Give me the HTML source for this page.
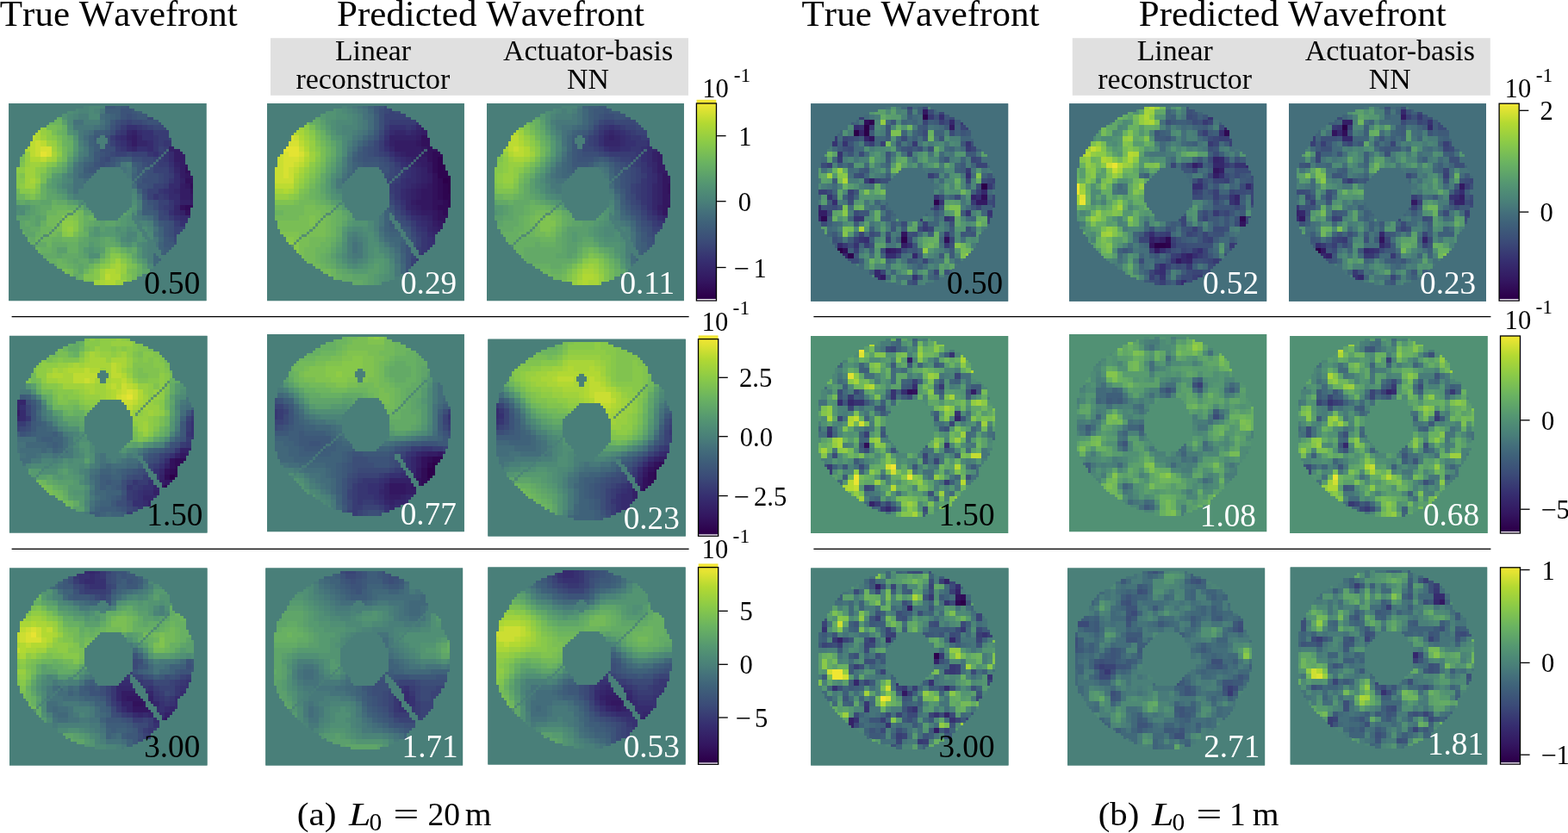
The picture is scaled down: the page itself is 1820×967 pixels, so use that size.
<!DOCTYPE html>
<html lang="en"><head><meta charset="utf-8"><title>Wavefront reconstruction</title>
<style>html,body{margin:0;padding:0;background:#fff;overflow:hidden}svg{display:block}text{font-family:"Liberation Serif",serif;fill:#000}.w{fill:#fff}.i{font-style:italic}</style></head><body>
<svg width="1820" height="967" viewBox="0 0 1820 967">
<rect width="1820" height="967" fill="#fff"/>
<defs><filter id="hb" x="-5%" y="-5%" width="110%" height="110%" color-interpolation-filters="sRGB"><feGaussianBlur stdDeviation="0.24"/></filter></defs>
<text x="-0.2" y="30.1" font-size="43.0" style="font-kerning:none">True Wavefront</text>
<text x="391.0" y="30.1" font-size="43.0" style="font-kerning:none">Predicted Wavefront</text>
<rect x="314" y="44.2" width="485" height="66.6" fill="#e0e0e0"/>
<text x="433.0" y="69.6" font-size="33.8" text-anchor="middle">Linear</text>
<text x="432.8" y="103.4" font-size="33.9" text-anchor="middle">reconstructor</text>
<text x="682.6" y="69.6" font-size="33.95" text-anchor="middle">Actuator-basis</text>
<text x="682.4" y="103.4" font-size="33.8" text-anchor="middle">NN</text>
<rect x="13.6" y="366.95" width="786" height="1.3" fill="#000"/>
<rect x="13.6" y="636.65" width="786" height="1.3" fill="#000"/>
<text x="930.5999999999999" y="30.1" font-size="43.0" style="font-kerning:none">True Wavefront</text>
<text x="1321.8" y="30.1" font-size="43.0" style="font-kerning:none">Predicted Wavefront</text>
<rect x="1244.8" y="44.2" width="485" height="66.6" fill="#e0e0e0"/>
<text x="1363.8" y="69.6" font-size="33.8" text-anchor="middle">Linear</text>
<text x="1363.6" y="103.4" font-size="33.9" text-anchor="middle">reconstructor</text>
<text x="1613.4" y="69.6" font-size="33.95" text-anchor="middle">Actuator-basis</text>
<text x="1613.1999999999998" y="103.4" font-size="33.8" text-anchor="middle">NN</text>
<rect x="944.4" y="366.95" width="786" height="1.3" fill="#000"/>
<rect x="944.4" y="636.65" width="786" height="1.3" fill="#000"/>
<svg x="10.2" y="120.0" width="229.3" height="229.3" viewBox="0 0 74 74" preserveAspectRatio="none" shape-rendering="crispEdges">
<rect width="74" height="74" fill="#497e79"/>
<g filter="url(#hb)"><rect x="-3" y="-3" width="80" height="80" fill="#497e79"/>
<g transform="scale(2) translate(0,.5)" fill="none" stroke-width="1">
<path stroke="#300b56" d="M34 15h1M33 19h2"/>
<path stroke="#32115b" d="M33 12h1M33 14h2M34 16h1M32 19h1M33 20h1"/>
<path stroke="#331760" d="M33 11h1M33 13h2M33 15h1M34 17h1"/>
<path stroke="#341c64" d="M23 6h1M23 7h1M31 8h1M31 9h2M31 10h2M32 11h1M32 12h1M32 13h1M32 15h1M32 16h2M32 17h2M34 18h1"/>
<path stroke="#342167" d="M23 5h1M22 6h1M30 8h1M31 11h1M32 14h1M32 18h2M32 20h1"/>
<path stroke="#35266a" d="M22 5h1M24 6h1M22 7h1M24 7h2M23 8h1M31 12h1M31 16h1M31 19h1M31 20h1"/>
<path stroke="#362b6e" d="M24 5h1M21 6h1M26 7h1M22 8h1M26 8h1M30 9h1M30 10h1M31 13h1M31 14h1M30 15h2M30 16h1M30 17h2M31 18h1M32 21h2"/>
<path stroke="#363071" d="M22 4h2M25 5h2M20 6h1M25 6h2M21 7h1M24 8h2M27 9h1M30 11h1M29 16h1M30 20h1M31 21h1M32 22h2"/>
<path stroke="#373672" d="M24 4h1M21 5h1M27 6h1M20 7h1M27 7h1M29 7h2M21 8h1M27 8h1M26 9h1M29 9h1M29 10h1M30 12h1M30 14h1M28 16h1M27 17h1M29 17h1M30 18h1M30 19h1"/>
<path stroke="#383c74" d="M21 4h1M25 4h1M20 5h1M27 5h3M19 6h1M28 6h2M28 7h1M20 8h1M29 8h1M28 9h1M28 10h1M28 11h2M30 13h1M29 15h1M28 17h1M29 19h1M30 21h1M31 22h1"/>
<path stroke="#394276" d="M22 3h1M26 4h1M30 6h1M19 7h1M28 8h1M20 9h2M23 9h3M27 10h1M27 11h1M27 12h3M29 13h1M29 14h1M27 15h2M26 16h2M26 17h1M28 18h2M28 19h1M29 20h1M31 23h2M31 24h1"/>
<path stroke="#3a4877" d="M26 2h1M21 3h1M23 3h2M20 4h1M27 4h3M19 9h1M22 9h1M18 10h1M25 10h2M26 11h1M28 13h1M28 14h1M28 20h1M28 21h2M31 25h1"/>
<path stroke="#3b4e78" d="M22 2h1M20 3h1M25 3h1M28 3h1M19 5h1M18 6h1M18 7h1M17 8h3M18 9h1M17 10h1M23 10h2M17 11h1M25 11h1M26 12h1M26 13h2M25 14h3M26 15h1M25 16h1M27 18h1M27 19h1M30 22h1M30 23h1M30 24h1M31 26h1"/>
<path stroke="#3c5379" d="M22 0h1M21 1h2M21 2h1M23 2h1M26 3h2M19 4h1M17 9h1M19 10h1M16 11h1M18 11h1M25 12h1M25 13h1M24 15h2M25 17h1M26 18h1M29 22h1M29 23h1M29 24h1M30 25h1"/>
<path stroke="#3d5879" d="M18 0h2M21 0h1M23 1h1M24 2h2M19 3h1M18 5h1M16 6h1M16 9h1M16 10h1M20 10h1M19 11h1M24 11h1M15 12h2M24 12h1M24 13h1M24 14h1M26 19h1M27 20h1M28 22h1M29 25h1M29 26h2M30 27h1"/>
<path stroke="#3e5d79" d="M20 0h1M18 1h3M24 1h1M20 2h1M16 5h2M16 7h1M16 8h1M21 10h2M15 11h1M23 11h1M14 12h1M25 18h1M25 19h1M25 20h2M27 21h1M29 27h1M28 28h2"/>
<path stroke="#3f627a" d="M19 2h1M18 4h1M15 6h1M15 7h1M14 11h1M20 11h1M14 13h2M23 13h1M23 14h1M24 16h1M28 23h1M28 24h1M28 26h1M28 27h1M28 29h1"/>
<path stroke="#40677a" d="M18 2h1M18 3h1M15 8h1M15 9h1M15 10h1M23 12h1M13 13h1M27 22h1M28 25h1M27 28h1M27 29h1M27 30h1"/>
<path stroke="#436c7b" d="M17 2h1M17 4h1M15 5h1M14 6h1M14 10h1M13 11h1M13 12h1M14 14h1M23 15h1M26 21h1M27 24h1"/>
<path stroke="#45727b" d="M12 3h2M17 3h1M16 4h1M14 5h1M14 7h1M12 12h1M21 12h1M12 13h1M12 14h2M12 15h2M12 16h1M24 17h1M24 20h1M25 21h1M27 23h1M27 26h1"/>
<path stroke="#47787a" d="M17 1h1M12 4h4M13 5h1M13 6h1M14 8h1M14 9h1M13 10h1M12 11h1M21 11h1M22 12h1M22 13h1M24 21h1M27 25h1"/>
<path stroke="#497e79" d="M13 2h2M14 3h3M13 7h1M13 9h1M22 11h1M11 13h1M22 14h1M11 15h1M11 16h1M13 16h1M12 17h2M24 18h1M24 19h1M26 22h1M26 26h1M26 27h1M26 28h1M26 29h1"/>
<path stroke="#4b8478" d="M14 0h1M17 0h1M13 1h2M16 1h1M12 2h1M13 8h1M11 14h1M10 15h1M23 16h1M24 22h2M26 23h1M22 24h2M22 25h1M25 26h1M25 27h1M25 28h1"/>
<path stroke="#4d8977" d="M15 0h2M12 1h1M15 1h1M11 2h1M15 2h2M11 3h1M12 5h1M12 10h1M11 12h1M10 13h1M10 14h1M11 17h1M23 17h1M1 19h1M2 20h1M22 23h1M26 24h1M21 25h1M23 25h1M26 25h1M24 26h1M26 30h1"/>
<path stroke="#4f8e75" d="M11 1h1M11 4h1M9 15h1M10 16h1M13 18h2M23 18h1M2 19h1M1 20h1M23 20h1M20 23h1M23 23h3M21 24h1M25 25h1M22 26h1M15 28h2"/>
<path stroke="#529373" d="M10 2h1M11 5h1M12 6h1M12 9h1M11 11h1M9 14h1M9 16h1M3 19h1M23 19h1M22 21h1M22 22h2M16 23h1M21 23h1M16 24h1M20 24h1M24 24h1M24 25h1M21 26h1M15 27h1M24 27h1M24 28h1M25 29h1"/>
<path stroke="#559971" d="M12 7h1M12 8h1M9 13h1M8 14h1M8 15h1M10 17h1M12 18h1M14 19h1M22 19h1M3 20h1M22 20h1M21 21h1M21 22h1M18 23h2M15 24h1M17 24h3M20 25h1M15 26h1M23 26h1M14 27h1M16 27h1"/>
<path stroke="#5a9e6d" d="M10 3h1M11 10h1M10 12h1M8 13h1M7 15h1M8 16h1M9 17h1M11 18h1M4 19h1M4 20h1M1 21h3M5 21h1M20 21h1M5 22h1M17 22h1M20 22h1M15 23h1M17 23h1M15 25h2M16 26h1M9 27h2M17 27h1M14 28h1M15 29h1M24 29h1M25 30h1"/>
<path stroke="#5ea46a" d="M7 14h1M7 16h1M7 17h2M1 18h1M3 18h1M6 18h2M5 19h1M5 20h1M14 20h2M21 20h1M4 21h1M6 21h1M2 22h1M4 22h1M16 22h1M18 22h2M2 23h2M3 24h2M14 25h1M17 25h1M19 25h1M13 26h2M17 26h1M20 26h1M13 27h1M22 27h1M9 28h1M13 28h1M23 28h1M12 29h1M13 30h1M13 31h1M25 31h2"/>
<path stroke="#63a967" d="M11 6h1M11 9h1M10 11h1M9 12h1M2 18h1M4 18h2M9 18h2M6 19h2M13 19h1M6 20h1M3 22h1M15 22h1M4 23h2M14 23h1M4 25h1M13 25h1M18 25h1M5 26h2M8 26h3M18 26h2M8 27h1M23 27h1M6 28h3M10 28h3M17 28h1M11 29h1M13 29h2M16 29h1M8 30h1M12 30h1M14 30h1M12 32h1M24 32h1"/>
<path stroke="#67af63" d="M9 2h1M10 4h1M10 5h1M11 7h1M11 8h1M8 12h1M6 15h1M6 16h1M6 17h1M8 18h1M11 19h2M14 21h1M16 21h1M6 22h1M14 22h1M2 24h1M5 24h1M14 24h1M3 25h1M8 25h2M4 26h1M11 26h2M6 27h2M11 27h2M21 27h1M7 29h2M10 29h1M23 29h1M11 30h1M24 30h1M12 31h1M24 31h1M13 32h1"/>
<path stroke="#6cb45f" d="M7 3h3M9 5h1M10 6h1M10 7h1M9 11h1M7 13h1M1 17h2M8 19h3M7 20h2M15 21h1M6 23h2M6 24h1M9 24h1M13 24h1M5 25h3M10 25h3M7 26h1M5 27h1M18 27h1M22 28h1M9 29h1M9 30h2M15 30h1M14 31h1"/>
<path stroke="#73b95a" d="M9 4h1M10 8h1M10 9h1M10 10h1M7 12h1M1 16h1M5 17h1M9 20h2M13 20h1M7 21h3M13 21h1M7 22h2M13 22h1M8 23h1M13 23h1M7 24h2M20 27h1M18 28h1M17 29h1M11 31h1M23 31h1M11 32h1M23 32h1"/>
<path stroke="#79be55" d="M7 4h2M8 5h1M9 6h1M2 9h1M2 10h1M6 13h1M6 14h1M3 17h1M11 20h2M9 22h1M9 23h1M12 24h1M19 27h1M21 28h1M22 29h1M16 30h1M23 30h1M10 31h1M15 31h1M22 31h1M14 33h2"/>
<path stroke="#80c350" d="M9 7h1M9 10h1M2 11h1M8 11h1M2 13h1M5 16h1M4 17h1M12 21h1M18 29h1M22 30h1M14 32h2M22 32h1M22 33h1"/>
<path stroke="#87c84b" d="M8 6h1M9 8h1M7 11h1M6 12h1M1 13h1M1 14h2M1 15h1M5 15h1M2 16h2M10 21h2M12 22h1M12 23h1M10 24h1M19 28h2M21 29h1M17 30h1M16 31h1M16 32h1"/>
<path stroke="#8ecc46" d="M7 5h1M7 6h1M9 9h1M1 12h2M5 12h1M5 13h1M2 15h1M4 16h1M10 22h2M10 23h1M11 24h1M19 29h1M18 30h1M21 32h1"/>
<path stroke="#97cf41" d="M6 4h1M6 5h1M8 7h1M3 9h1M3 10h1M3 11h1M6 11h1M5 14h1M11 23h1M21 30h1M21 31h1"/>
<path stroke="#9fd23d" d="M6 6h1M7 7h1M8 8h1M8 10h1M4 11h2M3 12h2M3 13h2M3 14h1M3 15h2M20 29h1M19 30h1M17 31h1M17 32h1M16 33h1M20 33h2"/>
<path stroke="#a8d538" d="M8 9h1M7 10h1M4 14h1M20 30h1M20 31h1M17 33h1"/>
<path stroke="#b0d833" d="M5 5h1M5 6h1M3 8h1M4 10h2M18 31h2M19 32h2M18 33h2"/>
<path stroke="#bcdb32" d="M4 6h1M4 7h1M6 7h1M4 8h1M4 9h1M6 10h1M18 32h1"/>
<path stroke="#cade32" d="M5 7h1M5 8h1M5 9h1"/>
<path stroke="#d7e132" d="M6 8h2M7 9h1"/>
<path stroke="#e4e432" d="M6 9h1"/>
</g>
<path transform="translate(0,.5)" fill="none" stroke-width="1.08" stroke="#497e79" d="M28 0h18M45 1h1M22 2h3M47 2h3M18 4h2M52 4h2M14 6h3M56 6h2M14 7h1M57 7h1M12 8h2M58 8h2M59 9h1M10 10h1M8 12h1M60 12h2M8 13h1M33 13h1M36 13h1M61 13h1M33 14h1M36 14h1M61 14h1M61 15h1M6 16h1M34 16h2M62 16h2M4 18h2M65 18h1M4 19h1M66 22h2M67 23h1M2 24h1M67 24h1M2 25h1M33 25h1M42 25h1M2 26h1M68 26h2M2 27h1M31 27h1M69 27h1M2 28h1M44 28h1M69 28h1M2 29h1M29 29h1M44 29h1M69 29h1M2 30h1M69 30h1M2 31h1M69 31h1M2 32h1M69 32h1M2 33h1M69 33h1M2 34h1M69 34h1M2 35h1M69 35h1M2 36h1M28 36h2M69 36h1M2 37h1M29 37h1M69 37h1M2 38h1M29 38h1M44 38h2M69 38h1M2 39h1M44 39h1M68 39h2M2 40h1M31 40h1M42 40h2M2 41h1M42 41h1M46 41h1M2 42h1M32 42h2M40 42h2M2 43h1M33 43h1M40 43h1M67 43h1M47 44h2M67 44h1M48 45h2M66 45h2M48 46h2M4 47h1M49 47h2M65 47h1M4 48h1M4 49h2M63 49h1M6 50h1M51 50h2M63 50h1M6 51h1M52 51h2M63 51h1M52 52h3M63 52h1M8 53h1M53 53h2M62 53h2M61 54h1M10 55h1M56 55h1M60 55h2M55 56h2M59 56h1M12 57h1M56 57h4M57 58h1M14 59h1M56 59h2M16 60h1M55 60h1M16 61h2M54 61h2M53 62h1M20 63h1M53 63h1M22 64h1M22 65h3M48 65h2M28 67h4M43 67h3"/>
<path transform="translate(0,.5)" fill="none" stroke-width="1" stroke="#497e79" stroke-opacity="0.75" d="M59 17h1M58 18h1M57 19h1M56 20h1M55 21h1M54 22h1M53 23h1M51 24h2M50 25h1M49 26h1M48 27h1M47 28h1M46 29h1M27 37h1M26 38h1M25 39h1M24 40h1M22 41h2M21 42h1M20 43h1M19 44h1M18 45h1M17 46h1M16 47h1M15 48h1M13 49h2M12 50h1M11 51h1M10 52h1M9 53h1"/>
</g></svg>
<text x="232.3" y="341.1" font-size="37.2" text-anchor="end">0.50</text>
<svg x="310.0" y="120.0" width="228.8" height="229.3" viewBox="0 0 74 74" preserveAspectRatio="none" shape-rendering="crispEdges">
<rect width="74" height="74" fill="#497e79"/>
<g filter="url(#hb)"><rect x="-3" y="-3" width="80" height="80" fill="#497e79"/>
<g transform="scale(2) translate(0,.5)" fill="none" stroke-width="1">
<path stroke="#2d004b" d="M33 11h1M34 13h1M33 14h2M34 15h1M34 16h1"/>
<path stroke="#2e0550" d="M32 10h1M32 11h1M32 12h2M32 13h2M33 15h1M33 16h1M33 17h2M34 18h1M34 19h1"/>
<path stroke="#300b56" d="M31 9h2M31 10h1M31 11h1M31 12h1M32 14h1M32 15h1M32 16h1M32 17h1M33 18h1M32 19h2M33 20h1"/>
<path stroke="#32115b" d="M29 6h2M29 7h2M30 8h2M30 9h1M30 10h1M31 13h1M31 14h1M31 15h1M31 16h1M31 17h1M31 18h2M31 19h1M32 20h1M32 21h2M33 22h1"/>
<path stroke="#331760" d="M28 7h1M29 8h1M29 9h1M30 11h1M30 12h1M30 15h1M29 16h2M29 17h2M28 18h3M29 19h2M31 20h1M31 21h1M32 22h1"/>
<path stroke="#341c64" d="M29 4h1M29 5h1M28 6h1M24 7h4M24 8h5M26 9h3M28 10h2M29 11h1M30 13h1M30 14h1M29 15h1M28 16h1M28 17h1M27 18h1M28 19h1M29 20h2M31 22h1M32 23h1"/>
<path stroke="#342167" d="M28 5h1M23 6h5M23 7h1M25 9h1M27 10h1M28 11h1M29 12h1M29 13h1M29 14h1M28 15h1M27 16h1M27 17h1M27 19h1M28 20h1M30 21h1M31 23h1"/>
<path stroke="#35266a" d="M28 4h1M24 5h2M27 5h1M23 8h1M24 9h1M26 10h1M27 11h1M28 12h1M28 13h1M28 14h1M27 15h1M26 16h1M26 17h1M26 18h1M26 19h1M27 20h1M29 21h1M30 22h1M30 23h1M31 24h1"/>
<path stroke="#362b6e" d="M23 5h1M26 5h1M22 7h1M25 10h1M26 11h1M27 12h1M27 13h1M26 14h2M26 15h1M25 16h1M25 17h1M28 21h1M29 22h1M30 24h1M31 25h1"/>
<path stroke="#363071" d="M28 3h1M23 4h3M27 4h1M22 6h1M22 8h1M23 9h1M24 10h1M25 11h1M26 12h1M26 13h1M25 14h1M25 15h1M25 18h1M26 20h1M27 21h1M28 22h1M29 23h1M30 25h1M30 26h2M30 27h1M29 28h1"/>
<path stroke="#373672" d="M26 4h1M22 5h1M25 12h1M25 13h1M24 15h1M24 16h1M24 17h1M25 19h1M28 23h1M29 24h1M29 25h1M29 26h1M29 27h1M28 28h1M28 29h1"/>
<path stroke="#383c74" d="M23 3h5M22 4h1M21 7h1M21 8h1M22 9h1M23 10h1M24 11h1M24 14h1M23 15h1M23 16h1M24 18h1M25 20h1M26 21h1M27 22h1M28 24h1M28 27h1M27 30h1"/>
<path stroke="#394276" d="M23 1h1M22 2h5M22 3h1M21 6h1M21 9h1M24 12h1M24 13h1M23 14h1M23 17h1M24 19h1M27 23h1M28 25h1M28 26h1M27 29h1"/>
<path stroke="#3a4877" d="M22 0h1M22 1h1M24 1h1M21 5h1M20 7h1M20 8h1M20 9h1M22 10h1M23 11h1M23 12h1M23 13h1M22 14h1M23 18h1M24 20h1M25 21h1M26 22h1M27 24h1M27 28h1"/>
<path stroke="#3b4e78" d="M21 1h1M21 2h1M21 3h1M21 4h1M19 8h1M19 9h1M21 10h1M22 11h1M22 13h1M24 21h1M25 22h1M27 25h1M27 26h1"/>
<path stroke="#3c5379" d="M21 0h1M20 6h1M19 7h1M18 8h1M18 9h1M18 10h3M21 11h1M21 12h2M23 19h1M24 22h1M26 23h1M26 26h1M26 27h1M26 28h1M26 29h1M26 30h1M26 31h1"/>
<path stroke="#3d5879" d="M20 0h1M20 1h1M20 5h1M17 9h1M17 10h1M18 11h3M23 20h1M23 22h1M25 23h1M26 24h1M26 25h1"/>
<path stroke="#3e5d79" d="M20 2h1M20 3h1M20 4h1M19 6h1M18 7h1M17 8h1M16 10h1M17 11h1M22 19h1M23 23h2M25 26h1M25 27h1"/>
<path stroke="#3f627a" d="M19 0h1M16 9h1M16 11h1M16 12h1M22 20h1M22 21h1M22 22h1M22 23h1M23 24h2M25 25h1M25 28h1M25 29h1"/>
<path stroke="#40677a" d="M19 1h1M19 5h1M18 6h1M17 7h1M15 13h1M22 24h1M23 25h2M24 26h1M25 30h1M25 31h1"/>
<path stroke="#436c7b" d="M18 0h1M19 2h1M19 3h1M19 4h1M16 8h1M15 10h1M15 11h1M15 12h1M14 14h1M21 23h1M22 25h1M23 26h1M24 27h1"/>
<path stroke="#45727b" d="M17 0h1M18 1h1M18 2h1M18 5h1M17 6h1M16 7h1M15 9h1M14 13h1M21 20h1M21 21h1M21 22h1M21 24h1M16 26h1M16 27h1M24 28h1M24 29h1"/>
<path stroke="#47787a" d="M16 0h1M17 1h1M18 3h1M18 4h1M17 5h1M16 6h1M15 8h1M14 12h1M13 14h1M13 15h1M16 25h1M21 25h1M17 26h1M22 26h1M17 27h1M23 27h1M16 28h2M24 30h1M24 31h1M24 32h1"/>
<path stroke="#497e79" d="M15 0h1M16 1h1M17 2h1M17 3h1M17 4h1M16 5h1M15 7h1M14 10h1M14 11h1M20 21h1M20 22h1M20 23h1M16 24h1M15 25h1M17 25h1M15 26h1M15 27h1M15 28h1M23 28h1M16 29h1"/>
<path stroke="#4b8478" d="M14 0h1M15 1h1M16 2h1M16 3h1M14 4h3M14 5h2M15 6h1M13 13h1M13 16h1M15 24h1M17 24h1M20 24h1M18 25h1M18 26h1M21 26h1M18 27h1M22 27h1M18 28h1M15 29h1M17 29h1M23 29h1"/>
<path stroke="#4d8977" d="M14 1h1M15 2h1M13 3h3M13 4h1M13 5h1M14 6h1M14 7h1M14 8h1M14 9h1M13 12h1M12 14h1M12 15h1M19 22h1M16 23h2M19 23h1M18 24h1M20 25h1M21 27h1M14 28h1M22 28h1M18 29h1M16 30h1M23 30h1M23 31h1M23 32h1"/>
<path stroke="#4f8e75" d="M13 1h1M13 2h2M12 3h1M12 4h1M13 11h1M12 13h1M12 16h1M13 17h1M14 18h1M15 23h1M18 23h1M19 24h1M19 25h1M14 26h1M19 26h2M14 27h1M19 27h1M19 28h1M14 29h1M15 30h1M17 30h1M22 32h1M22 33h1"/>
<path stroke="#529373" d="M11 1h2M11 2h2M11 3h1M12 5h1M13 6h1M13 10h1M12 17h1M16 22h3M14 24h1M14 25h1M20 27h1M13 28h1M20 28h2M19 29h1M22 29h1M18 30h1M22 30h1M22 31h1M21 32h1M21 33h1"/>
<path stroke="#559971" d="M10 2h1M11 4h1M12 6h1M13 7h1M13 8h1M13 9h1M12 12h1M11 14h1M11 15h1M11 16h1M13 18h1M14 19h1M16 21h1M15 22h1M14 23h1M13 27h1M13 29h1M20 29h2M14 30h1M19 30h1M21 30h1M16 31h3M21 31h1M20 32h1M20 33h1"/>
<path stroke="#5a9e6d" d="M10 3h1M11 5h1M12 11h1M11 13h1M11 17h1M12 18h1M15 20h1M15 21h1M13 26h1M12 28h1M13 30h1M20 30h1M15 31h1M19 31h2M19 32h1M19 33h1"/>
<path stroke="#5ea46a" d="M9 2h1M10 4h1M12 7h1M12 10h1M11 12h1M10 15h1M10 16h1M13 19h1M14 20h1M14 22h1M13 25h1M12 27h1M12 29h1M14 31h1M16 32h3M18 33h1"/>
<path stroke="#63a967" d="M9 3h1M11 6h1M12 8h1M12 9h1M11 11h1M10 13h1M10 14h1M10 17h1M11 18h1M14 21h1M13 23h1M13 24h1M12 26h1M11 28h1M11 29h1M12 30h1M13 31h1M14 32h2M14 33h4"/>
<path stroke="#67af63" d="M8 3h1M9 4h1M10 5h1M11 7h1M11 10h1M9 15h1M9 16h1M9 17h1M10 18h1M12 19h1M13 20h1M13 21h1M13 22h1M12 25h1M11 27h1M10 28h1M10 29h1M11 30h1M13 32h1"/>
<path stroke="#6cb45f" d="M10 6h1M11 8h1M11 9h1M10 12h1M9 14h1M8 16h1M8 17h1M9 18h1M11 19h1M1 20h2M12 20h1M12 21h1M12 22h1M12 23h1M12 24h1M11 25h1M10 26h2M9 27h2M9 28h1M9 29h1M10 30h1M12 31h1M12 32h1"/>
<path stroke="#73b95a" d="M9 5h1M10 7h1M10 11h1M9 13h1M8 15h1M7 17h1M6 18h3M1 19h6M9 19h2M3 20h4M10 20h2M1 21h5M11 21h1M11 22h1M11 23h1M11 24h1M8 25h3M8 26h2M7 27h2M7 28h2M7 29h2M8 30h2M10 31h2"/>
<path stroke="#79be55" d="M7 3h1M8 4h1M9 6h1M10 8h1M10 9h1M10 10h1M9 12h1M8 14h1M7 16h1M6 17h1M5 18h1M7 19h2M7 20h3M6 21h2M9 21h2M2 22h6M9 22h2M2 23h9M6 24h5M6 25h2M6 26h2M6 27h1M6 28h1M11 32h1"/>
<path stroke="#80c350" d="M9 7h1M9 11h1M8 13h1M7 15h1M6 16h1M1 18h4M8 21h1M8 22h1M2 24h4M5 25h1"/>
<path stroke="#87c84b" d="M8 5h1M9 8h1M9 10h1M8 12h1M7 14h1M5 17h1M3 25h2M5 26h1M5 27h1"/>
<path stroke="#8ecc46" d="M7 4h1M8 6h1M9 9h1M8 11h1M7 13h1M6 15h1M4 17h1M4 26h1"/>
<path stroke="#97cf41" d="M7 5h1M8 7h1M8 8h1M7 12h1M6 14h1M5 16h1M1 17h3"/>
<path stroke="#9fd23d" d="M6 4h1M7 6h1M8 9h1M8 10h1M6 13h1M5 15h1"/>
<path stroke="#a8d538" d="M6 5h1M7 7h1M7 11h1M6 12h1M5 14h1M1 16h2M4 16h1"/>
<path stroke="#b0d833" d="M5 5h1M6 6h1M7 8h1M7 10h1M5 13h1M3 16h1"/>
<path stroke="#bcdb32" d="M6 7h1M7 9h1M6 11h1M5 12h1M1 15h4"/>
<path stroke="#cade32" d="M5 6h1M6 8h1M2 9h1M2 10h1M6 10h1M2 11h1M5 11h1M1 12h2M4 12h1M1 13h2M4 13h1M1 14h4"/>
<path stroke="#d7e132" d="M4 6h1M4 7h2M3 9h1M6 9h1M3 10h3M3 11h2M3 12h1M3 13h1"/>
<path stroke="#e4e432" d="M3 8h3M4 9h2"/>
</g>
<path transform="translate(0,.5)" fill="none" stroke-width="1.08" stroke="#497e79" d="M28 0h18M45 1h1M22 2h3M47 2h3M18 4h2M52 4h2M14 6h3M56 6h2M14 7h1M57 7h1M12 8h2M58 8h2M59 9h1M10 10h1M8 12h1M60 12h2M8 13h1M61 13h1M61 14h1M61 15h1M6 16h1M62 16h2M4 18h2M65 18h1M4 19h1M66 22h2M67 23h1M2 24h1M67 24h1M2 25h1M33 25h1M42 25h1M2 26h1M68 26h2M2 27h1M31 27h1M69 27h1M2 28h1M44 28h1M69 28h1M2 29h1M29 29h1M44 29h1M69 29h1M2 30h1M69 30h1M2 31h1M69 31h1M2 32h1M69 32h1M2 33h1M69 33h1M2 34h1M69 34h1M2 35h1M69 35h1M2 36h1M28 36h2M69 36h1M2 37h1M29 37h1M69 37h1M2 38h1M29 38h1M44 38h2M69 38h1M2 39h1M44 39h1M68 39h2M2 40h1M31 40h1M42 40h2M2 41h1M42 41h1M46 41h1M2 42h1M32 42h2M40 42h2M2 43h1M33 43h1M40 43h1M67 43h1M47 44h2M67 44h1M48 45h2M66 45h2M48 46h2M4 47h1M49 47h2M65 47h1M4 48h1M4 49h2M63 49h1M6 50h1M51 50h2M63 50h1M6 51h1M52 51h2M63 51h1M52 52h3M63 52h1M8 53h1M53 53h2M62 53h2M61 54h1M10 55h1M56 55h1M60 55h2M55 56h2M59 56h1M12 57h1M56 57h4M57 58h1M14 59h1M56 59h2M16 60h1M55 60h1M16 61h2M54 61h2M53 62h1M20 63h1M53 63h1M22 64h1M22 65h3M48 65h2M28 67h4M43 67h3"/>
<path transform="translate(0,.5)" fill="none" stroke-width="1" stroke="#497e79" stroke-opacity="0.75" d="M59 17h1M58 18h1M57 19h1M56 20h1M55 21h1M54 22h1M53 23h1M51 24h2M50 25h1M49 26h1M48 27h1M47 28h1M46 29h1M27 37h1M26 38h1M25 39h1M24 40h1M22 41h2M21 42h1M20 43h1M19 44h1M18 45h1M17 46h1M16 47h1M15 48h1M13 49h2M12 50h1M11 51h1M10 52h1M9 53h1"/>
</g></svg>
<text x="530.1" y="341.2" font-size="37.2" class="w" text-anchor="end">0.29</text>
<svg x="565.1" y="120.0" width="228.7" height="229.3" viewBox="0 0 74 74" preserveAspectRatio="none" shape-rendering="crispEdges">
<rect width="74" height="74" fill="#497e79"/>
<g filter="url(#hb)"><rect x="-3" y="-3" width="80" height="80" fill="#497e79"/>
<g transform="scale(2) translate(0,.5)" fill="none" stroke-width="1">
<path stroke="#32115b" d="M34 15h1M34 16h1M34 19h1"/>
<path stroke="#331760" d="M33 13h2M33 14h2M33 15h1M33 16h1M33 17h2M33 18h2M33 19h1M33 20h1"/>
<path stroke="#341c64" d="M32 9h1M32 10h1M32 11h2M32 12h2M32 19h1"/>
<path stroke="#342167" d="M23 6h1M31 9h1M31 10h1M32 13h1M32 14h1M32 15h1M32 16h1M32 17h1M32 18h1M32 20h1"/>
<path stroke="#35266a" d="M23 5h1M22 6h1M24 6h1M22 7h3M31 8h1M31 11h1M31 12h1M31 15h1M31 16h1M31 17h1M31 18h1M31 19h1M33 21h1"/>
<path stroke="#362b6e" d="M22 5h1M24 5h1M25 6h1M25 7h1M23 8h2M30 8h1M30 9h1M30 10h1M30 11h1M31 13h1M31 14h1M31 20h1M32 21h1"/>
<path stroke="#363071" d="M23 4h1M25 5h1M21 6h1M26 6h1M21 7h1M26 7h2M30 7h1M22 8h1M25 8h2M29 8h1M29 9h1M29 10h1M30 12h1M30 13h1M30 14h1M30 15h1M30 16h1M30 17h1M30 18h1M30 19h1M33 22h1"/>
<path stroke="#373672" d="M22 4h1M24 4h1M21 5h1M26 5h1M27 6h2M28 7h2M27 8h2M28 9h1M29 11h1M29 12h1M29 14h1M29 15h1M29 16h1M29 17h1M29 18h1M30 20h1M31 21h1M32 22h1"/>
<path stroke="#383c74" d="M21 4h1M25 4h1M27 5h1M20 6h1M29 6h2M20 7h1M21 8h1M23 9h5M27 10h2M28 11h1M29 13h1M28 15h1M28 16h1M28 17h1M29 19h1M30 21h1M31 22h1"/>
<path stroke="#394276" d="M22 3h2M26 4h2M20 5h1M28 5h2M19 6h1M19 7h1M20 8h1M22 9h1M25 10h2M27 11h1M28 12h1M28 13h1M28 14h1M27 15h1M27 16h1M28 18h1M29 20h1M31 23h2"/>
<path stroke="#3a4877" d="M21 3h1M24 3h4M20 4h1M28 4h2M18 7h1M18 8h2M21 9h1M24 10h1M26 11h1M27 12h1M27 13h1M27 14h1M27 17h1M27 18h1M28 19h1M29 21h1M30 22h1M31 24h1"/>
<path stroke="#3b4e78" d="M22 2h2M26 2h1M28 3h1M19 5h1M18 6h1M18 9h3M23 10h1M25 11h1M25 12h2M26 13h1M26 14h1M26 15h1M26 16h1M26 17h1M27 19h1M28 20h1M29 22h1M30 23h1M30 24h1M31 25h1"/>
<path stroke="#3c5379" d="M22 1h1M21 2h1M24 2h2M20 3h1M17 8h1M17 9h1M17 10h3M24 11h1M25 13h1M25 14h1M25 15h1M26 18h1M27 20h1M28 21h1M29 23h1M30 25h1M30 26h2"/>
<path stroke="#3d5879" d="M21 0h2M20 1h2M23 1h2M20 2h1M19 4h1M18 5h1M16 7h1M16 8h1M16 9h1M16 10h1M20 10h1M22 10h1M16 11h3M24 12h1M24 13h1M25 16h1M26 19h1M28 22h1M29 24h1M29 25h1M30 27h1"/>
<path stroke="#3e5d79" d="M19 0h2M19 1h1M19 2h1M19 3h1M17 5h1M16 6h1M21 10h1M19 11h1M23 11h1M16 12h1M24 14h1M24 15h1M25 17h1M25 18h1M26 20h1M27 21h1M28 23h1M29 26h1M29 27h1M29 28h1"/>
<path stroke="#3f627a" d="M18 0h1M18 4h1M16 5h1M15 9h1M15 10h1M15 11h1M15 12h1M23 12h1M24 16h1M25 19h1M28 24h1M28 25h1M28 26h1M28 27h1M28 28h1M28 29h1"/>
<path stroke="#40677a" d="M18 1h1M18 2h1M18 3h1M17 4h1M15 6h1M15 7h1M15 8h1M14 11h1M20 11h1M22 11h1M14 12h1M14 13h2M23 13h1M23 14h1M25 20h1M26 21h1M27 22h1"/>
<path stroke="#436c7b" d="M16 4h1M15 5h1M14 10h1M21 11h1M13 12h1M13 13h1M23 15h1M24 17h1M25 21h1M27 23h1M27 28h1M27 29h1"/>
<path stroke="#45727b" d="M17 1h1M17 2h1M17 3h1M14 4h2M14 5h1M14 6h1M14 7h1M14 9h1M13 11h1M22 12h1M12 13h1M13 14h2M24 18h1M24 19h1M26 22h1M27 24h1M27 25h1M27 26h1M27 30h1"/>
<path stroke="#47787a" d="M17 0h1M16 2h1M13 3h4M13 4h1M14 8h1M12 12h1M21 12h1M22 13h1M12 14h1M12 15h2M13 16h1M23 16h1M24 20h1M24 21h1M25 22h1"/>
<path stroke="#497e79" d="M14 1h1M16 1h1M13 2h3M12 3h1M13 5h1M13 10h1M11 13h1M11 14h1M22 14h1M12 16h1M23 17h1M24 22h1M26 23h1M26 24h1M26 26h1M26 27h1M26 28h1"/>
<path stroke="#4b8478" d="M14 0h3M13 1h1M15 1h1M12 2h1M12 4h1M13 6h1M13 9h1M12 11h1M11 15h1M11 16h1M13 17h1M23 18h1M25 23h1M26 25h1M26 29h1"/>
<path stroke="#4d8977" d="M12 1h1M12 5h1M13 7h1M13 8h1M11 12h1M10 14h1M12 17h1M23 19h1M23 20h1M23 22h1M22 23h3M22 24h2M25 25h1M26 30h1"/>
<path stroke="#4f8e75" d="M11 1h1M11 2h1M11 3h1M12 10h1M10 13h1M10 15h1M10 16h1M11 17h1M14 18h1M22 22h1M21 23h1M21 24h1M24 24h1M22 25h3M25 26h1M25 27h1M25 28h1"/>
<path stroke="#529373" d="M11 4h1M12 6h1M11 11h1M9 14h1M9 15h1M13 18h1M22 19h1M1 20h1M22 20h1M22 21h1M21 22h1M20 23h1M20 24h1M21 25h1M22 26h3M24 27h1M25 29h1M26 31h1"/>
<path stroke="#559971" d="M10 2h1M11 5h1M12 7h1M12 8h1M12 9h1M10 12h1M9 13h1M9 16h1M10 17h1M12 18h1M1 19h2M14 19h1M2 20h1M21 20h1M21 21h1M20 22h1M19 23h1M16 24h1M19 24h1M16 25h1M20 25h1M21 26h1M24 28h1M25 30h1"/>
<path stroke="#5a9e6d" d="M10 3h1M11 10h1M8 14h1M8 15h1M8 16h1M9 17h1M11 18h1M3 19h1M3 20h1M1 21h2M20 21h1M18 22h2M15 23h4M15 24h1M17 24h2M15 25h1M17 25h1M15 26h2M15 27h2M23 27h1M15 28h1"/>
<path stroke="#5ea46a" d="M9 2h1M10 4h1M11 6h1M10 11h1M9 12h1M8 17h1M1 18h1M10 18h1M4 19h1M13 19h1M4 20h1M15 20h1M3 21h2M2 22h1M16 22h2M14 24h1M14 25h1M18 25h2M14 26h1M17 26h1M20 26h1M14 27h1M22 27h1M13 28h2M16 28h1M23 28h1M24 29h1M25 31h1"/>
<path stroke="#63a967" d="M10 5h1M11 7h1M11 9h1M8 13h1M7 15h1M7 16h1M7 17h1M2 18h2M5 18h3M9 18h1M5 19h2M12 19h1M5 20h2M14 20h1M5 21h1M15 21h2M3 22h3M15 22h1M2 23h3M14 23h1M2 24h1M13 25h1M9 26h1M13 26h1M18 26h2M7 27h7M17 27h1M21 27h1M7 28h6M7 29h9M12 30h2M24 30h1"/>
<path stroke="#67af63" d="M9 3h1M9 4h1M10 6h1M11 8h1M10 10h1M7 14h1M6 17h1M4 18h1M8 18h1M7 19h1M11 19h1M7 20h1M6 21h1M14 21h1M6 22h1M14 22h1M5 23h2M3 24h3M13 24h1M3 25h7M4 26h5M10 26h3M5 27h2M6 28h1M17 28h1M22 28h1M16 29h1M23 29h1M8 30h4M14 30h1M12 31h2M24 31h1M24 32h1"/>
<path stroke="#6cb45f" d="M8 3h1M9 5h1M10 7h1M9 11h1M8 12h1M7 13h1M6 15h1M6 16h1M1 17h2M5 17h1M8 19h3M8 20h1M13 20h1M7 21h1M7 22h1M7 23h2M13 23h1M6 24h3M10 25h3M18 27h1M20 27h1M15 30h1M23 30h1M10 31h2M14 31h1M12 32h2"/>
<path stroke="#73b95a" d="M7 3h1M8 4h1M9 6h1M10 8h1M10 9h1M6 14h1M3 17h2M9 20h4M8 21h1M13 21h1M8 22h1M13 22h1M9 23h1M9 24h2M12 24h1M19 27h1M18 28h1M21 28h1M17 29h1M22 29h1M23 31h1M11 32h1M14 32h1M23 32h1"/>
<path stroke="#79be55" d="M8 5h1M9 10h1M8 11h1M7 12h1M6 13h1M1 16h1M5 16h1M9 21h2M12 21h1M9 22h1M12 23h1M11 24h1M20 28h1M16 30h1M22 30h1M15 31h1M14 33h1"/>
<path stroke="#80c350" d="M7 4h1M9 7h1M2 10h1M1 15h1M5 15h1M2 16h3M11 21h1M10 22h3M10 23h2M19 28h1M21 29h1M22 31h1M15 32h1M22 32h1"/>
<path stroke="#87c84b" d="M7 5h1M8 6h1M9 8h1M2 9h1M9 9h1M2 11h1M7 11h1M1 12h2M6 12h1M1 13h1M1 14h1M5 14h1M2 15h1M18 29h1M17 30h1M21 30h1M16 31h1M15 33h1M22 33h1"/>
<path stroke="#8ecc46" d="M6 4h1M8 7h1M3 10h1M8 10h1M3 11h1M3 12h1M5 12h1M2 13h1M5 13h1M2 14h1M3 15h2M19 29h2M21 31h1M16 32h1"/>
<path stroke="#97cf41" d="M7 6h1M8 8h1M3 9h1M4 11h3M4 12h1M3 13h2M3 14h2M18 30h1M20 30h1M17 31h1M21 32h1M16 33h1M21 33h1"/>
<path stroke="#9fd23d" d="M6 5h1M7 7h1M8 9h1M4 10h1M7 10h1M19 30h1M20 31h1M17 32h1"/>
<path stroke="#a8d538" d="M6 6h1M3 8h1M5 10h2M18 31h2M20 32h1M17 33h1M19 33h2"/>
<path stroke="#b0d833" d="M5 5h1M6 7h1M7 8h1M4 9h1M7 9h1M18 32h2M18 33h1"/>
<path stroke="#bcdb32" d="M4 6h2M4 7h2M4 8h1M6 8h1M5 9h2"/>
<path stroke="#cade32" d="M5 8h1"/>
</g>
<path transform="translate(0,.5)" fill="none" stroke-width="1.08" stroke="#497e79" d="M28 0h18M45 1h1M22 2h3M47 2h3M18 4h2M52 4h2M14 6h3M56 6h2M14 7h1M57 7h1M12 8h2M58 8h2M59 9h1M10 10h1M8 12h1M60 12h2M8 13h1M33 13h1M36 13h1M61 13h1M33 14h1M36 14h1M61 14h1M61 15h1M6 16h1M34 16h2M62 16h2M4 18h2M65 18h1M4 19h1M66 22h2M67 23h1M2 24h1M67 24h1M2 25h1M33 25h1M42 25h1M2 26h1M68 26h2M2 27h1M31 27h1M69 27h1M2 28h1M44 28h1M69 28h1M2 29h1M29 29h1M44 29h1M69 29h1M2 30h1M69 30h1M2 31h1M69 31h1M2 32h1M69 32h1M2 33h1M69 33h1M2 34h1M69 34h1M2 35h1M69 35h1M2 36h1M28 36h2M69 36h1M2 37h1M29 37h1M69 37h1M2 38h1M29 38h1M44 38h2M69 38h1M2 39h1M44 39h1M68 39h2M2 40h1M31 40h1M42 40h2M2 41h1M42 41h1M46 41h1M2 42h1M32 42h2M40 42h2M2 43h1M33 43h1M40 43h1M67 43h1M47 44h2M67 44h1M48 45h2M66 45h2M48 46h2M4 47h1M49 47h2M65 47h1M4 48h1M4 49h2M63 49h1M6 50h1M51 50h2M63 50h1M6 51h1M52 51h2M63 51h1M52 52h3M63 52h1M8 53h1M53 53h2M62 53h2M61 54h1M10 55h1M56 55h1M60 55h2M55 56h2M59 56h1M12 57h1M56 57h4M57 58h1M14 59h1M56 59h2M16 60h1M55 60h1M16 61h2M54 61h2M53 62h1M20 63h1M53 63h1M22 64h1M22 65h3M48 65h2M28 67h4M43 67h3"/>
<path transform="translate(0,.5)" fill="none" stroke-width="1" stroke="#497e79" stroke-opacity="0.75" d="M59 17h1M58 18h1M57 19h1M56 20h1M55 21h1M54 22h1M53 23h1M51 24h2M50 25h1M49 26h1M48 27h1M47 28h1M46 29h1M27 37h1M26 38h1M25 39h1M24 40h1M22 41h2M21 42h1M20 43h1M19 44h1M18 45h1M17 46h1M16 47h1M15 48h1M13 49h2M12 50h1M11 51h1M10 52h1M9 53h1"/>
</g></svg>
<text x="783.1" y="341.2" font-size="37.2" class="w" text-anchor="end">0.11</text>
<svg x="10.9" y="389.8" width="229.6" height="228.8" viewBox="0 0 74 74" preserveAspectRatio="none" shape-rendering="crispEdges">
<rect width="74" height="74" fill="#497f79"/>
<g filter="url(#hb)"><rect x="-3" y="-3" width="80" height="80" fill="#497f79"/>
<g transform="scale(2) translate(0,.5)" fill="none" stroke-width="1">
<path stroke="#2d004b" d="M30 26h1"/>
<path stroke="#2f0651" d="M31 25h1M31 26h1M29 28h1"/>
<path stroke="#300c56" d="M31 23h2M31 24h1M30 25h1M29 26h1"/>
<path stroke="#32115c" d="M30 23h1M30 24h1M29 25h1M28 28h1"/>
<path stroke="#331761" d="M32 22h1M29 27h2"/>
<path stroke="#341c64" d="M1 14h1M33 22h1M28 27h1"/>
<path stroke="#342167" d="M32 21h2M31 22h1M29 24h1M28 26h1M27 29h1M26 31h1"/>
<path stroke="#35266b" d="M1 12h2M1 13h1M1 15h1M28 25h1M27 28h1M25 30h2"/>
<path stroke="#362b6e" d="M2 14h1M2 15h1M29 23h1M25 29h2M27 30h1M25 31h1"/>
<path stroke="#363071" d="M2 13h1M34 16h1M34 17h1M34 18h1M30 22h1M28 24h1M27 25h1M27 26h1M26 27h1M25 28h2M24 29h1M24 30h1M23 31h2"/>
<path stroke="#373672" d="M3 15h1M34 15h1M33 18h1M34 19h1M33 20h1M31 21h1M23 27h1M22 28h1M24 28h1M23 29h1M23 30h1M24 32h1"/>
<path stroke="#383c74" d="M1 16h2M33 16h1M33 17h1M33 19h1M32 20h1M29 22h1M28 23h1M27 24h1M25 26h2M24 27h2M23 28h1M22 29h1M22 30h1M22 33h1"/>
<path stroke="#3a4376" d="M3 13h1M3 14h1M34 14h1M33 15h1M1 17h1M28 22h1M26 24h1M26 25h1M22 27h1M22 31h1M23 32h1"/>
<path stroke="#3b4977" d="M3 16h1M2 17h1M30 21h1M27 23h1M25 25h1M23 26h2M22 32h1"/>
<path stroke="#3c4e78" d="M3 12h1M3 17h1M31 20h1M29 21h1M27 22h1M26 23h1M24 25h1M22 26h1M21 27h1M21 28h1M21 30h1M20 31h2"/>
<path stroke="#3c5379" d="M4 13h1M4 14h1M4 15h1M2 18h1M32 19h1M30 20h1M26 22h1M23 25h1M21 29h1M21 32h1"/>
<path stroke="#3d5879" d="M2 11h1M4 12h1M33 14h1M4 16h1M32 16h1M4 17h1M32 17h1M3 18h1M32 18h1M28 21h1M25 23h1M22 25h1M21 26h1M18 27h1M20 28h1M20 30h1M19 31h1M20 32h1"/>
<path stroke="#3e5d7a" d="M3 11h1M5 16h1M1 18h1M4 18h1M8 18h1M6 19h2M31 19h1M8 20h1M27 21h1M25 22h1M24 24h1M21 25h1M17 26h2M17 27h1M19 27h2M17 28h1M19 28h1M19 30h1M17 32h3M15 33h2M21 33h1"/>
<path stroke="#3f627a" d="M5 13h1M34 13h1M5 15h1M32 15h1M6 16h1M5 17h2M5 18h3M5 19h1M8 19h2M7 20h1M9 20h1M8 21h1M26 21h1M17 25h2M20 25h1M19 26h2M18 28h1M18 29h3M18 30h1M17 31h2M16 32h1M17 33h1M19 33h2"/>
<path stroke="#41677a" d="M5 12h1M5 14h1M7 17h1M9 18h1M3 20h4M29 20h1M6 21h1M9 21h1M24 23h1M18 24h1M22 24h2M19 25h1M16 26h1M16 27h1M16 28h1M16 29h2M17 30h1M16 31h1M18 33h1"/>
<path stroke="#436d7b" d="M4 11h1M33 13h1M32 14h1M7 16h1M8 17h1M31 18h1M1 19h4M10 19h1M30 19h1M10 20h1M2 21h4M7 21h1M10 21h1M25 21h1M3 22h2M24 22h1M2 23h2M22 23h2M17 24h1M19 24h3M16 25h1M15 26h1M16 30h1M15 32h1"/>
<path stroke="#45727b" d="M33 11h1M33 12h1M32 13h1M6 15h1M1 20h2M1 21h1M2 22h1M5 22h1M8 22h2M17 22h1M17 23h1M21 23h1M2 24h1M15 25h1M15 27h1M15 29h1M15 31h1"/>
<path stroke="#47797a" d="M2 10h2M32 12h1M6 13h1M6 14h1M31 17h1M10 18h1M11 19h1M11 20h1M11 21h1M24 21h1M6 22h2M10 22h2M16 22h1M22 22h1M4 23h2M16 23h1M18 23h1M20 23h1M16 24h1M15 28h1M15 30h1M14 33h1"/>
<path stroke="#497f79" d="M2 9h1M7 15h1M8 16h1M31 16h1M9 17h1M11 18h1M28 20h1M16 21h1M18 22h3M23 22h1M8 23h1M19 23h1M15 24h1M14 25h1M14 26h1M14 27h1"/>
<path stroke="#4b8478" d="M5 11h1M31 13h1M7 14h1M31 15h1M12 18h1M30 18h1M27 20h1M12 21h1M23 21h1M12 22h1M21 22h1M6 23h2M9 23h1M3 24h1M13 25h1M14 31h1"/>
<path stroke="#4d8976" d="M32 11h1M6 12h1M31 12h1M31 14h1M8 15h1M10 17h1M12 19h1M29 19h1M12 20h1M15 20h1M15 21h1M22 21h1M13 22h1M11 23h1M4 24h5M13 24h1M13 27h1M14 29h1M14 30h1M14 32h1"/>
<path stroke="#508e75" d="M4 10h1M32 10h1M31 11h1M9 16h1M11 17h2M13 18h1M13 19h2M26 20h1M13 21h1M20 21h1M15 22h1M10 23h1M12 23h2M15 23h1M9 24h1M11 24h2M14 24h1M6 25h3M12 25h1M13 26h1M14 28h1"/>
<path stroke="#539473" d="M3 9h1M32 9h1M9 15h1M10 16h1M30 16h1M30 17h1M14 18h1M13 20h2M25 20h1M14 21h1M21 21h1M14 22h1M10 24h1M11 25h1M9 26h1M12 26h1M12 29h2"/>
<path stroke="#569970" d="M31 9h1M31 10h1M7 13h1M8 14h1M30 15h1M28 19h1M4 25h2M9 25h1M4 26h1M8 26h1M10 26h2M12 27h1M11 28h3M11 29h1M12 30h2M13 31h1"/>
<path stroke="#5a9f6d" d="M4 9h1M30 11h1M30 13h1M9 14h1M30 14h1M11 16h2M13 17h1M21 20h1M23 20h1M14 23h1M3 25h1M10 25h1M5 26h2M9 27h3M11 30h1M12 32h2"/>
<path stroke="#5fa46a" d="M6 11h1M30 12h1M10 15h3M13 16h1M29 18h1M27 19h1M22 20h1M24 20h1M7 26h1M8 27h1M10 28h1"/>
<path stroke="#63aa66" d="M12 1h1M11 2h2M31 8h1M30 9h1M5 10h1M30 10h1M7 12h1M13 15h1M29 17h1M7 27h1M9 28h1M10 29h1M12 31h1"/>
<path stroke="#67b063" d="M11 1h1M13 1h1M12 3h1M30 8h1M7 11h1M10 14h1M12 14h2M28 18h1M8 28h1M10 30h1M11 32h1"/>
<path stroke="#6db55f" d="M10 2h1M13 2h1M11 3h1M30 6h1M5 9h1M29 12h1M8 13h2M12 13h1M29 13h1M11 14h1M29 15h1M29 16h1M28 17h1M22 19h1M26 19h1M6 27h1M9 29h1M11 31h1"/>
<path stroke="#73ba5a" d="M8 3h1M29 4h1M4 7h1M4 8h1M6 10h2M29 11h1M8 12h1M10 13h2M14 14h1M27 18h1M23 19h1M5 27h1M7 28h1M8 29h1M8 30h2M10 31h1"/>
<path stroke="#7abe54" d="M9 2h1M26 2h1M7 3h1M9 3h2M24 3h1M7 4h1M29 5h1M24 6h1M24 7h2M30 7h1M5 8h1M29 10h1M8 11h1M11 12h2M13 13h1M29 14h1M28 15h1M28 16h1M23 18h1M25 19h1M6 28h1M7 29h1"/>
<path stroke="#81c34f" d="M14 0h1M24 1h1M14 2h1M24 2h2M13 3h1M23 3h1M27 3h2M8 4h1M10 4h3M24 4h1M26 4h1M28 4h1M23 5h4M4 6h1M23 6h1M25 6h3M29 6h1M23 7h1M26 7h2M3 8h1M24 8h2M6 9h1M27 9h1M29 9h1M8 10h1M10 11h1M9 12h2M14 13h1M23 17h1M27 17h1M24 19h1"/>
<path stroke="#87c84a" d="M16 0h1M22 0h1M14 1h3M23 1h1M15 2h1M19 2h1M21 2h1M23 2h1M25 3h2M6 4h1M9 4h1M23 4h1M25 4h1M27 4h1M5 5h1M27 5h2M28 6h1M29 7h1M26 8h2M29 8h1M7 9h2M9 10h3M9 11h1M11 11h2M13 12h1M28 12h1M15 13h1M28 13h1M27 15h1M27 16h1M24 18h1M26 18h1"/>
<path stroke="#8fcc45" d="M15 0h1M17 0h3M21 0h1M17 1h2M17 2h2M20 2h1M22 2h1M19 3h1M22 3h1M13 4h1M6 5h3M5 6h2M22 6h1M5 7h2M28 7h1M6 8h1M23 8h1M28 8h1M9 9h1M26 9h1M28 9h1M12 10h1M26 10h1M28 10h1M13 11h1M26 11h1M28 11h1M14 12h3M27 12h1M24 14h1M28 14h1M26 15h1M23 16h1M26 16h1M26 17h1"/>
<path stroke="#98cf41" d="M20 0h1M19 1h4M16 2h1M14 3h1M17 3h2M20 3h1M18 4h1M22 4h1M9 5h2M22 5h1M7 6h1M22 7h1M24 9h2M13 10h1M25 10h1M27 10h1M14 11h3M27 11h1M26 12h1M26 13h2M23 14h1M25 14h1M27 14h1M23 15h3M24 16h1M24 17h1M25 18h1"/>
<path stroke="#a0d23c" d="M16 3h1M21 3h1M14 4h1M11 5h1M13 5h1M9 6h1M17 6h1M21 6h1M7 8h2M10 9h4M16 9h2M14 10h1M16 10h2M17 11h1M25 11h1M25 12h1M24 13h2M26 14h1M25 16h1M25 17h1"/>
<path stroke="#a9d538" d="M15 3h1M15 4h3M19 4h3M12 5h1M14 5h5M21 5h1M8 6h1M10 6h1M18 6h1M7 7h1M10 7h2M18 7h1M9 8h3M16 8h1M18 8h1M22 8h1M14 9h2M15 10h1M18 10h1M18 11h1M24 12h1M23 13h1M22 14h1"/>
<path stroke="#b1d833" d="M20 5h1M11 6h3M15 6h2M20 6h1M8 7h2M21 7h1M19 8h2M18 9h1M20 9h1M23 9h1M19 10h1M24 10h1M19 11h1M24 11h1"/>
<path stroke="#bedb32" d="M19 5h1M14 6h1M19 6h1M12 7h5M19 7h2M12 8h2M15 8h1M21 8h1M19 9h1M22 9h1M20 10h1M23 12h1M22 13h1"/>
<path stroke="#cbde32" d="M14 8h1M21 9h1M21 10h1M23 10h1M20 11h1M23 11h1M21 12h2"/>
<path stroke="#d8e132" d="M22 10h1M21 11h1"/>
<path stroke="#e5e432" d="M22 11h1"/>
</g>
<path transform="translate(0,.5)" fill="none" stroke-width="1.08" stroke="#497f79" d="M28 0h18M45 1h1M22 2h3M47 2h3M18 4h2M52 4h2M14 6h3M56 6h2M14 7h1M57 7h1M12 8h2M58 8h2M59 9h1M10 10h1M8 12h1M60 12h2M8 13h1M34 13h2M61 13h1M33 14h1M36 14h1M61 14h1M33 15h1M36 15h1M61 15h1M6 16h1M62 16h2M4 18h2M65 18h1M4 19h1M66 22h2M67 23h1M2 24h1M67 24h1M2 25h1M33 25h1M42 25h1M2 26h1M68 26h2M2 27h1M31 27h1M69 27h1M2 28h1M44 28h1M69 28h1M2 29h1M29 29h1M44 29h1M69 29h1M2 30h1M69 30h1M2 31h1M69 31h1M2 32h1M69 32h1M2 33h1M69 33h1M2 34h1M69 34h1M2 35h1M69 35h1M2 36h1M28 36h2M69 36h1M2 37h1M29 37h1M69 37h1M2 38h1M29 38h1M44 38h2M69 38h1M2 39h1M44 39h1M68 39h2M2 40h1M31 40h1M42 40h2M2 41h1M42 41h1M2 42h1M32 42h2M40 42h2M2 43h1M33 43h1M40 43h1M67 43h1M67 44h1M48 45h2M66 45h2M48 46h2M4 47h1M49 47h2M65 47h1M4 48h1M4 49h2M63 49h1M6 50h1M51 50h2M63 50h1M6 51h1M52 51h2M63 51h1M52 52h3M63 52h1M8 53h1M53 53h2M62 53h2M61 54h1M10 55h1M56 55h1M60 55h2M55 56h2M59 56h1M12 57h1M56 57h4M14 59h1M16 60h1M55 60h1M16 61h2M54 61h2M53 62h1M20 63h1M53 63h1M22 64h1M22 65h3M48 65h2M28 67h4M43 67h3"/>
<path transform="translate(0,.5)" fill="none" stroke-width="1" stroke="#497f79" stroke-opacity="0.75" d="M59 17h1M58 18h1M57 19h1M56 20h1M55 21h1M54 22h1M53 23h1M52 24h1M51 25h1M50 26h1M49 27h1M48 28h1M47 29h1M27 37h1M26 38h1M25 39h1M24 40h1M22 41h2M21 42h1M20 43h1M19 44h1M18 45h1M17 46h1M16 47h1M15 48h1M13 49h2M12 50h1M11 51h1M10 52h1M9 53h1"/>
</g></svg>
<text x="235.4" y="610.1" font-size="37.2" text-anchor="end">1.50</text>
<svg x="310.0" y="388.0" width="228.8" height="229.2" viewBox="0 0 74 74" preserveAspectRatio="none" shape-rendering="crispEdges">
<rect width="74" height="74" fill="#497f79"/>
<g filter="url(#hb)"><rect x="-3" y="-3" width="80" height="80" fill="#497f79"/>
<g transform="scale(2) translate(0,.5)" fill="none" stroke-width="1">
<path stroke="#2d004b" d="M31 24h1M30 25h2M30 26h2"/>
<path stroke="#2f0651" d="M31 23h2M30 24h1M30 27h1"/>
<path stroke="#300c56" d="M30 23h1M29 25h1M29 26h1M29 27h1M29 28h1"/>
<path stroke="#32115c" d="M29 23h1M29 24h1M28 27h1M28 28h1"/>
<path stroke="#331761" d="M32 22h1M28 25h1M28 26h1M23 28h3M27 28h1M23 29h3"/>
<path stroke="#341c64" d="M30 22h2M28 23h1M28 24h1M26 28h1M26 29h2M23 30h2"/>
<path stroke="#342167" d="M29 22h1M33 22h1M27 26h1M23 27h4M22 28h1M22 29h1M22 30h1M25 30h1M23 31h1"/>
<path stroke="#35266b" d="M28 22h1M27 23h1M27 24h1M27 25h1M26 26h1M21 29h1M26 30h2M22 31h1M24 31h2M23 32h1"/>
<path stroke="#362b6e" d="M25 26h1M22 27h1M21 28h1M21 30h1M26 31h1M24 32h1"/>
<path stroke="#363071" d="M34 15h1M27 22h1M26 23h1M26 24h1M26 25h1M23 26h2M21 27h1M19 28h2M19 29h2M20 30h1M21 31h1M22 32h1"/>
<path stroke="#373672" d="M1 14h1M1 15h1M34 16h1M29 21h2M26 22h1M25 25h1M22 26h1M18 27h3M17 28h2M17 29h2M17 30h3M17 31h1M20 31h1M22 33h1"/>
<path stroke="#383c74" d="M2 14h1M34 14h1M2 15h1M34 17h1M27 21h2M31 21h2M25 23h1M24 25h1M21 26h1M17 27h1M16 28h1M16 29h1M16 30h1M16 31h1M18 31h2M16 32h2M21 32h1M16 33h1"/>
<path stroke="#3a4376" d="M1 13h2M3 14h1M33 15h1M1 16h2M33 16h1M33 21h1M25 22h1M23 25h1M17 26h4M16 27h1M15 29h1M15 30h1M18 32h3M15 33h1M17 33h1"/>
<path stroke="#3b4977" d="M3 15h1M3 16h1M1 17h1M33 17h1M34 18h1M26 21h1M24 22h1M24 23h1M24 24h1M17 25h6M16 26h1M15 27h1M15 28h1M15 31h1M15 32h1M18 33h1M21 33h1"/>
<path stroke="#3c4e78" d="M1 12h1M3 13h1M33 14h1M2 17h1M25 21h1M16 23h3M23 23h1M16 24h4M23 24h1M16 25h1M15 26h1M19 33h2"/>
<path stroke="#3c5379" d="M2 12h1M4 14h1M4 15h1M4 16h1M3 17h1M33 18h1M34 19h1M8 20h2M29 20h3M24 21h1M16 22h2M23 22h1M19 23h4M15 24h1M20 24h3M15 25h1M14 27h1M14 28h1M14 29h1M14 30h1M14 31h1M14 33h1"/>
<path stroke="#3d5879" d="M4 13h1M32 15h1M32 16h1M4 17h1M32 17h1M1 18h3M6 18h1M6 19h6M33 19h1M6 20h2M10 20h2M27 20h2M32 20h2M7 21h4M15 22h1M18 22h5M15 23h1M14 24h1M14 25h1M14 26h1M14 32h1"/>
<path stroke="#3e5d7a" d="M3 12h1M33 13h2M32 14h1M5 15h1M5 16h1M5 17h2M4 18h2M7 18h4M32 18h1M4 19h2M5 20h1M12 20h1M26 20h1M6 21h1M11 21h2M16 21h1M23 21h1M6 22h6M14 22h1M14 23h1M13 24h1M13 25h1M13 26h1M13 27h1M13 28h1M13 29h1"/>
<path stroke="#3f627a" d="M4 12h1M5 14h1M6 16h1M7 17h2M11 18h1M1 19h3M12 19h1M32 19h1M3 20h2M13 20h1M25 20h1M4 21h2M13 21h3M20 21h3M4 22h2M12 22h2M5 23h9M11 24h2M12 25h1M12 26h1M13 30h1M13 31h1"/>
<path stroke="#41677a" d="M2 11h1M33 12h1M5 13h1M32 13h1M6 15h1M7 16h1M9 17h3M12 18h1M13 19h1M30 19h2M1 20h2M14 20h2M24 20h1M1 21h3M2 22h2M2 23h3M6 24h5M11 25h1M11 26h1M12 27h1M12 28h1M12 29h1M13 32h1"/>
<path stroke="#436d7b" d="M32 9h1M32 10h1M3 11h1M32 11h2M32 12h1M6 14h1M8 16h1M12 17h1M13 18h1M31 18h1M14 19h1M29 19h1M23 20h1M4 24h2M7 25h4M10 26h1M10 27h2M11 28h1"/>
<path stroke="#45727b" d="M31 13h1M31 14h1M7 15h1M31 15h1M9 16h2M31 16h1M13 17h1M31 17h1M14 18h1M28 19h1M21 20h2M2 24h2M6 25h1M8 26h2M9 27h1M10 28h1M11 29h1M12 30h1"/>
<path stroke="#47797a" d="M31 9h1M2 10h1M31 10h1M4 11h1M31 11h1M5 12h1M31 12h1M6 13h1M8 15h1M11 16h2M27 19h1M5 25h1M7 26h1M8 27h1M9 28h1M10 29h1M12 31h1M12 32h1"/>
<path stroke="#497f79" d="M31 8h1M3 10h1M7 14h1M9 15h1M13 16h1M30 18h1M26 19h1M3 25h2M8 28h1M11 30h1"/>
<path stroke="#4b8478" d="M2 9h1M10 15h4M30 17h1M22 19h1M24 19h2M6 26h1M7 27h1M9 29h1M10 30h1M11 31h1"/>
<path stroke="#4d8976" d="M30 10h1M5 11h1M30 11h1M6 12h1M30 12h1M7 13h1M30 13h1M8 14h1M30 14h1M30 15h1M30 16h1M29 18h1M23 19h1M5 26h1M7 28h1M8 29h1M9 30h1M10 31h1M11 32h1"/>
<path stroke="#508e75" d="M30 9h1M4 10h1M9 14h6M28 18h1M4 26h1M6 27h1"/>
<path stroke="#539473" d="M30 8h1M3 9h1M29 12h1M14 13h1M29 17h1M27 18h1M5 27h1M6 28h1M7 29h1M8 30h1"/>
<path stroke="#569970" d="M30 7h1M5 10h1M29 10h1M6 11h1M29 11h1M7 12h1M8 13h1M12 13h2M15 13h1M29 13h1M29 14h1M29 15h1M29 16h1M23 18h1M26 18h1"/>
<path stroke="#5a9f6d" d="M3 8h1M29 8h1M4 9h1M29 9h1M14 12h2M28 12h1M9 13h3M28 13h1M28 17h1M24 18h2"/>
<path stroke="#5fa46a" d="M29 6h2M29 7h1M6 10h1M28 10h1M7 11h1M27 11h2M8 12h6M16 12h1M27 12h1M27 13h1M27 14h2M28 15h1M28 16h1M23 17h1M27 17h1"/>
<path stroke="#63aa66" d="M28 3h1M28 4h2M24 5h2M28 5h2M23 6h4M28 6h1M23 7h4M28 7h1M4 8h1M24 8h2M28 8h1M5 9h1M27 9h2M26 10h2M8 11h2M14 11h4M26 11h1M26 12h1M26 13h1M25 14h2M25 15h3M23 16h5M24 17h3"/>
<path stroke="#67b063" d="M11 1h2M9 2h4M7 3h3M26 3h2M24 4h4M23 5h1M26 5h2M22 6h1M27 6h1M4 7h1M22 7h1M27 7h1M23 8h1M26 8h2M24 9h3M7 10h2M25 10h1M10 11h4M18 11h1M25 11h1M25 12h1M25 13h1M24 14h1M23 15h2"/>
<path stroke="#6db55f" d="M14 0h1M13 1h2M24 1h1M13 2h1M24 2h3M10 3h3M24 3h2M6 4h3M23 4h1M5 5h1M22 5h1M4 6h1M5 7h1M5 8h1M22 8h1M6 9h2M23 9h1M9 10h3M15 10h4M24 10h1M19 11h1M24 11h1M24 12h1M24 13h1M22 14h2"/>
<path stroke="#73ba5a" d="M15 0h2M15 1h1M22 1h2M14 2h1M22 2h2M13 3h1M21 3h3M9 4h3M22 4h1M6 5h3M21 5h1M5 6h2M21 6h1M21 7h1M6 8h1M21 8h1M8 9h3M17 9h3M21 9h2M12 10h3M19 10h2M22 10h2M20 11h1M23 11h1M23 12h1M22 13h2"/>
<path stroke="#7abe54" d="M17 0h2M22 0h1M16 1h3M15 2h7M14 3h1M19 3h2M12 4h2M20 4h2M9 5h2M20 5h1M7 6h1M20 6h1M6 7h1M20 7h1M7 8h2M19 8h2M11 9h2M15 9h2M20 9h1M21 10h1M21 11h2M21 12h2"/>
<path stroke="#81c34f" d="M19 1h3M15 3h4M14 4h2M18 4h2M11 5h3M18 5h2M8 6h3M18 6h2M7 7h4M18 7h2M9 8h3M15 8h2M18 8h1M13 9h2"/>
<path stroke="#87c84a" d="M19 0h1M21 0h1M16 4h2M14 5h4M11 6h7M11 7h2M14 7h3M12 8h3"/>
<path stroke="#8fcc45" d="M20 0h1M13 7h1"/>
</g>
<path transform="translate(0,.5)" fill="none" stroke-width="1.08" stroke="#497f79" d="M28 0h18M45 1h1M22 2h3M47 2h3M18 4h2M52 4h2M14 6h3M56 6h2M14 7h1M57 7h1M12 8h2M58 8h2M59 9h1M10 10h1M8 12h1M60 12h2M8 13h1M34 13h2M61 13h1M33 14h1M36 14h1M61 14h1M33 15h1M36 15h1M61 15h1M6 16h1M62 16h2M4 18h2M65 18h1M4 19h1M66 22h2M67 23h1M2 24h1M67 24h1M2 25h1M33 25h1M42 25h1M2 26h1M68 26h2M2 27h1M31 27h1M69 27h1M2 28h1M44 28h1M69 28h1M2 29h1M29 29h1M44 29h1M69 29h1M2 30h1M69 30h1M2 31h1M69 31h1M2 32h1M69 32h1M2 33h1M69 33h1M2 34h1M69 34h1M2 35h1M69 35h1M2 36h1M28 36h2M69 36h1M2 37h1M29 37h1M69 37h1M2 38h1M29 38h1M44 38h2M69 38h1M2 39h1M44 39h1M68 39h2M2 40h1M31 40h1M42 40h2M2 41h1M42 41h1M2 42h1M32 42h2M40 42h2M2 43h1M33 43h1M40 43h1M67 43h1M67 44h1M48 45h2M66 45h2M48 46h2M4 47h1M49 47h2M65 47h1M4 48h1M4 49h2M63 49h1M6 50h1M51 50h2M63 50h1M6 51h1M52 51h2M63 51h1M52 52h3M63 52h1M8 53h1M53 53h2M62 53h2M61 54h1M10 55h1M56 55h1M60 55h2M55 56h2M59 56h1M12 57h1M56 57h4M14 59h1M16 60h1M55 60h1M16 61h2M54 61h2M53 62h1M20 63h1M53 63h1M22 64h1M22 65h3M48 65h2M28 67h4M43 67h3"/>
<path transform="translate(0,.5)" fill="none" stroke-width="1" stroke="#497f79" stroke-opacity="0.75" d="M59 17h1M58 18h1M57 19h1M56 20h1M55 21h1M54 22h1M53 23h1M52 24h1M51 25h1M50 26h1M49 27h1M48 28h1M47 29h1M27 37h1M26 38h1M25 39h1M24 40h1M22 41h2M21 42h1M20 43h1M19 44h1M18 45h1M17 46h1M16 47h1M15 48h1M13 49h2M12 50h1M11 51h1M10 52h1M9 53h1"/>
</g></svg>
<text x="529.8" y="609.0" font-size="37.2" class="w" text-anchor="end">0.77</text>
<svg x="566.4" y="393.6" width="229.4" height="228.9" viewBox="0 0 74 74" preserveAspectRatio="none" shape-rendering="crispEdges">
<rect width="74" height="74" fill="#497f79"/>
<g filter="url(#hb)"><rect x="-3" y="-3" width="80" height="80" fill="#497f79"/>
<g transform="scale(2) translate(0,.5)" fill="none" stroke-width="1">
<path stroke="#2f0651" d="M31 25h1M31 26h1"/>
<path stroke="#300c56" d="M32 23h1M31 24h1M30 25h1M30 26h1M30 27h1M29 28h1"/>
<path stroke="#32115c" d="M31 23h1M30 24h1M29 26h1M29 27h1"/>
<path stroke="#331761" d="M29 25h1M28 28h1"/>
<path stroke="#341c64" d="M32 22h2M30 23h1M29 24h1M28 27h1"/>
<path stroke="#342167" d="M31 22h1M28 26h1M27 28h1M27 29h1"/>
<path stroke="#35266b" d="M33 21h1M28 25h1M27 30h1"/>
<path stroke="#362b6e" d="M1 13h1M1 14h1M32 21h1M30 22h1M29 23h1M28 24h1M26 28h1M25 29h2M25 30h2M25 31h2"/>
<path stroke="#363071" d="M2 14h1M1 15h1M27 26h1M26 27h1M25 28h1M24 29h1M24 30h1M24 31h1M24 32h1"/>
<path stroke="#373672" d="M2 13h1M2 15h1M34 17h1M33 20h1M31 21h1M27 25h1M26 26h1M25 27h1M24 28h1M23 30h1"/>
<path stroke="#383c74" d="M1 12h1M1 16h1M34 16h1M34 18h1M34 19h1M32 20h1M29 22h1M28 23h1M27 24h1M24 27h1M23 28h1M23 29h1M23 31h1M23 32h1"/>
<path stroke="#3a4376" d="M2 12h1M3 13h1M3 14h1M3 15h1M34 15h1M2 16h1M33 17h1M33 18h1M33 19h1M30 21h1M26 25h1M25 26h1M23 27h1M22 28h1M22 29h1M22 30h1M22 31h1"/>
<path stroke="#3b4977" d="M3 16h1M33 16h1M31 20h1M28 22h1M27 23h1M26 24h1M25 25h1M23 26h2M22 27h1M22 32h1"/>
<path stroke="#3c4e78" d="M34 14h1M33 15h1M1 17h2M32 19h1M24 25h1M22 26h1M21 27h1M21 28h1M21 29h1M21 30h1M21 31h1M22 33h1"/>
<path stroke="#3c5379" d="M3 12h1M4 14h1M4 15h1M4 16h1M3 17h1M32 18h1M29 21h1M27 22h1M26 23h1M23 25h1M21 26h1M20 27h1M20 28h1M20 29h1M21 32h1"/>
<path stroke="#3d5879" d="M2 11h1M4 13h1M33 14h1M4 17h1M32 17h1M31 19h1M30 20h1M25 23h1M24 24h1M22 25h1M20 26h1M19 27h1M19 28h1M19 29h1M20 30h1M20 31h1M21 33h1"/>
<path stroke="#3e5d7a" d="M34 13h1M5 15h1M5 16h1M32 16h1M5 17h1M1 18h5M28 21h1M26 22h1M21 25h1M18 26h2M18 27h1M18 28h1M18 29h1M19 30h1M19 31h1M20 32h1M20 33h1"/>
<path stroke="#3f627a" d="M3 11h1M4 12h1M33 13h1M5 14h1M6 17h1M6 18h2M4 19h4M25 22h1M24 23h1M23 24h1M19 25h2M17 26h1M17 27h1M17 28h1M17 29h1M17 30h2M17 31h2M17 32h3M16 33h4"/>
<path stroke="#41677a" d="M5 13h1M32 15h1M6 16h1M7 17h1M8 18h1M31 18h1M1 19h3M8 19h1M5 20h4M27 21h1M23 23h1M21 24h2M17 25h2M16 27h1M16 31h1M16 32h1M15 33h1"/>
<path stroke="#436d7b" d="M2 10h1M33 12h1M32 14h1M6 15h1M9 19h1M30 19h1M1 20h4M9 20h1M29 20h1M1 21h3M6 21h4M26 21h1M24 22h1M18 24h3M16 26h1M16 28h1M16 29h1M16 30h1"/>
<path stroke="#45727b" d="M4 11h1M33 11h1M32 13h1M6 14h1M7 16h1M8 17h1M31 17h1M9 18h1M10 19h1M10 20h1M4 21h2M10 21h1M2 22h3M2 23h1M18 23h1M21 23h2M17 24h1M16 25h1M15 26h1M15 27h1M15 32h1"/>
<path stroke="#47797a" d="M5 12h1M32 12h1M10 18h1M11 20h1M28 20h1M11 21h1M25 21h1M5 22h5M23 22h1M3 23h1M17 23h1M19 23h2M2 24h1M16 24h1M15 25h1M15 28h1M15 29h1M15 30h1M15 31h1"/>
<path stroke="#497f79" d="M3 10h1M6 13h1M7 15h1M8 16h1M31 16h1M9 17h1M11 19h1M10 22h2M16 22h4M22 22h1M4 23h2M16 23h1M14 26h1M14 27h1M14 33h1"/>
<path stroke="#4b8478" d="M2 9h1M32 11h1M31 14h1M31 15h1M10 17h1M11 18h1M30 18h1M12 19h1M29 19h1M12 20h1M27 20h1M12 21h1M16 21h1M24 21h1M12 22h1M20 22h2M6 23h3M3 24h1M15 24h1M14 25h1M14 28h1M14 32h1"/>
<path stroke="#4d8976" d="M32 10h1M5 11h1M31 13h1M7 14h1M8 15h1M9 16h1M12 18h1M13 19h1M13 20h1M13 21h1M15 21h1M23 21h1M15 22h1M9 23h4M15 23h1M4 24h2M13 24h2M13 25h1M13 26h1M13 27h1M14 29h1M14 30h1M14 31h1"/>
<path stroke="#508e75" d="M32 9h1M4 10h1M6 12h1M31 12h1M11 17h1M30 17h1M13 18h1M14 20h2M26 20h1M14 21h1M20 21h3M13 22h2M13 23h2M6 24h3M11 24h2M12 25h1M12 26h1M13 28h1"/>
<path stroke="#539473" d="M3 9h1M31 11h1M7 13h1M9 15h1M10 16h1M30 16h1M12 17h2M14 18h1M14 19h1M28 19h1M9 24h2M3 25h2M11 25h1M11 26h1M12 27h1M13 29h1M13 30h1M13 31h1M13 32h1"/>
<path stroke="#569970" d="M31 10h1M8 14h1M30 15h1M11 16h1M29 18h1M25 20h1M5 25h6M10 26h1M11 27h1M12 28h1"/>
<path stroke="#5a9f6d" d="M31 9h1M5 10h1M6 11h1M30 13h1M30 14h1M10 15h1M12 16h2M27 19h1M21 20h4M8 26h2M10 27h1M11 28h1M12 29h1M12 30h1"/>
<path stroke="#5fa46a" d="M4 9h1M30 11h1M7 12h1M30 12h1M8 13h1M9 14h1M11 15h1M29 17h1M4 26h4M9 27h1M10 28h1M11 29h1M12 31h1M12 32h1"/>
<path stroke="#63aa66" d="M3 8h1M31 8h1M30 10h1M10 14h1M12 15h2M29 16h1M28 18h1M26 19h1M8 27h1M9 28h1M10 29h1M11 30h1"/>
<path stroke="#67b063" d="M11 1h2M9 13h1M11 14h1M29 14h1M29 15h1M22 19h1M6 27h2M8 28h1M9 29h1M10 30h1M11 31h1M11 32h1"/>
<path stroke="#6db55f" d="M13 1h1M10 2h3M4 8h1M5 9h1M30 9h1M6 10h1M7 11h1M8 12h1M29 12h1M10 13h1M29 13h1M12 14h3M28 17h1M27 18h1M23 19h1M25 19h1M5 27h1M7 28h1M8 29h1M9 30h1M10 31h1"/>
<path stroke="#73ba5a" d="M9 2h1M13 2h1M11 3h1M30 7h1M30 8h1M29 11h1M9 12h1M11 13h2M28 16h1M24 19h1M6 28h1M7 29h1M8 30h1"/>
<path stroke="#7abe54" d="M14 0h1M14 1h1M7 3h4M12 3h1M30 6h1M4 7h1M5 8h1M6 9h1M29 9h1M7 10h1M29 10h1M8 11h1M10 12h1M13 13h2M28 14h1M28 15h1M27 17h1M26 18h1"/>
<path stroke="#81c34f" d="M15 0h1M24 1h1M14 2h1M24 2h3M13 3h1M24 3h5M6 4h4M24 4h3M28 4h2M24 5h3M29 5h1M4 6h1M24 6h3M29 6h1M24 7h3M29 7h1M29 8h1M8 10h1M9 11h2M28 11h1M11 12h3M28 12h1M15 13h1M28 13h1M27 16h1M23 18h3"/>
<path stroke="#87c84a" d="M16 0h4M21 0h2M15 1h5M21 1h3M22 2h2M23 3h1M10 4h3M23 4h1M27 4h1M5 5h3M23 5h1M27 5h2M5 6h1M23 6h1M27 6h2M5 7h1M23 7h1M27 7h2M6 8h1M24 8h5M7 9h1M27 9h2M9 10h1M28 10h1M11 11h2M14 12h1M27 14h1M27 15h1M23 17h1M26 17h1"/>
<path stroke="#8fcc45" d="M20 0h1M20 1h1M15 2h7M14 3h1M21 3h2M13 4h1M22 4h1M8 5h2M22 5h1M6 6h1M22 6h1M6 7h1M7 8h1M23 8h1M8 9h2M25 9h2M10 10h2M26 10h2M13 11h2M27 11h1M15 12h2M27 12h1M27 13h1M26 14h1M26 15h1M25 16h2M24 17h2"/>
<path stroke="#98cf41" d="M15 3h6M21 4h1M10 5h2M7 6h2M7 7h1M22 7h1M8 8h1M10 9h2M24 9h1M12 10h2M25 10h1M15 11h2M26 11h1M26 12h1M25 13h2M25 14h1M24 15h2M23 16h2"/>
<path stroke="#a0d23c" d="M14 4h1M20 4h1M12 5h2M21 5h1M9 6h2M21 6h1M8 7h2M9 8h2M22 8h1M12 9h2M14 10h3M17 11h1M25 11h1M25 12h1M24 13h1M23 14h2M23 15h1"/>
<path stroke="#a9d538" d="M15 4h5M14 5h1M16 5h3M20 5h1M11 6h2M17 6h1M10 7h2M21 7h1M11 8h2M16 8h1M14 9h4M23 9h1M17 10h1M24 10h1M18 11h1M24 11h1M24 12h1M23 13h1M22 14h1"/>
<path stroke="#b1d833" d="M15 5h1M19 5h1M13 6h4M18 6h3M12 7h1M16 7h1M18 7h1M20 7h1M13 8h3M18 8h1M21 8h1M18 9h1M22 9h1M18 10h1M23 10h1M19 11h1M23 12h1M22 13h1"/>
<path stroke="#bedb32" d="M13 7h3M19 7h1M19 8h2M19 9h3M19 10h1M23 11h1M21 12h2"/>
<path stroke="#cbde32" d="M20 10h3M20 11h3"/>
</g>
<path transform="translate(0,.5)" fill="none" stroke-width="1.08" stroke="#497f79" d="M28 0h18M45 1h1M22 2h3M47 2h3M18 4h2M52 4h2M14 6h3M56 6h2M14 7h1M57 7h1M12 8h2M58 8h2M59 9h1M10 10h1M8 12h1M60 12h2M8 13h1M34 13h2M61 13h1M33 14h1M36 14h1M61 14h1M33 15h1M36 15h1M61 15h1M6 16h1M62 16h2M4 18h2M65 18h1M4 19h1M66 22h2M67 23h1M2 24h1M67 24h1M2 25h1M33 25h1M42 25h1M2 26h1M68 26h2M2 27h1M31 27h1M69 27h1M2 28h1M44 28h1M69 28h1M2 29h1M29 29h1M44 29h1M69 29h1M2 30h1M69 30h1M2 31h1M69 31h1M2 32h1M69 32h1M2 33h1M69 33h1M2 34h1M69 34h1M2 35h1M69 35h1M2 36h1M28 36h2M69 36h1M2 37h1M29 37h1M69 37h1M2 38h1M29 38h1M44 38h2M69 38h1M2 39h1M44 39h1M68 39h2M2 40h1M31 40h1M42 40h2M2 41h1M42 41h1M2 42h1M32 42h2M40 42h2M2 43h1M33 43h1M40 43h1M67 43h1M67 44h1M48 45h2M66 45h2M48 46h2M4 47h1M49 47h2M65 47h1M4 48h1M4 49h2M63 49h1M6 50h1M51 50h2M63 50h1M6 51h1M52 51h2M63 51h1M52 52h3M63 52h1M8 53h1M53 53h2M62 53h2M61 54h1M10 55h1M56 55h1M60 55h2M55 56h2M59 56h1M12 57h1M56 57h4M14 59h1M16 60h1M55 60h1M16 61h2M54 61h2M53 62h1M20 63h1M53 63h1M22 64h1M22 65h3M48 65h2M28 67h4M43 67h3"/>
<path transform="translate(0,.5)" fill="none" stroke-width="1" stroke="#497f79" stroke-opacity="0.75" d="M59 17h1M58 18h1M57 19h1M56 20h1M55 21h1M54 22h1M53 23h1M52 24h1M51 25h1M50 26h1M49 27h1M48 28h1M47 29h1M27 37h1M26 38h1M25 39h1M24 40h1M22 41h2M21 42h1M20 43h1M19 44h1M18 45h1M17 46h1M16 47h1M15 48h1M13 49h2M12 50h1M11 51h1M10 52h1M9 53h1"/>
</g></svg>
<text x="788.8" y="614.0" font-size="37.2" class="w" text-anchor="end">0.23</text>
<svg x="11.0" y="659.4" width="229.5" height="229.1" viewBox="0 0 74 74" preserveAspectRatio="none" shape-rendering="crispEdges">
<rect width="74" height="74" fill="#497f79"/>
<g filter="url(#hb)"><rect x="-3" y="-3" width="80" height="80" fill="#497f79"/>
<g transform="scale(2) translate(0,.5)" fill="none" stroke-width="1">
<path stroke="#32125c" d="M23 25h2"/>
<path stroke="#331761" d="M22 24h3M25 25h1M23 26h3M29 28h1"/>
<path stroke="#341c64" d="M21 23h3M21 24h1M26 26h1"/>
<path stroke="#342168" d="M26 24h1M21 25h2M26 25h1M22 26h1M29 27h2M28 28h1"/>
<path stroke="#35266b" d="M15 0h1M20 22h3M20 23h1M25 23h2M20 24h1M27 25h1M30 26h1M24 27h1M26 27h1"/>
<path stroke="#362b6e" d="M14 0h1M16 0h1M15 1h1M14 2h2M20 21h3M23 22h1M32 23h1M31 24h1M31 25h1M21 26h1M27 26h1M29 26h1M31 26h1M23 27h1M25 27h1M28 27h1M27 28h1"/>
<path stroke="#373171" d="M13 1h2M16 1h1M13 2h1M16 2h2M15 3h3M33 21h1M26 22h1M32 22h2M27 24h1M20 25h1M28 25h1M30 25h1M28 26h1M27 29h1"/>
<path stroke="#383772" d="M17 0h1M12 1h1M17 1h1M14 3h1M21 20h2M24 21h1M32 21h1M19 22h1M25 22h1M31 22h1M19 23h1M27 23h1M31 23h1M19 24h1M28 24h1M30 24h1M29 25h1M20 26h1M22 27h1M26 30h1"/>
<path stroke="#393d74" d="M12 2h1M14 4h4M22 19h1M33 20h1M25 21h2M31 21h1M27 22h1M28 23h1M29 24h1M19 25h1M21 27h1M23 28h2M26 28h1M26 29h1M25 30h1M27 30h1M26 31h1"/>
<path stroke="#3a4376" d="M18 0h1M13 3h1M18 3h1M13 4h1M18 4h1M17 5h1M23 20h2M32 20h1M30 21h1M18 22h1M28 22h3M18 23h1M30 23h1M25 28h1M25 31h1"/>
<path stroke="#3b4977" d="M18 1h1M18 2h1M12 3h1M19 3h1M16 5h1M23 17h1M23 18h1M27 21h3M29 23h1M18 24h1M19 26h1M20 27h1M24 29h2M24 30h1M24 32h1"/>
<path stroke="#3c4e78" d="M19 0h1M19 1h1M11 2h1M19 2h1M18 5h1M24 17h1M33 18h1M25 20h1M29 20h1M31 20h1M17 22h1M17 23h1M18 25h1M19 27h1M22 28h1M23 29h1M24 31h1"/>
<path stroke="#3c5379" d="M20 0h2M11 1h1M21 1h1M22 2h1M12 4h1M15 5h1M18 6h1M23 16h1M33 17h1M24 18h1M34 18h1M23 19h1M32 19h2M26 20h1M30 20h1M15 22h1M15 23h2M21 28h1"/>
<path stroke="#3d5879" d="M20 1h1M22 1h2M10 2h1M20 2h1M23 2h1M10 3h2M22 3h2M19 4h1M12 5h3M34 17h1M25 18h1M31 19h1M34 19h1M28 20h1M14 22h1M16 22h1M17 24h1M18 28h3M22 29h1M23 30h1M22 31h2M23 32h1"/>
<path stroke="#3e5d7a" d="M21 2h1M24 2h1M9 3h1M20 3h2M11 5h1M32 18h1M24 19h1M27 20h1M15 21h1M13 22h1M13 23h2M16 24h1M18 26h1M18 29h4M19 30h1M22 30h1M21 31h1"/>
<path stroke="#3f627a" d="M22 0h1M24 1h1M9 2h1M24 3h1M10 4h2M20 4h1M19 5h1M15 6h2M24 16h1M25 17h1M30 18h2M25 19h1M30 19h1M14 21h1M16 21h1M11 23h1M14 24h2M16 25h2M17 26h1M18 27h1M17 28h1M18 30h1M20 30h2M18 31h1M22 32h1M22 33h1"/>
<path stroke="#41687a" d="M8 3h1M21 4h1M10 5h1M14 6h1M23 15h1M32 17h1M26 18h1M26 19h1M28 19h2M9 22h1M11 22h1M12 23h1M13 24h1M8 26h1M9 27h2M17 27h1M19 31h1"/>
<path stroke="#436d7b" d="M25 2h1M7 3h1M9 4h1M22 4h1M20 5h1M13 6h1M19 6h1M29 18h1M8 22h1M12 22h1M9 23h2M10 24h3M7 25h2M15 25h1M7 26h1M9 26h2M16 26h1M8 27h1M16 27h1M9 28h2M17 29h1M20 31h1M21 32h1"/>
<path stroke="#45737b" d="M25 3h1M23 4h1M12 6h1M26 17h1M31 17h1M27 18h2M27 19h1M15 20h1M13 21h1M10 22h1M8 23h1M7 24h3M9 25h1M13 25h2M11 26h1M11 27h1M8 28h1M11 28h2M15 28h2M17 30h1M18 32h3"/>
<path stroke="#47797a" d="M24 4h1M21 5h1M13 7h2M18 7h1M22 14h1M24 15h1M25 16h1M28 17h3M14 20h1M8 21h1M7 22h1M7 23h1M10 25h3M15 26h1M12 27h1M15 27h1M13 28h2M8 29h1M15 29h2M16 30h1M17 31h1M21 33h1"/>
<path stroke="#497f79" d="M26 3h1M25 4h1M9 5h1M11 6h1M15 7h2M28 7h1M28 8h1M27 17h1M9 21h1M11 21h2M12 26h3M7 27h1M14 27h1M7 29h1M9 29h6M8 30h1M15 30h1M17 32h1M20 33h1"/>
<path stroke="#4b8478" d="M8 4h1M8 5h1M22 5h1M24 5h1M10 6h1M19 7h1M27 8h1M23 14h1M7 20h1M13 20h1M7 21h1M10 21h1M6 22h1M13 27h1M14 30h1M16 31h1M16 32h1M18 33h2"/>
<path stroke="#4d8976" d="M26 2h1M26 4h1M23 5h1M25 5h1M9 6h1M12 7h1M27 7h1M14 8h1M29 8h1M33 16h1M14 19h1M8 20h1M6 21h1M6 23h1M6 24h1M6 25h1M6 26h1M7 28h1M9 30h2M13 30h1M15 31h1M16 33h2"/>
<path stroke="#508f75" d="M27 3h2M7 5h1M20 6h1M28 6h1M11 7h1M29 7h1M13 8h1M15 8h1M22 13h1M25 15h1M32 16h1M34 16h1M6 20h1M5 22h1M6 27h1M11 30h2"/>
<path stroke="#539472" d="M6 4h2M26 5h1M28 5h2M21 6h1M24 6h1M26 6h2M29 6h2M9 7h2M26 7h1M12 8h1M26 8h1M14 9h1M16 9h1M24 14h1M26 16h1M31 16h1M13 19h1M5 21h1M5 23h1M14 31h1M15 32h1M14 33h2"/>
<path stroke="#569a70" d="M27 4h3M6 5h1M8 6h1M22 6h2M25 6h1M24 7h2M11 8h1M16 8h1M15 9h1M27 9h1M22 12h1M23 13h1M32 15h1M30 16h1M5 20h1M9 20h4M5 25h1M6 28h1M13 31h1M14 32h1"/>
<path stroke="#5b9f6d" d="M27 5h1M7 6h1M20 7h1M23 7h1M10 8h1M17 8h1M24 8h2M12 9h2M17 9h1M25 9h2M28 9h1M14 10h3M23 12h1M34 13h1M25 14h1M33 14h2M33 15h2M27 16h3M6 18h1M14 18h1M6 19h3M4 22h1M5 24h1M12 31h1"/>
<path stroke="#5fa569" d="M6 6h1M21 7h1M9 8h1M29 9h1M25 10h1M21 12h1M24 12h1M33 13h1M32 14h1M26 15h1M31 15h1M7 18h1M13 18h1M12 19h1M4 21h1M4 23h1M10 31h2M12 32h2"/>
<path stroke="#63ab66" d="M7 7h2M22 7h1M18 8h2M23 8h1M30 8h1M10 9h2M24 9h1M13 10h1M17 10h1M24 10h1M26 10h3M13 11h1M15 11h1M27 11h1M24 13h2M5 18h1M8 18h2M5 19h1M9 19h3M5 26h1M5 27h1M11 32h1"/>
<path stroke="#68b063" d="M4 6h2M30 7h1M20 8h1M22 8h1M18 9h1M30 9h2M11 10h2M23 10h1M29 10h1M31 10h2M14 11h1M16 11h1M23 11h4M28 11h1M32 11h2M13 12h1M15 12h1M32 12h2M26 13h1M32 13h1M26 14h1M30 14h2M30 15h1M8 17h1M10 18h1M4 20h1M3 22h1M4 24h1M4 25h1"/>
<path stroke="#6db55e" d="M5 5h1M8 8h1M21 8h1M31 8h1M23 9h1M32 9h1M10 10h1M18 10h1M30 10h1M17 11h1M29 11h1M31 11h1M14 12h1M16 12h1M26 12h1M31 12h1M13 13h1M27 13h1M31 13h1M13 14h1M29 15h1M6 17h2M9 17h1M11 18h2M3 23h1M3 24h1"/>
<path stroke="#74ba59" d="M6 7h1M9 9h1M19 9h1M22 9h1M22 10h1M11 11h2M18 11h3M22 11h1M30 11h1M12 12h1M25 12h1M27 12h1M29 12h2M12 13h1M14 13h2M29 13h2M29 14h1M27 15h2M5 17h1M10 17h2M13 17h1M4 18h1M4 19h1M3 21h1M2 24h1M3 25h1M4 26h1"/>
<path stroke="#7bbf54" d="M4 7h1M7 8h1M20 9h2M19 10h3M10 11h1M21 11h1M11 12h1M28 12h1M14 14h1M27 14h1M13 15h1M7 16h1M13 16h1M4 17h1M3 18h1M2 23h1"/>
<path stroke="#81c44f" d="M5 7h1M3 8h1M8 9h1M9 10h1M10 12h1M10 13h2M28 13h1M12 14h1M28 14h1M11 15h2M6 16h1M8 16h2M3 17h1M12 17h1M1 18h1M3 19h1M3 20h1M1 21h1M2 22h1"/>
<path stroke="#88c94a" d="M6 8h1M7 9h1M9 11h1M9 13h1M11 14h1M7 15h2M5 16h1M10 16h3M1 17h1M2 18h1M1 20h1M2 21h1"/>
<path stroke="#90cc45" d="M4 8h2M8 14h3M9 15h2M3 16h1M2 17h1M2 20h1"/>
<path stroke="#98cf40" d="M3 9h1M6 9h1M8 10h1M9 12h1M8 13h1M4 16h1M1 19h2"/>
<path stroke="#a1d23c" d="M2 9h1M4 9h2M7 10h1M8 11h1M7 14h1M5 15h2M1 16h1"/>
<path stroke="#aad637" d="M2 10h2M5 10h2M8 12h1M1 14h1M3 15h2M2 16h1"/>
<path stroke="#b2d932" d="M4 10h1M6 11h1M6 12h2M7 13h1M2 14h1M4 14h3M2 15h1"/>
<path stroke="#bfdc32" d="M2 11h1M7 11h1M1 12h1M1 13h1M6 13h1M3 14h1M1 15h1"/>
<path stroke="#ccde32" d="M3 11h1M5 11h1M2 12h1M5 12h1M2 13h1"/>
<path stroke="#d9e132" d="M4 11h1M3 12h1M3 13h3"/>
<path stroke="#e7e432" d="M4 12h1"/>
</g>
<path transform="translate(0,.5)" fill="none" stroke-width="1.08" stroke="#497f79" d="M28 0h18M45 1h1M22 2h3M47 2h3M18 4h2M52 4h2M14 6h3M56 6h2M14 7h1M57 7h1M12 8h2M58 8h2M59 9h1M10 10h1M8 12h1M60 12h2M8 13h1M33 13h1M36 13h1M61 13h1M33 14h1M36 14h1M61 14h1M61 15h1M6 16h1M34 16h2M62 16h2M4 18h2M65 18h1M4 19h1M66 22h2M67 23h1M2 24h1M67 24h1M2 25h1M33 25h1M42 25h1M2 26h1M68 26h2M2 27h1M31 27h1M69 27h1M2 28h1M44 28h1M69 28h1M2 29h1M29 29h1M44 29h1M69 29h1M2 30h1M69 30h1M2 31h1M69 31h1M2 32h1M69 32h1M2 33h1M69 33h1M2 34h1M69 34h1M2 35h1M69 35h1M2 36h1M28 36h2M69 36h1M2 37h1M29 37h1M69 37h1M2 38h1M29 38h1M44 38h2M69 38h1M2 39h1M44 39h1M68 39h2M2 40h1M31 40h1M42 40h2M45 40h1M2 41h1M42 41h1M45 41h2M2 42h1M32 42h2M40 42h2M45 42h1M2 43h1M33 43h1M40 43h1M48 43h1M67 43h1M46 44h2M67 44h1M47 45h1M50 45h1M66 45h2M47 46h1M50 46h1M4 47h1M50 47h2M65 47h1M4 48h1M49 48h1M4 49h2M63 49h1M6 50h1M51 50h2M63 50h1M6 51h1M51 51h3M63 51h1M52 52h3M63 52h1M8 53h1M53 53h2M62 53h2M61 54h1M10 55h1M56 55h1M60 55h2M55 56h2M59 56h1M12 57h1M56 57h4M14 59h1M16 60h1M55 60h1M16 61h2M54 61h2M53 62h1M20 63h1M53 63h1M22 64h1M22 65h3M48 65h2M28 67h4M43 67h3"/>
<path transform="translate(0,.5)" fill="none" stroke-width="1" stroke="#497f79" stroke-opacity="0.75" d="M59 17h1M58 18h1M57 19h1M56 20h1M55 21h1M54 22h1M53 23h1M52 24h1M51 25h1M50 26h1M49 27h1M48 28h1M47 29h1M27 37h1M26 38h1M25 39h1M24 40h1M22 41h2M21 42h1M20 43h1M19 44h1M18 45h1M17 46h1M16 47h1M15 48h1M13 49h2M12 50h1M11 51h1M10 52h1M9 53h1"/>
</g></svg>
<text x="232.3" y="879.0" font-size="37.2" text-anchor="end">3.00</text>
<svg x="308.3" y="659.4" width="228.9" height="229.1" viewBox="0 0 74 74" preserveAspectRatio="none" shape-rendering="crispEdges">
<rect width="74" height="74" fill="#497f79"/>
<g filter="url(#hb)"><rect x="-3" y="-3" width="80" height="80" fill="#497f79"/>
<g transform="scale(2) translate(0,.5)" fill="none" stroke-width="1">
<path stroke="#362b6e" d="M26 23h1M26 24h1M25 25h2"/>
<path stroke="#373171" d="M26 22h1M25 23h1M27 24h1M27 25h1M25 26h2"/>
<path stroke="#383772" d="M25 22h1M27 23h1M24 24h1M24 25h1M24 26h1M27 26h1"/>
<path stroke="#393d74" d="M27 22h1M28 25h1M28 26h1M24 27h3M28 27h1"/>
<path stroke="#3a4376" d="M15 0h2M25 21h3M28 22h1M32 22h2M23 23h1M28 23h1M31 23h2M23 24h1M28 24h1M31 24h1M23 25h1M29 25h3M23 26h1M29 26h3M29 27h2M25 28h5"/>
<path stroke="#3b4977" d="M14 0h1M15 1h2M24 21h1M28 21h1M23 22h1M29 22h3M22 23h1M29 23h2M22 24h1M29 24h2M22 25h1M23 27h1M24 28h1"/>
<path stroke="#3c4e78" d="M17 0h1M22 0h1M17 1h1M23 1h2M16 2h1M23 2h1M20 21h3M29 21h5M20 22h3M20 23h2M21 24h1M21 25h1M22 26h1M26 29h2"/>
<path stroke="#3c5379" d="M18 0h1M14 1h1M18 1h1M22 1h1M15 2h1M17 2h1M22 2h1M24 2h1M16 3h2M17 4h1M21 20h2M24 20h3M32 20h2M19 22h1M19 23h1M20 24h1M20 25h1M21 26h1M22 27h1M23 28h1M24 29h2M27 30h1"/>
<path stroke="#3d5879" d="M21 0h1M21 1h1M14 2h1M18 2h1M25 2h1M15 3h1M18 3h1M23 3h2M16 4h1M22 19h1M23 20h1M27 20h5M18 22h1M19 24h1M19 25h1M20 26h1M21 27h1M22 28h1M23 29h1M26 30h1"/>
<path stroke="#3e5d7a" d="M19 0h2M13 1h1M19 1h2M19 2h3M14 3h1M22 3h1M25 3h1M15 4h1M18 4h1M16 5h3M23 19h1M18 23h1M18 24h1M19 26h1M20 27h1M21 28h1M25 30h1"/>
<path stroke="#3f627a" d="M11 1h2M12 2h2M13 3h1M19 3h3M14 4h1M19 4h1M23 4h2M15 5h1M19 5h1M23 17h1M23 18h2M24 19h2M31 19h4M17 22h1M17 23h1M18 25h1M19 27h1M20 28h1M22 29h1M24 30h1M26 31h1"/>
<path stroke="#41687a" d="M11 2h1M26 2h1M12 3h1M13 4h1M20 4h3M25 4h1M14 5h1M20 5h1M29 5h1M18 6h1M27 6h4M27 7h2M27 8h2M24 17h1M25 18h1M26 19h5M16 21h1M15 22h2M16 23h1M17 24h1M18 26h1M21 29h1M23 30h1"/>
<path stroke="#436d7b" d="M10 2h1M11 3h1M26 3h1M12 4h1M26 4h1M13 5h1M21 5h8M14 6h3M19 6h1M26 6h1M26 7h1M29 7h1M26 8h1M29 8h1M27 9h2M22 13h1M22 14h1M23 16h1M25 17h1M26 18h1M7 19h2M7 20h2M15 21h1M13 22h2M15 23h1M8 26h1M8 27h1M18 27h1M19 28h1M20 29h1M22 30h1M25 31h1"/>
<path stroke="#45737b" d="M10 3h1M11 4h1M28 4h2M12 5h1M13 6h1M20 6h1M23 6h3M25 7h1M30 7h1M25 8h1M25 9h2M29 9h1M21 12h2M23 15h1M24 16h1M26 17h1M7 18h2M27 18h2M30 18h3M34 18h1M6 19h1M9 19h1M6 20h1M9 20h1M15 20h1M7 21h3M14 21h1M9 22h4M12 23h3M16 24h1M8 25h1M17 25h1M9 26h1M9 27h1M8 28h2M18 28h1M19 29h1M20 30h2M24 31h1"/>
<path stroke="#47797a" d="M9 2h1M10 4h1M27 4h1M11 5h1M12 6h1M21 6h2M13 7h3M24 7h1M24 8h1M24 9h1M26 10h3M23 13h1M23 14h1M24 15h1M25 16h1M27 17h1M6 18h1M9 18h1M29 18h1M33 18h1M10 20h1M6 21h1M10 21h4M7 22h2M8 23h4M8 24h3M14 24h2M7 25h1M9 25h1M7 26h1M10 26h1M17 26h1M7 27h1M10 27h1M17 27h1M8 29h2M18 29h1M8 30h1M18 30h2M23 31h1M24 32h1"/>
<path stroke="#497f79" d="M9 3h1M27 3h2M9 4h1M10 5h1M11 6h1M12 7h1M16 7h1M18 7h2M23 7h1M13 8h3M23 8h1M30 8h1M30 9h1M23 10h3M29 10h1M20 11h4M23 12h1M24 14h1M25 15h1M26 16h1M6 17h3M28 17h1M5 19h1M10 19h1M5 20h1M14 20h1M6 22h1M7 23h1M7 24h1M11 24h3M10 25h2M16 25h1M7 28h1M10 28h1M17 28h1M17 29h1M22 31h1"/>
<path stroke="#4b8478" d="M9 5h1M10 6h1M11 7h1M20 7h3M12 8h1M16 8h1M14 9h2M23 9h1M22 10h1M30 10h1M18 11h2M24 11h5M16 12h1M24 12h1M15 13h1M24 13h1M25 14h1M26 15h1M27 16h1M9 17h1M29 17h3M5 18h1M10 18h1M11 20h1M5 21h1M6 23h1M6 24h1M6 25h1M12 25h4M11 26h1M16 26h1M11 27h1M16 27h1M11 28h1M16 28h1M7 29h1M10 29h1M16 29h1M9 30h1M17 30h1M18 31h4M23 32h1"/>
<path stroke="#4d8976" d="M7 3h2M8 4h1M8 5h1M9 6h1M10 7h1M11 8h1M17 8h1M22 8h1M12 9h2M16 9h1M22 9h1M15 10h3M20 10h2M17 11h1M29 11h2M15 12h1M25 12h1M14 13h1M25 13h1M14 14h1M26 14h1M27 15h1M28 16h1M5 17h1M10 17h1M32 17h1M34 17h1M14 18h1M11 19h1M14 19h1M12 20h2M5 22h1M6 26h1M12 26h2M15 26h1M6 27h1M12 27h1M6 28h1M12 28h1M15 28h1M11 29h1M10 30h1M16 30h1M17 31h1"/>
<path stroke="#508f75" d="M6 4h2M7 5h1M8 6h1M9 7h1M10 8h1M18 8h2M21 8h1M31 8h1M10 9h2M17 9h1M21 9h1M31 9h1M12 10h3M18 10h2M31 10h1M15 11h2M31 11h3M14 12h1M26 12h8M26 13h6M13 14h1M27 14h2M28 15h1M6 16h4M11 17h1M33 17h1M4 18h1M11 18h1M4 20h1M4 21h1M4 22h1M5 23h1M5 24h1M14 26h1M13 27h3M13 28h2M12 29h4M11 30h1M15 30h1M16 31h1M22 32h1"/>
<path stroke="#539472" d="M5 5h2M7 6h1M8 7h1M9 8h1M20 8h1M9 9h1M18 9h3M10 10h2M32 10h1M11 11h4M13 12h1M12 13h2M32 13h1M12 14h1M29 14h3M12 15h2M29 15h1M5 16h1M10 16h4M29 16h3M4 17h1M13 17h1M4 19h1M12 19h2M4 23h1M5 25h1M5 26h1M12 30h3M10 31h1M15 31h1M17 32h5M22 33h1"/>
<path stroke="#569a70" d="M4 6h3M7 7h1M8 8h1M8 9h1M32 9h1M8 10h2M9 11h2M10 12h3M10 13h2M33 13h1M10 14h2M6 15h6M30 15h2M4 16h1M32 16h1M3 17h1M12 17h1M12 18h2M3 21h1M3 22h1M4 24h1M5 27h1M11 31h2M14 31h1M11 32h1M16 32h1"/>
<path stroke="#5b9f6d" d="M4 7h3M7 8h1M2 9h1M7 9h1M7 10h1M8 11h1M9 12h1M9 13h1M8 14h2M32 14h1M5 15h1M32 15h1M3 16h1M3 18h1M3 19h1M3 20h1M2 21h1M2 22h1M2 23h2M3 24h1M4 25h1M13 31h1M12 32h4M14 33h1M21 33h1"/>
<path stroke="#5fa569" d="M3 8h4M3 9h4M2 10h2M6 10h1M7 11h1M8 12h1M8 13h1M34 13h1M6 14h2M33 14h1M1 15h4M1 16h2M33 16h2M1 17h2M1 18h2M2 19h1M1 20h2M1 21h1M2 24h1M3 25h1M4 26h1M15 33h6"/>
<path stroke="#63ab66" d="M4 10h2M2 11h1M6 11h1M7 12h1M6 13h2M1 14h5M33 15h1M1 19h1"/>
<path stroke="#68b063" d="M3 11h3M1 12h3M5 12h2M1 13h5M34 14h1M34 15h1"/>
<path stroke="#6db55e" d="M4 12h1"/>
</g>
<path transform="translate(0,.5)" fill="none" stroke-width="1.08" stroke="#497f79" d="M28 0h18M45 1h1M22 2h3M47 2h3M18 4h2M52 4h2M14 6h3M56 6h2M14 7h1M57 7h1M12 8h2M58 8h2M59 9h1M10 10h1M8 12h1M60 12h2M8 13h1M33 13h1M36 13h1M61 13h1M33 14h1M36 14h1M61 14h1M61 15h1M6 16h1M34 16h2M62 16h2M4 18h2M65 18h1M4 19h1M66 22h2M67 23h1M2 24h1M67 24h1M2 25h1M33 25h1M42 25h1M2 26h1M68 26h2M2 27h1M31 27h1M69 27h1M2 28h1M44 28h1M69 28h1M2 29h1M29 29h1M44 29h1M69 29h1M2 30h1M69 30h1M2 31h1M69 31h1M2 32h1M69 32h1M2 33h1M69 33h1M2 34h1M69 34h1M2 35h1M69 35h1M2 36h1M28 36h2M69 36h1M2 37h1M29 37h1M69 37h1M2 38h1M29 38h1M44 38h2M69 38h1M2 39h1M44 39h1M68 39h2M2 40h1M31 40h1M42 40h2M45 40h1M2 41h1M42 41h1M45 41h2M2 42h1M32 42h2M40 42h2M45 42h1M2 43h1M33 43h1M40 43h1M48 43h1M67 43h1M46 44h2M67 44h1M47 45h1M50 45h1M66 45h2M47 46h1M50 46h1M4 47h1M50 47h2M65 47h1M4 48h1M49 48h1M4 49h2M63 49h1M6 50h1M51 50h2M63 50h1M6 51h1M51 51h3M63 51h1M52 52h3M63 52h1M8 53h1M53 53h2M62 53h2M61 54h1M10 55h1M56 55h1M60 55h2M55 56h2M59 56h1M12 57h1M56 57h4M14 59h1M16 60h1M55 60h1M16 61h2M54 61h2M53 62h1M20 63h1M53 63h1M22 64h1M22 65h3M48 65h2M28 67h4M43 67h3"/>
<path transform="translate(0,.5)" fill="none" stroke-width="1" stroke="#497f79" stroke-opacity="0.75" d="M59 17h1M58 18h1M57 19h1M56 20h1M55 21h1M54 22h1M53 23h1M52 24h1M51 25h1M50 26h1M49 27h1M48 28h1M47 29h1M27 37h1M26 38h1M25 39h1M24 40h1M22 41h2M21 42h1M20 43h1M19 44h1M18 45h1M17 46h1M16 47h1M15 48h1M13 49h2M12 50h1M11 51h1M10 52h1M9 53h1"/>
</g></svg>
<text x="531.7" y="879.2" font-size="37.2" class="w" text-anchor="end">1.71</text>
<svg x="566.4" y="658.4" width="229.2" height="229.1" viewBox="0 0 74 74" preserveAspectRatio="none" shape-rendering="crispEdges">
<rect width="74" height="74" fill="#497f79"/>
<g filter="url(#hb)"><rect x="-3" y="-3" width="80" height="80" fill="#497f79"/>
<g transform="scale(2) translate(0,.5)" fill="none" stroke-width="1">
<path stroke="#331761" d="M23 25h2"/>
<path stroke="#341c64" d="M22 24h3M22 25h1M25 25h1M24 26h1"/>
<path stroke="#342168" d="M22 23h2M21 24h1M23 26h1M25 26h1M29 28h1"/>
<path stroke="#35266b" d="M22 22h1M21 23h1M25 23h1M26 24h1M21 25h1M26 25h1M22 26h1M26 26h1M29 27h2M28 28h1"/>
<path stroke="#362b6e" d="M14 0h2M14 1h2M21 22h1M23 22h1M20 23h1M26 23h1M20 24h1M27 25h1M27 26h4M24 27h3M28 27h1"/>
<path stroke="#373171" d="M16 0h1M13 1h1M16 1h1M14 2h3M21 21h2M20 22h1M25 22h1M33 22h1M32 23h1M27 24h1M31 24h1M20 25h1M28 25h4M21 26h1M31 26h1M23 27h1M26 28h2M27 29h1"/>
<path stroke="#383772" d="M17 0h1M17 1h1M13 2h1M17 2h1M15 3h2M20 21h1M32 21h2M26 22h1M31 22h2M27 23h1M31 23h1M28 24h3M22 27h1M25 28h1M26 29h1M27 30h1"/>
<path stroke="#393d74" d="M12 1h1M14 3h1M17 3h1M21 20h2M24 21h2M31 21h1M19 22h1M27 22h1M30 22h1M19 23h1M28 23h3M19 24h1M20 26h1M21 27h1M24 28h1M26 30h1M26 31h1"/>
<path stroke="#3a4376" d="M18 0h1M18 1h1M12 2h1M18 2h1M13 3h1M18 3h1M15 4h3M23 20h1M32 20h2M26 21h1M28 22h2M19 25h1M23 28h1M25 29h1M25 30h1M25 31h1"/>
<path stroke="#3b4977" d="M19 0h1M11 1h1M19 1h1M12 3h1M14 4h1M22 19h1M24 20h1M31 20h1M27 21h4M18 22h1M18 23h1M18 24h1M19 26h1M20 27h1M22 28h1M24 29h1M24 30h1M24 31h1M24 32h1"/>
<path stroke="#3c4e78" d="M20 0h1M20 1h1M11 2h1M19 2h1M19 3h1M13 4h1M18 4h1M23 18h1M23 19h1M33 19h1M25 20h1M17 22h1M17 23h1M21 28h1M23 29h1"/>
<path stroke="#3c5379" d="M21 0h1M21 1h1M20 2h1M11 3h1M15 5h3M23 17h1M24 18h1M34 18h1M24 19h1M32 19h1M34 19h1M26 20h2M29 20h2M17 24h1M18 25h1M19 27h1M20 28h1M22 29h1M23 30h1M23 31h1M23 32h1"/>
<path stroke="#3d5879" d="M22 0h1M22 1h1M10 2h1M21 2h2M20 3h1M12 4h1M19 4h1M14 5h1M18 5h1M24 17h1M33 18h1M25 19h1M31 19h1M28 20h1M15 22h2M15 23h2M18 26h1M19 28h1M21 29h1M22 30h1"/>
<path stroke="#3e5d7a" d="M23 1h1M9 2h1M23 2h1M10 3h1M21 3h2M11 4h1M13 5h1M23 16h1M25 18h1M32 18h1M26 19h1M30 19h1M16 21h1M14 22h1M14 23h1M16 24h1M17 25h1M18 27h1M19 29h2M20 30h2M22 31h1"/>
<path stroke="#3f627a" d="M24 1h1M24 2h1M9 3h1M23 3h1M10 4h1M20 4h1M12 5h1M19 5h1M34 17h1M31 18h1M27 19h3M15 21h1M13 23h1M14 24h2M16 25h1M17 26h1M18 28h1M18 29h1M19 30h1M20 31h2M22 32h1"/>
<path stroke="#41687a" d="M24 3h1M21 4h1M14 6h3M18 6h1M24 16h1M25 17h1M33 17h1M26 18h1M14 21h1M13 22h1M12 23h1M13 24h1M9 26h1M17 27h1M17 28h1M18 30h1M19 31h1M21 32h1M22 33h1"/>
<path stroke="#436d7b" d="M25 2h1M8 3h1M9 4h1M22 4h1M11 5h1M13 6h1M23 15h1M27 18h1M29 18h2M12 22h1M9 23h3M9 24h4M8 25h4M15 25h1M8 26h1M10 26h1M16 26h1M8 27h3M16 27h1M17 29h1M17 30h1M18 31h1M20 32h1"/>
<path stroke="#45737b" d="M25 3h1M23 4h1M10 5h1M20 5h1M12 6h1M19 6h1M26 17h1M32 17h1M28 18h1M15 20h1M13 21h1M8 22h4M8 23h1M8 24h1M12 25h3M11 26h1M15 26h1M11 27h1M8 28h3M16 28h1M16 29h1M17 31h1M19 32h1M21 33h1"/>
<path stroke="#47797a" d="M26 2h1M7 3h1M8 4h1M24 4h1M9 5h1M14 7h2M25 16h1M31 17h1M14 20h1M7 23h1M7 24h1M7 25h1M7 26h1M12 26h3M12 27h4M11 28h2M14 28h2M8 29h1M15 29h1M16 30h1M18 32h1M20 33h1"/>
<path stroke="#497f79" d="M25 4h1M21 5h1M11 6h1M13 7h1M16 7h1M22 14h1M24 15h1M27 17h1M30 17h1M7 21h4M12 21h1M7 22h1M7 27h1M7 28h1M13 28h1M9 29h2M14 29h1M16 31h1M17 32h1M18 33h2"/>
<path stroke="#4b8478" d="M26 3h1M7 4h1M8 5h1M22 5h2M10 6h1M20 6h1M12 7h1M18 7h1M23 14h1M33 16h2M28 17h2M13 20h1M11 21h1M6 22h1M6 23h1M7 29h1M11 29h3M8 30h1M15 30h1M16 32h1M17 33h1"/>
<path stroke="#4d8976" d="M26 4h1M24 5h1M9 6h1M14 8h2M26 16h1M32 16h1M14 19h1M6 21h1M6 24h1M6 25h1M9 30h1M14 30h1M15 31h1M16 33h1"/>
<path stroke="#508f75" d="M27 3h1M25 5h1M21 6h1M11 7h1M19 7h1M27 7h2M13 8h1M16 8h1M27 8h1M22 13h1M24 14h1M25 15h1M31 16h1M7 20h3M12 20h1M6 26h1M6 27h1M6 28h1M10 30h4M14 31h1M15 32h1M15 33h1"/>
<path stroke="#539472" d="M28 3h1M6 4h1M27 4h3M7 5h1M26 5h4M8 6h1M22 6h8M10 7h1M26 7h1M12 8h1M26 8h1M28 8h1M14 9h1M23 13h1M27 16h1M30 16h1M6 20h1M10 20h2M5 21h1M5 22h1M5 23h1M14 32h1M14 33h1"/>
<path stroke="#569a70" d="M30 6h1M9 7h1M20 7h1M25 7h1M29 7h1M11 8h1M17 8h1M25 8h1M29 8h1M13 9h1M15 9h2M26 9h3M26 15h1M33 15h2M28 16h2M14 18h1M7 19h2M13 19h1M5 24h1M12 31h2"/>
<path stroke="#5b9f6d" d="M6 5h1M7 6h1M24 7h1M18 8h1M12 9h1M25 9h1M22 12h1M24 13h1M25 14h1M32 15h1M6 19h1M9 19h1M12 19h1M5 20h1M4 22h1M5 25h1M10 31h2M13 32h1"/>
<path stroke="#5fa569" d="M5 5h1M8 7h1M21 7h3M30 7h1M10 8h1M19 8h1M24 8h1M30 8h1M11 9h1M17 9h1M29 9h1M13 10h4M25 10h3M21 12h1M23 12h2M25 13h1M33 14h2M27 15h1M31 15h1M6 18h2M13 18h1M10 19h2M4 21h1M4 23h1M5 26h1M5 27h1M11 32h2"/>
<path stroke="#63ab66" d="M6 6h1M9 8h1M20 8h1M23 8h1M18 9h1M24 9h1M30 9h1M12 10h1M17 10h1M24 10h1M28 10h2M23 11h4M33 11h1M25 12h1M33 12h1M32 13h3M26 14h1M32 14h1M28 15h3M8 18h2M5 19h1M4 24h1"/>
<path stroke="#68b063" d="M5 6h1M7 7h1M21 8h2M31 8h1M10 9h1M23 9h1M31 9h2M11 10h1M18 10h1M23 10h1M30 10h3M13 11h5M21 11h2M27 11h2M31 11h2M26 12h1M31 12h2M26 13h1M31 13h1M27 14h1M30 14h2M7 17h1M5 18h1M10 18h1M12 18h1M4 20h1M3 22h1"/>
<path stroke="#6db55e" d="M4 6h1M8 8h1M19 9h1M22 9h1M22 10h1M12 11h1M18 11h3M29 11h2M13 12h4M27 12h4M27 13h1M30 13h1M28 14h2M6 17h1M8 17h2M13 17h1M11 18h1M3 21h1M3 23h1M4 25h1"/>
<path stroke="#74ba59" d="M6 7h1M9 9h1M20 9h2M10 10h1M19 10h3M11 11h1M12 12h1M13 13h3M28 13h2M14 14h1M13 16h1M5 17h1M10 17h3M4 18h1M4 19h1M2 23h1M3 24h1M4 26h1"/>
<path stroke="#7bbf54" d="M4 7h2M7 8h1M10 11h1M11 12h1M12 13h1M12 14h2M13 15h1M7 16h3M12 16h1M3 20h1M2 22h1M2 24h1M3 25h1"/>
<path stroke="#81c44f" d="M8 9h1M9 10h1M10 12h1M11 13h1M11 14h1M11 15h2M6 16h1M10 16h2M4 17h1M3 18h1M3 19h1M2 21h1"/>
<path stroke="#88c94a" d="M5 8h2M9 11h1M10 13h1M10 14h1M8 15h3M5 16h1M3 17h1M2 18h1M2 20h1M1 21h1"/>
<path stroke="#90cc45" d="M3 8h2M7 9h1M8 10h1M9 12h1M9 13h1M9 14h1M7 15h1M4 16h1M1 17h2M1 18h1M1 19h2M1 20h1"/>
<path stroke="#98cf40" d="M2 9h1M6 9h1M8 11h1M8 14h1M6 15h1M1 16h3"/>
<path stroke="#a1d23c" d="M3 9h3M7 10h1M8 12h1M8 13h1M7 14h1M4 15h2"/>
<path stroke="#aad637" d="M2 10h1M6 10h1M7 11h1M7 13h1M6 14h1M1 15h3"/>
<path stroke="#b2d932" d="M3 10h3M7 12h1M6 13h1M1 14h2M4 14h2"/>
<path stroke="#bfdc32" d="M2 11h1M6 11h1M6 12h1M1 13h1M5 13h1M3 14h1"/>
<path stroke="#ccde32" d="M3 11h3M1 12h5M2 13h3"/>
</g>
<path transform="translate(0,.5)" fill="none" stroke-width="1.08" stroke="#497f79" d="M28 0h18M45 1h1M22 2h3M47 2h3M18 4h2M52 4h2M14 6h3M56 6h2M14 7h1M57 7h1M12 8h2M58 8h2M59 9h1M10 10h1M8 12h1M60 12h2M8 13h1M33 13h1M36 13h1M61 13h1M33 14h1M36 14h1M61 14h1M61 15h1M6 16h1M34 16h2M62 16h2M4 18h2M65 18h1M4 19h1M66 22h2M67 23h1M2 24h1M67 24h1M2 25h1M33 25h1M42 25h1M2 26h1M68 26h2M2 27h1M31 27h1M69 27h1M2 28h1M44 28h1M69 28h1M2 29h1M29 29h1M44 29h1M69 29h1M2 30h1M69 30h1M2 31h1M69 31h1M2 32h1M69 32h1M2 33h1M69 33h1M2 34h1M69 34h1M2 35h1M69 35h1M2 36h1M28 36h2M69 36h1M2 37h1M29 37h1M69 37h1M2 38h1M29 38h1M44 38h2M69 38h1M2 39h1M44 39h1M68 39h2M2 40h1M31 40h1M42 40h2M45 40h1M2 41h1M42 41h1M45 41h2M2 42h1M32 42h2M40 42h2M45 42h1M2 43h1M33 43h1M40 43h1M48 43h1M67 43h1M46 44h2M67 44h1M47 45h1M50 45h1M66 45h2M47 46h1M50 46h1M4 47h1M50 47h2M65 47h1M4 48h1M49 48h1M4 49h2M63 49h1M6 50h1M51 50h2M63 50h1M6 51h1M51 51h3M63 51h1M52 52h3M63 52h1M8 53h1M53 53h2M62 53h2M61 54h1M10 55h1M56 55h1M60 55h2M55 56h2M59 56h1M12 57h1M56 57h4M14 59h1M16 60h1M55 60h1M16 61h2M54 61h2M53 62h1M20 63h1M53 63h1M22 64h1M22 65h3M48 65h2M28 67h4M43 67h3"/>
<path transform="translate(0,.5)" fill="none" stroke-width="1" stroke="#497f79" stroke-opacity="0.75" d="M59 17h1M58 18h1M57 19h1M56 20h1M55 21h1M54 22h1M53 23h1M52 24h1M51 25h1M50 26h1M49 27h1M48 28h1M47 29h1M27 37h1M26 38h1M25 39h1M24 40h1M22 41h2M21 42h1M20 43h1M19 44h1M18 45h1M17 46h1M16 47h1M15 48h1M13 49h2M12 50h1M11 51h1M10 52h1M9 53h1"/>
</g></svg>
<text x="788.8" y="878.6" font-size="37.2" class="w" text-anchor="end">0.53</text>
<svg x="941.1" y="120.3" width="229.2" height="229.4" viewBox="0 0 74 74" preserveAspectRatio="none" shape-rendering="crispEdges">
<rect width="74" height="74" fill="#446f7b"/>
<g filter="url(#hb)"><rect x="-3" y="-3" width="80" height="80" fill="#446f7b"/>
<g transform="scale(2) translate(0,.5)" fill="none" stroke-width="1">
<path stroke="#2c0049" d="M10 4h1M8 5h1M10 5h1M32 15h1M5 27h1"/>
<path stroke="#2e034e" d="M21 2h1M11 3h1M23 18h1M17 25h1M7 28h1"/>
<path stroke="#2f0953" d="M2 21h1"/>
<path stroke="#310e59" d="M10 3h1M32 17h1M25 25h1M6 27h1"/>
<path stroke="#32145e" d="M11 6h1M17 24h1"/>
<path stroke="#331962" d="M21 1h1M26 4h1M31 18h2M14 27h1M13 32h1"/>
<path stroke="#341e66" d="M1 20h2M17 26h1M15 27h1"/>
<path stroke="#352369" d="M9 5h1M10 6h1M11 14h1M30 17h1M6 28h1"/>
<path stroke="#35286c" d="M26 3h1M32 16h1M1 19h1M1 21h1M5 26h1M16 27h1M19 28h1M12 31h1M12 32h1"/>
<path stroke="#362d70" d="M24 2h1M8 4h1M29 13h1M31 17h1M4 18h1M10 25h1M18 26h1M14 28h2"/>
<path stroke="#373371" d="M9 4h1M4 7h1M6 7h1M29 7h1M5 9h1M3 17h1M23 17h1M24 18h1M29 20h1M33 20h1M8 21h2M20 21h1M25 21h1M9 25h1M8 26h1M19 32h1"/>
<path stroke="#383973" d="M22 2h1M28 3h1M11 4h1M4 6h1M19 7h1M29 8h1M5 10h1M29 12h1M33 15h1M30 18h1M23 19h1M21 23h1M25 24h1M6 26h1M25 26h1"/>
<path stroke="#393f75" d="M9 2h1M24 3h1M29 4h1M11 7h1M13 7h1M3 11h1M22 13h1M10 14h1M34 14h1M1 16h2M7 16h1M31 16h1M26 21h1M33 21h1M21 22h1M8 25h1M14 25h1M10 26h1M8 27h1"/>
<path stroke="#3a4576" d="M18 0h1M24 1h1M21 3h1M28 4h1M6 6h1M30 8h1M18 9h1M30 10h1M31 11h2M12 14h1M29 14h1M33 14h1M7 17h1M34 17h1M34 18h1M31 19h1M34 19h1M3 20h1M33 22h1M22 23h1M9 24h1M18 25h1M26 25h1M16 28h1M21 29h1M13 31h1M23 31h1"/>
<path stroke="#3b4b78" d="M21 0h1M22 1h1M26 2h1M25 3h1M21 5h1M26 5h1M7 6h1M17 6h1M10 7h1M7 8h1M9 9h1M31 10h1M2 11h1M9 13h1M32 14h1M3 16h1M24 17h1M27 17h1M7 18h1M33 18h1M4 19h1M8 20h1M2 22h1M17 22h1M20 23h1M11 24h1M19 24h1M7 26h1M13 27h1M17 27h1M7 29h2M19 33h1"/>
<path stroke="#3c5078" d="M23 2h1M8 6h1M30 7h1M6 8h1M18 8h1M20 8h1M22 8h1M8 13h1M23 13h1M13 14h2M31 15h1M34 15h1M4 17h1M3 19h1M22 19h1M26 22h1M29 23h1M14 24h1M18 24h1M4 25h1M11 26h1M26 26h1M25 31h1"/>
<path stroke="#3d5579" d="M18 1h1M25 2h1M15 3h1M14 4h1M21 4h1M14 5h1M28 5h1M21 6h1M24 6h1M7 7h1M16 7h1M28 7h1M17 8h1M7 9h1M14 9h1M25 10h1M10 12h1M33 13h1M8 16h1M2 19h1M13 19h1M24 19h1M30 19h1M9 20h2M15 23h1M12 24h1M28 24h1M30 24h1M19 26h1M19 27h1M8 28h1M20 28h1M18 29h1M20 32h1M18 33h1"/>
<path stroke="#3e5a79" d="M7 3h1M23 3h1M27 3h1M20 4h1M25 4h1M11 5h1M20 5h1M29 5h1M9 6h1M14 6h1M5 8h1M19 8h1M29 9h2M14 10h1M7 11h1M28 11h1M9 12h1M28 12h1M4 14h1M33 17h1M3 18h1M5 19h1M14 20h1M23 20h1M28 20h1M3 21h1M14 21h1M8 22h1M15 22h1M17 23h1M26 23h1M4 24h1M29 24h1M5 25h1M7 25h1M16 25h1M4 26h1M18 27h1M26 27h1M24 28h1M26 28h1M19 29h1M11 31h1M23 32h1"/>
<path stroke="#3e5f7a" d="M20 0h1M20 1h1M18 2h1M22 3h1M27 4h1M27 5h1M19 6h1M5 7h1M31 8h1M5 11h1M27 12h1M14 13h1M30 16h1M6 17h1M32 19h2M13 21h1M3 22h1M11 23h1M22 24h1M26 24h1M11 25h1M7 27h1M11 27h1M9 29h1M14 29h1M20 30h1"/>
<path stroke="#40647a" d="M23 1h1M8 3h1M17 3h1M19 3h1M5 5h1M17 5h1M19 5h1M23 5h2M12 6h2M16 6h1M28 6h3M12 7h1M18 7h1M16 8h1M26 8h1M6 9h1M4 10h1M24 10h1M28 10h1M14 11h1M27 11h1M30 11h1M33 11h1M10 13h1M32 13h1M29 15h1M4 16h1M8 17h1M26 17h1M12 18h1M14 18h1M15 20h1M21 20h1M32 20h1M7 21h1M23 21h1M30 21h1M16 22h1M22 22h2M30 23h1M3 24h1M8 24h1M24 25h1M9 26h1M20 27h1M13 28h1M20 29h1M15 31h1M26 31h1M14 32h1M22 32h1"/>
<path stroke="#426a7b" d="M17 0h1M19 0h1M10 2h1M19 2h1M14 3h1M18 3h1M24 4h1M5 6h1M18 6h1M8 7h1M4 8h1M8 8h2M25 8h1M28 8h1M10 9h1M24 9h1M2 10h1M6 11h1M10 11h1M7 12h1M25 13h1M30 13h1M34 13h1M22 14h1M24 14h1M4 15h1M33 16h1M1 17h1M14 19h1M29 19h1M24 20h1M15 21h1M29 21h1M4 22h1M20 22h1M3 23h1M10 24h1M20 24h1M31 26h1M15 29h1M22 29h1M27 29h1M9 30h1M19 30h1M22 31h1"/>
<path stroke="#446f7b" d="M20 2h1M20 3h1M6 4h1M23 4h1M20 6h1M23 6h1M21 8h1M8 9h1M15 9h1M17 9h1M19 10h1M32 10h1M13 11h1M20 11h1M2 12h1M8 12h1M14 12h1M22 12h2M7 13h1M11 15h1M25 17h1M7 19h1M11 19h1M22 20h1M5 22h1M25 22h1M4 23h1M5 24h1M24 24h1M28 25h1M24 26h1M9 27h1M25 27h1M11 28h1M17 28h1M14 30h1M21 30h1M10 31h1M19 31h1M16 32h3"/>
<path stroke="#46757a" d="M14 0h1M11 2h1M9 3h1M22 4h1M17 7h1M20 7h1M25 7h1M27 8h1M22 9h1M26 9h1M31 9h1M8 10h1M21 12h1M24 12h1M30 12h1M32 12h1M13 13h1M28 13h1M1 14h1M3 15h1M10 15h1M23 15h1M24 16h1M34 16h1M28 17h1M6 18h1M10 18h1M13 18h1M28 18h1M12 19h1M13 20h1M24 21h1M11 22h1M14 22h1M25 23h1M16 24h1M3 25h1M6 25h1M15 25h1M19 25h1M14 26h2M18 28h1M17 29h1M23 29h2M18 30h1M27 30h1M16 33h1"/>
<path stroke="#487c79" d="M16 0h1M12 2h1M19 4h1M7 5h1M13 5h1M9 7h1M22 7h1M3 8h1M11 8h1M25 9h1M6 10h1M26 10h1M29 10h1M24 11h1M29 11h1M11 12h1M33 12h1M12 13h1M7 14h2M2 15h1M9 15h1M1 18h1M5 18h1M10 19h1M28 19h1M7 20h1M22 21h1M14 23h1M32 23h1M15 24h1M30 26h1M24 27h1M23 28h1M26 29h1M23 30h1M14 31h1M22 33h1"/>
<path stroke="#4a8178" d="M16 1h1M19 1h1M17 2h1M13 4h1M12 5h1M25 5h1M26 6h2M15 7h1M19 9h1M9 10h2M15 10h1M18 10h1M27 10h1M4 11h1M12 11h1M23 14h1M5 15h1M13 15h1M24 15h1M30 20h1M9 22h1M12 22h1M24 22h1M5 23h1M12 23h1M16 23h1M10 27h1M27 28h1M28 29h1M8 30h1M24 32h1M14 33h1M20 33h1"/>
<path stroke="#4c8677" d="M17 1h1M12 3h1M15 4h1M18 5h1M23 7h1M27 7h1M12 8h2M13 9h1M7 10h1M22 10h2M3 12h1M12 12h1M11 13h1M15 13h1M24 13h1M28 14h1M30 14h1M26 15h1M28 15h1M30 15h1M6 16h1M23 16h1M29 18h1M11 20h1M10 21h1M21 21h1M28 21h1M18 22h1M23 23h2M13 24h1M21 24h1M16 26h1M23 27h1M9 28h1M22 28h1M10 29h1M10 30h1M12 30h2M22 30h1M16 31h1M21 32h1M21 33h1"/>
<path stroke="#4e8b76" d="M22 0h1M14 1h1M16 3h1M7 4h1M12 4h1M21 7h1M24 7h1M26 7h1M14 8h1M11 9h1M13 10h1M18 11h1M21 11h1M25 12h2M9 14h1M25 14h2M1 15h1M11 18h1M11 21h1M6 22h1M29 22h1M8 23h1M27 24h1M12 25h1M27 25h1M30 25h1M16 29h1M17 30h1M11 32h1"/>
<path stroke="#519174" d="M6 5h1M15 6h1M25 6h1M10 8h1M24 8h1M20 9h1M12 10h1M26 11h1M26 13h1M8 15h1M26 16h2M12 17h1M29 17h1M31 20h1M5 21h1M7 22h1M13 22h1M30 22h1M31 23h1M13 25h1M29 25h1M31 25h1M20 26h1M10 28h1M15 30h1M20 31h1M15 32h1M17 33h1"/>
<path stroke="#549672" d="M15 0h1M11 1h1M17 4h1M12 9h1M16 9h1M27 9h2M20 10h1M8 11h2M19 11h1M22 11h1M13 12h1M31 12h1M4 13h1M27 13h1M25 16h1M2 17h1M9 17h3M13 17h1M8 18h1M25 20h1M28 22h1M10 23h1M27 23h2M7 24h1M20 25h1M12 27h1M22 27h1M27 27h1M21 28h1M16 30h1M25 30h1M17 31h1M15 33h1"/>
<path stroke="#589c6f" d="M15 2h2M15 8h1M2 9h1M21 9h1M23 9h1M11 11h1M15 11h1M1 12h1M3 14h1M7 15h1M25 15h1M9 16h1M11 16h1M29 16h1M2 18h1M9 18h1M25 18h1M27 18h1M26 20h1M16 21h1M13 23h1M31 24h1M12 28h1M25 28h1M12 29h1M21 31h1M24 31h1"/>
<path stroke="#5ca16b" d="M12 1h2M15 1h1M14 2h1M4 9h1M32 9h1M3 10h1M21 10h1M17 11h1M1 13h1M2 14h1M5 17h1M26 18h1M4 20h1M6 21h1M10 22h1M2 23h1M19 23h1M12 26h2M29 26h1M30 27h1M11 30h1M24 30h1"/>
<path stroke="#61a768" d="M16 10h1M23 11h1M25 11h1M2 13h1M27 15h1M5 16h1M5 20h1M27 21h1M31 21h1M19 22h1M27 22h1M32 22h1M18 23h1M2 24h1M21 25h1M23 26h1M25 29h1M26 30h1"/>
<path stroke="#65ad65" d="M13 2h1M16 4h1M23 8h1M17 10h1M6 12h1M31 14h1M12 15h1M12 16h1M12 20h1M12 21h1M32 21h1M22 25h1M21 26h1"/>
<path stroke="#69b261" d="M22 5h1M11 10h1M4 12h1M27 14h1M6 15h1M8 19h1M4 21h1M23 24h1M23 25h1M11 29h1M13 29h1"/>
<path stroke="#70b75d" d="M18 4h1M22 6h1M3 9h1M15 12h1M28 16h1M9 19h1M25 19h1M22 26h1M28 26h1M29 27h1M18 31h1"/>
<path stroke="#76bc57" d="M14 7h1M5 14h1M13 16h1M31 22h1M7 23h1M28 27h1"/>
<path stroke="#7dc152" d="M15 5h2M16 11h1M16 12h1M10 16h1M6 19h1M26 19h2M27 20h1M6 23h1M28 28h1"/>
<path stroke="#84c54d" d="M5 13h1M31 13h1M6 24h1M27 26h1"/>
<path stroke="#8aca48" d="M6 13h1M6 20h1"/>
<path stroke="#93cd43" d="M13 3h1M21 27h1"/>
<path stroke="#9cd03f" d="M5 12h1M3 13h1M29 28h1"/>
<path stroke="#add735" d="M6 14h1M9 23h1"/>
</g>
<path transform="translate(0,.5)" fill="none" stroke-width="1.08" stroke="#446f7b" d="M28 0h18M45 1h1M22 2h3M47 2h3M18 4h2M52 4h2M14 6h3M56 6h2M14 7h1M57 7h1M12 8h2M58 8h2M59 9h1M10 10h1M8 12h1M60 12h2M8 13h1M61 13h1M61 14h1M61 15h1M6 16h1M62 16h2M4 18h2M65 18h1M4 19h1M66 22h2M67 23h1M2 24h1M67 24h1M2 25h1M33 25h1M42 25h1M2 26h1M68 26h2M2 27h1M31 27h1M69 27h1M2 28h1M44 28h1M69 28h1M2 29h1M29 29h1M44 29h1M69 29h1M2 30h1M69 30h1M2 31h1M69 31h1M2 32h1M69 32h1M2 33h1M69 33h1M2 34h1M69 34h1M2 35h1M69 35h1M2 36h1M28 36h2M69 36h1M2 37h1M29 37h1M69 37h1M2 38h1M29 38h1M44 38h2M69 38h1M2 39h1M44 39h1M68 39h2M2 40h1M31 40h1M42 40h2M2 41h1M42 41h1M2 42h1M32 42h2M40 42h2M2 43h1M33 43h1M40 43h1M67 43h1M67 44h1M66 45h2M4 47h1M65 47h1M4 48h1M4 49h2M63 49h1M6 50h1M63 50h1M6 51h1M63 51h1M63 52h1M8 53h1M62 53h2M61 54h1M10 55h1M60 55h2M59 56h1M12 57h1M58 57h2M57 58h1M14 59h1M56 59h2M16 60h1M55 60h1M16 61h2M54 61h2M53 62h1M20 63h1M53 63h1M22 64h1M22 65h3M48 65h2M28 67h4M43 67h3"/>
</g></svg>
<text x="1164.1" y="341.1" font-size="37.2" text-anchor="end">0.50</text>
<svg x="1241.1" y="120.3" width="229.2" height="229.4" viewBox="0 0 74 74" preserveAspectRatio="none" shape-rendering="crispEdges">
<rect width="74" height="74" fill="#446f7b"/>
<g filter="url(#hb)"><rect x="-3" y="-3" width="80" height="80" fill="#446f7b"/>
<g transform="scale(2) translate(0,.5)" fill="none" stroke-width="1">
<path stroke="#2c0049" d="M16 26h2"/>
<path stroke="#2e034e" d="M18 26h1"/>
<path stroke="#2f0953" d="M29 5h1M32 21h1M18 25h1"/>
<path stroke="#32145e" d="M27 12h1M32 22h1M15 26h1"/>
<path stroke="#331962" d="M16 27h1M20 29h1"/>
<path stroke="#341e66" d="M29 4h1M23 11h1M28 12h1M27 13h1M15 25h1M17 25h1M22 28h1"/>
<path stroke="#352369" d="M27 10h1M31 17h1M22 29h1"/>
<path stroke="#35286c" d="M28 10h1M27 11h2M33 11h1M33 15h1M31 18h1M16 25h1M21 28h1M21 29h1"/>
<path stroke="#362d70" d="M28 5h1M24 11h1M28 13h1M23 15h2M15 24h1M17 27h1M24 27h1M23 28h1M17 30h1M17 31h1M21 33h1"/>
<path stroke="#373371" d="M26 2h1M31 11h2M30 17h1M30 18h1M19 29h1M16 31h1M17 32h1"/>
<path stroke="#383973" d="M25 3h1M26 7h1M29 11h1M24 14h1M27 20h1M18 24h1M19 26h1M30 26h1M15 27h1M23 27h1M20 28h1M24 28h1M27 29h1M22 30h1M24 32h1"/>
<path stroke="#393f75" d="M25 5h1M28 6h2M30 7h1M22 11h1M29 14h1M34 15h1M23 16h1M27 16h1M27 17h1M34 18h1M33 22h1M23 23h1M14 24h1M17 24h1M19 25h1M26 25h1M31 26h1M18 27h1M19 28h1M16 30h1M15 32h1M23 32h1M17 33h1M20 33h1"/>
<path stroke="#3a4576" d="M26 3h1M27 6h1M30 6h1M27 7h1M19 11h1M30 11h1M23 12h1M26 13h1M27 14h2M24 16h1M30 16h1M34 16h1M34 17h1M29 20h1M21 21h1M25 21h1M33 21h1M21 22h1M16 24h1M22 24h1M25 24h1M13 25h2M25 25h1M21 27h1M25 27h1M25 28h1M26 29h1M28 29h1M18 30h1M27 30h1M15 31h1M23 31h2"/>
<path stroke="#3b4b78" d="M22 2h1M23 3h1M28 4h1M26 6h1M27 9h1M26 10h1M29 10h1M31 12h3M29 13h1M31 13h1M34 13h1M25 15h1M32 15h1M31 16h2M23 17h2M27 18h1M31 19h1M25 20h1M28 20h1M20 21h1M31 22h1M27 23h2M23 24h1M20 26h2M22 27h1M30 27h1M13 29h1M23 29h1M25 29h1M20 30h1M26 30h1M22 31h1M26 31h1M21 32h2M16 33h1M22 33h1"/>
<path stroke="#3c5078" d="M22 1h1M23 2h1M18 3h1M24 3h1M24 5h1M26 8h1M31 10h1M21 11h1M23 14h1M25 14h1M34 14h1M26 16h1M33 16h1M28 17h2M34 19h1M31 21h1M15 23h1M18 23h1M22 23h1M29 23h1M27 24h2M20 25h1M22 26h5M19 27h1M29 28h1M18 29h1M24 29h1M21 30h1M25 31h1M16 32h1M15 33h1"/>
<path stroke="#3d5579" d="M22 0h1M23 1h1M25 2h1M16 5h1M18 6h1M27 8h1M24 10h1M26 11h1M21 12h2M30 13h1M32 13h1M33 14h1M27 15h1M27 19h4M32 19h1M30 20h1M24 21h1M29 21h1M29 22h1M21 23h1M24 23h1M24 24h1M26 24h1M24 25h1M10 27h1M20 27h1M16 28h1M26 28h1M19 30h1M18 33h1"/>
<path stroke="#3e5a79" d="M19 3h1M22 3h1M25 4h1M26 5h1M16 6h2M29 7h1M32 10h1M29 12h2M33 13h1M26 14h1M30 14h1M32 14h1M25 16h1M25 17h2M32 17h1M28 18h1M21 20h1M24 20h1M26 20h1M32 20h1M26 21h2M19 22h1M27 22h1M19 23h1M13 24h1M21 24h1M21 25h1M27 25h1M30 25h1M18 28h1M18 31h1M21 31h1M20 32h1M14 33h1"/>
<path stroke="#3e5f7a" d="M19 2h1M24 2h1M20 3h2M28 3h1M24 4h1M17 5h1M27 5h1M25 6h1M23 7h1M26 9h1M28 9h1M25 11h1M26 12h1M14 13h1M32 18h1M20 22h1M22 25h1M9 27h1M11 27h1M26 27h1M15 28h1M16 29h2M23 30h1M14 31h1M19 33h1"/>
<path stroke="#40647a" d="M18 1h1M24 1h1M18 2h1M23 4h1M18 5h1M19 6h1M22 7h1M23 10h1M25 13h1M26 15h1M30 15h1M28 16h2M31 20h1M28 21h1M30 21h1M14 22h1M18 22h1M28 22h1M30 22h1M14 23h1M17 23h1M12 24h1M29 24h1M23 25h1M31 25h1M14 26h1M29 27h1M13 28h1M27 28h1M13 30h1M18 32h1"/>
<path stroke="#426a7b" d="M18 4h1M21 4h1M26 4h1M24 6h1M17 7h1M21 7h1M28 7h1M17 8h1M19 10h1M25 10h1M30 10h1M20 11h1M24 12h1M13 13h1M22 13h1M22 14h1M9 15h1M31 15h1M26 18h1M29 18h1M25 19h2M26 22h1M16 23h1M26 23h1M19 24h1M12 25h1M28 25h2M11 26h1M13 26h1M29 26h1M27 27h1M9 28h1M17 28h1M25 30h1M13 31h1M14 32h1"/>
<path stroke="#446f7b" d="M19 1h1M17 3h1M22 4h1M21 5h1M21 6h1M30 8h1M31 9h1M18 11h1M25 12h1M31 14h1M28 15h1M9 16h2M22 22h1M24 22h1M20 23h1M32 23h1M30 24h1M27 26h1M13 27h2M14 28h1M9 29h1M14 29h2M14 30h1"/>
<path stroke="#46757a" d="M18 0h1M21 2h1M27 3h1M20 4h1M18 7h1M24 7h1M25 8h1M31 8h1M15 9h3M29 9h1M18 10h1M10 15h1M8 16h1M33 17h1M25 18h1M16 21h1M20 24h1M31 24h1M12 27h1M12 29h1M15 30h1M24 30h1M20 31h1"/>
<path stroke="#487c79" d="M21 1h1M23 5h1M16 7h1M20 7h1M25 7h1M24 8h1M28 8h1M14 9h1M18 9h2M23 13h2M8 15h1M29 15h1M33 18h1M33 19h1M14 21h1M2 22h1M10 23h1M25 23h1M30 23h1M12 26h1M10 28h1M10 29h1M8 30h2"/>
<path stroke="#4a8178" d="M21 0h1M20 2h1M17 4h1M19 4h1M27 4h1M15 5h1M22 5h1M20 6h1M22 6h2M19 7h1M18 8h1M22 8h1M29 8h1M30 9h1M21 10h2M6 18h1M24 19h1M9 21h1M9 22h1M17 22h1M13 23h1M31 23h1M4 25h1M10 26h1M28 28h1M8 29h1M12 31h1M19 31h1M19 32h1"/>
<path stroke="#4c8677" d="M7 3h1M9 4h1M8 5h1M20 8h1M23 8h1M13 12h1M4 18h1M23 18h2M11 19h1M2 20h1M22 21h1M10 22h1M25 22h1M11 23h2M7 29h1M12 30h1M13 32h1"/>
<path stroke="#4e8b76" d="M20 1h1M10 3h1M10 4h1M9 5h1M19 5h1M4 6h1M6 6h2M8 7h1M16 8h1M15 10h1M15 13h1M5 14h1M4 16h2M4 17h1M6 17h1M22 19h1M13 21h1M15 21h1M13 22h1M15 22h1M23 22h1M2 23h1M4 24h1M11 24h1M11 25h1M8 27h1M12 28h1"/>
<path stroke="#519174" d="M19 0h1M12 1h1M17 2h1M11 3h1M20 5h1M8 6h1M15 6h1M7 7h1M21 8h1M20 9h1M16 10h2M20 10h1M14 12h1M9 14h2M4 15h1M5 18h1M3 20h1M22 20h1M33 20h1M1 21h1M8 21h1M3 24h1M3 25h1M9 26h1M10 31h1"/>
<path stroke="#549672" d="M16 2h1M5 5h1M13 5h1M5 6h1M9 6h1M9 7h1M8 8h1M14 8h1M19 8h1M9 9h1M32 9h1M13 10h2M13 11h1M11 18h1M12 19h1M1 20h1M10 20h2M14 20h1M23 20h1M2 21h1M23 21h1M16 22h1M3 23h1M28 26h1M5 27h1M11 28h1M10 30h1"/>
<path stroke="#589c6f" d="M20 0h1M9 3h1M13 4h1M12 7h2M9 8h1M15 8h1M24 9h2M17 11h1M2 12h1M6 12h1M2 13h1M5 13h1M11 14h1M8 17h1M10 17h1M4 19h1M23 19h1M13 20h1M15 20h1M10 21h1M7 22h1M9 25h1M4 26h1M28 27h1M8 28h1M11 29h1M12 32h1"/>
<path stroke="#5ca16b" d="M11 2h1M8 9h1M13 9h1M16 12h1M6 13h1M5 17h1M7 18h1M14 18h1M6 19h1M13 19h1M7 21h1M3 22h1M8 22h1M4 23h1M5 24h1M10 24h1M8 25h1M8 26h1M11 31h1M11 32h1"/>
<path stroke="#61a768" d="M11 1h1M13 1h1M16 1h2M8 3h1M7 4h2M16 4h1M14 5h1M12 6h1M15 7h1M7 8h1M21 9h1M12 12h1M15 12h1M10 13h1M14 14h1M5 15h1M11 15h1M11 16h1M11 17h1M13 17h1M3 19h1M10 19h1M5 23h1M9 23h1M10 25h1"/>
<path stroke="#65ad65" d="M10 2h1M14 4h2M7 5h1M12 5h1M13 6h1M13 8h1M1 12h1M5 12h1M11 13h2M2 14h1M8 14h1M3 15h1M6 16h2M7 17h1M9 17h1M10 18h1M12 18h2M5 19h1M7 19h1M14 19h1M12 20h1M12 21h1M5 22h2M12 22h1M2 24h1M6 28h2M11 30h1"/>
<path stroke="#69b261" d="M11 4h2M10 5h1M14 7h1M22 9h2M4 10h1M2 11h1M1 13h1M7 15h1M3 16h1M12 17h1M2 19h1M5 25h1M5 26h1"/>
<path stroke="#70b75d" d="M9 2h1M12 3h1M7 9h1M5 10h1M9 10h1M5 11h1M12 11h1M10 12h2M1 14h1M4 14h1M12 14h1M3 17h1M3 18h1M8 18h1M1 19h1M4 20h1M6 20h1M9 24h1M7 25h1M6 27h1"/>
<path stroke="#76bc57" d="M17 0h1M12 2h1M6 4h1M6 5h1M6 7h1M10 8h1M12 8h1M10 9h1M6 14h1M12 15h1M13 16h1M7 20h1M3 21h1M6 21h1M11 22h1M6 26h1"/>
<path stroke="#7dc152" d="M16 3h1M4 7h1M11 7h1M14 11h2M3 13h1M7 13h1M13 14h1M9 20h1M4 22h1M6 23h1M6 25h1M7 27h1"/>
<path stroke="#84c54d" d="M11 5h1M14 6h1M10 7h1M6 8h1M11 8h1M2 10h1M8 10h1M4 11h1M16 11h1M3 12h1M9 13h1M3 14h1M7 14h1M6 15h1M12 16h1M8 19h1M8 20h1M8 23h1M8 24h1M7 26h1"/>
<path stroke="#8aca48" d="M15 2h1M5 9h2M10 10h1M12 10h1M6 11h1M4 12h1M7 12h1M4 13h1M9 18h1M5 21h1M11 21h1"/>
<path stroke="#93cd43" d="M13 2h1M13 3h1M10 6h1M5 7h1M4 9h1M3 10h1M3 11h1M11 11h1M5 20h1M7 23h1"/>
<path stroke="#9cd03f" d="M14 0h1M16 0h1M15 1h1M11 6h1M3 8h1M10 11h1M8 13h1M2 15h1M13 15h1M4 21h1M6 24h1"/>
<path stroke="#a4d43a" d="M14 1h1M14 3h1M7 10h1M9 12h1M2 16h1M1 17h1M1 18h1M9 19h1M7 24h1"/>
<path stroke="#add735" d="M14 2h1M15 3h1M5 8h1M2 9h1M12 9h1M6 10h1M11 10h1"/>
<path stroke="#b6da32" d="M15 0h1M3 9h1M11 9h1M9 11h1"/>
<path stroke="#c4dd32" d="M4 8h1M8 12h1"/>
<path stroke="#d1df32" d="M7 11h1"/>
<path stroke="#dee232" d="M2 17h1"/>
<path stroke="#eae532" d="M8 11h1M1 16h1M2 18h1"/>
<path stroke="#f0e632" d="M1 15h1"/>
</g>
<path transform="translate(0,.5)" fill="none" stroke-width="1.08" stroke="#446f7b" d="M28 0h18M45 1h1M22 2h3M47 2h3M18 4h2M52 4h2M14 6h3M56 6h2M14 7h1M57 7h1M12 8h2M58 8h2M59 9h1M10 10h1M8 12h1M60 12h2M8 13h1M61 13h1M61 14h1M61 15h1M6 16h1M62 16h2M4 18h2M65 18h1M4 19h1M66 22h2M67 23h1M2 24h1M67 24h1M2 25h1M33 25h1M42 25h1M2 26h1M68 26h2M2 27h1M31 27h1M69 27h1M2 28h1M44 28h1M69 28h1M2 29h1M29 29h1M44 29h1M69 29h1M2 30h1M69 30h1M2 31h1M69 31h1M2 32h1M69 32h1M2 33h1M69 33h1M2 34h1M69 34h1M2 35h1M69 35h1M2 36h1M28 36h2M69 36h1M2 37h1M29 37h1M69 37h1M2 38h1M29 38h1M44 38h2M69 38h1M2 39h1M44 39h1M68 39h2M2 40h1M31 40h1M42 40h2M2 41h1M42 41h1M2 42h1M32 42h2M40 42h2M2 43h1M33 43h1M40 43h1M67 43h1M67 44h1M66 45h2M4 47h1M65 47h1M4 48h1M4 49h2M63 49h1M6 50h1M63 50h1M6 51h1M63 51h1M63 52h1M8 53h1M62 53h2M61 54h1M10 55h1M60 55h2M59 56h1M12 57h1M58 57h2M57 58h1M14 59h1M56 59h2M16 60h1M55 60h1M16 61h2M54 61h2M53 62h1M20 63h1M53 63h1M22 64h1M22 65h3M48 65h2M28 67h4M43 67h3"/>
</g></svg>
<text x="1461.0" y="341.2" font-size="37.2" class="w" text-anchor="end">0.52</text>
<svg x="1496.0" y="120.3" width="229.0" height="229.4" viewBox="0 0 74 74" preserveAspectRatio="none" shape-rendering="crispEdges">
<rect width="74" height="74" fill="#446f7b"/>
<g filter="url(#hb)"><rect x="-3" y="-3" width="80" height="80" fill="#446f7b"/>
<g transform="scale(2) translate(0,.5)" fill="none" stroke-width="1">
<path stroke="#2c0049" d="M10 4h1M5 27h1"/>
<path stroke="#310e59" d="M10 5h1"/>
<path stroke="#32145e" d="M8 5h1M17 25h1"/>
<path stroke="#331962" d="M21 2h1M32 15h1M23 18h1M2 21h1M6 27h1"/>
<path stroke="#341e66" d="M10 3h2M32 17h1M7 28h1"/>
<path stroke="#352369" d="M31 18h2M1 20h1M25 25h1"/>
<path stroke="#35286c" d="M21 1h1M26 4h1M9 5h1M10 6h2M2 20h1M17 24h1M17 26h1M14 27h1M6 28h1M13 32h1"/>
<path stroke="#362d70" d="M32 16h1M31 17h1M1 21h1M5 26h1M15 27h1"/>
<path stroke="#373371" d="M26 3h1M9 4h1M30 17h1M1 19h1M16 27h1M12 32h1"/>
<path stroke="#383973" d="M24 2h1M8 4h1M11 14h1M10 25h1M6 26h1M18 26h1M14 28h2M19 28h1M12 31h1"/>
<path stroke="#393f75" d="M22 2h1M11 4h1M4 6h1M4 7h1M6 7h1M29 7h1M29 13h1M33 15h1M31 16h1M23 17h1M4 18h1M24 18h1M23 19h1M33 20h1M8 21h1M9 25h1M8 26h1"/>
<path stroke="#3a4576" d="M24 1h1M24 3h1M11 7h1M19 7h1M29 8h1M5 9h1M5 10h1M29 12h1M34 14h1M3 17h1M30 18h1M34 18h1M9 21h1M20 21h1M21 23h1M25 24h1M8 25h1M18 25h1M25 26h1M19 32h1"/>
<path stroke="#3b4b78" d="M9 2h1M21 3h1M25 3h1M28 3h1M28 4h2M30 8h1M22 13h1M10 14h1M33 14h1M1 16h2M7 17h1M34 17h1M33 18h1M31 19h1M34 19h1M29 20h1M25 21h1M33 21h1M21 22h1M26 25h1M7 26h1M10 26h1M8 27h1M17 27h1M16 28h1"/>
<path stroke="#3c5078" d="M18 0h1M21 0h1M22 1h1M23 2h1M25 2h2M11 5h1M6 6h3M10 7h1M30 7h1M6 8h2M18 9h1M30 10h2M3 11h1M31 11h2M12 14h1M29 14h1M32 14h1M34 15h1M3 16h1M7 16h1M24 17h1M3 19h1M3 20h1M26 21h1M2 22h1M22 23h1M11 24h1M14 25h1M7 29h1M13 31h1"/>
<path stroke="#3d5579" d="M26 5h1M9 6h1M17 6h1M7 7h1M13 7h1M18 8h1M9 9h1M2 11h1M8 13h2M14 14h1M31 15h1M4 17h1M33 17h1M7 18h1M2 19h1M4 19h1M22 19h1M8 20h1M33 22h1M20 23h1M9 24h1M18 24h1M4 25h1M26 26h1M7 27h1M13 27h1M8 28h1M8 29h1M21 29h1M23 31h1M19 33h1"/>
<path stroke="#3e5a79" d="M18 1h1M22 3h2M27 3h1M21 4h1M25 4h1M27 4h1M21 5h1M28 5h2M5 7h1M16 7h1M28 7h1M5 8h1M17 8h1M19 8h2M30 9h1M10 12h1M23 13h1M33 13h1M13 14h1M27 17h1M3 18h1M24 19h1M30 19h1M32 19h2M9 20h1M23 20h1M3 21h1M17 22h1M26 22h1M14 24h1M19 24h1M5 25h1M16 25h1M4 26h1M11 26h1M19 26h1M18 27h2M20 28h1M19 29h1"/>
<path stroke="#3e5f7a" d="M20 1h1M23 1h1M7 3h2M14 4h1M20 4h1M14 5h1M20 5h1M27 5h1M19 6h1M21 6h1M29 6h1M12 7h1M22 8h1M31 8h1M6 9h2M14 9h1M29 9h1M14 10h1M25 10h1M28 11h1M9 12h1M28 12h1M10 13h1M8 16h1M30 16h1M33 16h1M13 19h1M10 20h1M14 20h1M14 21h1M3 22h1M15 22h1M15 23h1M17 23h1M26 23h1M29 23h1M4 24h1M12 24h1M26 24h1M28 24h3M7 25h1M11 25h1M9 26h1M26 27h1M18 29h1M20 29h1M25 31h1M20 32h1M23 32h1M18 33h1"/>
<path stroke="#40647a" d="M20 0h1M10 2h1M18 2h1M9 3h1M15 3h1M24 4h1M5 5h1M19 5h1M5 6h1M12 6h3M24 6h1M28 6h1M30 6h1M18 7h1M7 11h1M14 11h1M30 11h1M33 11h1M27 12h1M14 13h1M22 14h1M4 16h1M6 17h1M15 20h1M21 20h1M28 20h1M8 22h1M20 22h1M22 22h1M8 24h1M10 24h1M24 25h1M11 27h1M24 28h1M26 28h1M9 29h1M14 29h1M20 30h1M11 31h1M14 32h1"/>
<path stroke="#426a7b" d="M19 0h1M19 2h2M19 3h2M24 5h1M16 6h1M18 6h1M20 6h1M8 7h1M4 8h1M8 8h2M16 8h1M26 8h1M28 8h1M8 9h1M24 10h1M28 10h1M5 11h2M27 11h1M32 13h1M34 13h1M4 14h1M4 15h1M29 15h1M1 17h1M8 17h1M26 17h1M14 18h1M5 19h1M14 19h1M29 19h1M22 20h1M24 20h1M32 20h1M7 21h1M13 21h1M15 21h1M23 21h1M29 21h1M16 22h1M23 22h1M25 22h1M11 23h1M30 23h1M3 24h1M16 24h1M20 24h1M22 24h1M13 28h1M17 28h2M15 29h1M22 29h1M19 30h1M22 31h1M26 31h1M22 32h1"/>
<path stroke="#446f7b" d="M17 0h1M11 2h1M14 3h1M17 3h2M23 4h1M7 5h1M17 5h1M23 5h1M17 7h1M20 7h1M21 8h1M25 8h1M10 9h1M24 9h1M31 9h1M2 10h1M4 10h1M32 10h1M10 11h1M13 11h1M29 11h1M7 12h2M14 12h1M22 12h2M30 12h1M13 13h1M30 13h1M24 14h1M34 16h1M25 17h1M12 18h1M11 19h1M24 21h1M30 21h1M4 22h1M3 23h2M25 23h1M24 24h1M3 25h1M6 25h1M19 25h1M14 26h3M24 26h1M31 26h1M9 27h1M20 27h1M25 27h1M27 29h1M9 30h1M21 30h1M15 31h1M19 31h1M18 32h1"/>
<path stroke="#46757a" d="M14 0h1M19 1h1M6 4h1M22 4h1M13 5h1M23 6h1M9 7h1M27 8h1M15 9h1M17 9h1M25 9h2M6 10h1M8 10h1M19 10h1M29 10h1M20 11h1M2 12h1M21 12h1M32 12h2M7 13h1M12 13h1M25 13h1M28 13h1M3 15h1M10 15h2M23 15h1M24 16h1M28 17h1M1 18h1M5 18h2M13 18h1M12 19h1M13 20h1M30 20h1M21 21h1M5 22h1M14 22h1M14 23h1M16 23h1M5 24h1M15 24h1M15 25h1M28 25h1M11 28h1M17 29h1M23 29h1M14 30h1M27 30h1M10 31h1M14 31h1M16 32h2"/>
<path stroke="#487c79" d="M16 0h1M22 0h1M19 4h1M12 5h1M25 5h1M26 6h2M22 7h1M25 7h1M11 8h1M19 9h1M22 9h1M9 10h1M26 10h1M4 11h1M11 12h1M24 12h1M11 13h1M24 13h1M1 14h1M8 14h1M23 14h1M2 15h1M30 15h1M23 16h1M10 18h1M28 18h2M7 19h1M10 19h1M28 19h1M7 20h1M22 21h1M11 22h1M24 22h1M12 23h1M21 24h1M10 27h1M24 27h1M23 28h1M24 29h1M8 30h1M18 30h1M23 30h1M24 32h1M14 33h1M16 33h1M20 33h1M22 33h1"/>
<path stroke="#4a8178" d="M16 1h2M12 2h1M17 2h1M12 3h1M7 4h1M18 5h1M15 7h1M21 7h1M27 7h1M3 8h1M10 8h1M13 8h1M13 9h1M7 10h1M10 10h1M18 10h1M27 10h1M24 11h1M15 13h1M9 14h1M28 14h1M30 14h1M1 15h1M9 15h1M13 15h1M24 15h1M6 16h1M10 21h1M9 22h1M12 22h1M18 22h1M5 23h1M23 23h2M32 23h1M13 24h1M27 24h1M30 26h1M9 28h1M27 28h1M26 29h1M28 29h1M12 30h2M22 30h1M11 32h1M21 32h1"/>
<path stroke="#4c8677" d="M16 3h1M12 4h2M15 4h1M6 5h1M25 6h1M23 7h2M26 7h1M12 8h1M13 10h1M15 10h1M22 10h2M12 11h1M21 11h1M3 12h1M12 12h2M25 12h2M7 14h1M25 14h1M5 15h1M26 15h1M28 15h1M2 17h1M29 17h1M11 18h1M11 20h1M28 21h1M29 22h1M12 25h1M27 25h1M30 25h1M23 27h1M22 28h1M10 29h1M16 29h1M10 30h1M15 30h1M16 31h1M20 31h1M15 32h1M17 33h1M21 33h1"/>
<path stroke="#4e8b76" d="M15 6h1M14 8h1M24 8h1M11 9h1M16 9h1M20 9h1M28 9h1M20 10h1M8 11h2M18 11h1M26 11h1M31 12h1M26 13h1M26 14h1M8 15h1M25 16h2M2 18h1M31 20h1M11 21h1M6 22h2M13 22h1M30 22h1M8 23h1M28 23h1M13 25h1M29 25h1M20 26h1M12 27h1M10 28h1M21 28h1M17 30h1M24 31h1"/>
<path stroke="#519174" d="M15 0h1M11 1h1M14 1h1M17 4h1M15 8h1M4 9h1M12 9h1M21 9h1M23 9h1M27 9h1M3 10h1M12 10h1M11 11h1M19 11h1M22 11h1M27 13h1M7 15h1M25 15h1M27 16h1M29 16h1M5 17h1M9 17h1M12 17h1M8 18h1M25 18h1M27 18h1M25 20h1M5 21h1M16 21h1M28 22h1M27 23h1M31 23h1M31 24h1M20 25h1M31 25h1M13 26h1M27 27h1M12 28h1M25 28h1M16 30h1M25 30h1M17 31h1M21 31h1M15 33h1"/>
<path stroke="#549672" d="M15 2h2M32 9h1M1 12h1M3 14h1M5 16h1M9 16h1M10 17h2M13 17h1M9 18h1M4 20h1M26 20h1M10 22h1M19 22h1M2 23h1M10 23h1M13 23h1M18 23h2M7 24h1M12 26h1M12 29h1M11 30h1M24 30h1M26 30h1"/>
<path stroke="#589c6f" d="M12 1h1M15 1h1M14 2h1M2 9h1M21 10h1M15 11h1M17 11h1M23 11h1M25 11h1M1 13h1M4 13h1M2 14h1M31 14h1M12 15h1M27 15h1M11 16h1M26 18h1M6 21h1M27 21h1M32 21h1M27 22h1M32 22h1M29 26h1M22 27h1M30 27h1"/>
<path stroke="#5ca16b" d="M13 1h1M16 4h1M22 5h1M22 6h1M23 8h1M16 10h2M2 13h1M27 14h1M8 19h1M5 20h1M12 20h1M4 21h1M12 21h1M31 21h1M2 24h1M23 24h1M21 25h2M23 26h1M11 29h1M13 29h1M25 29h1M18 31h1"/>
<path stroke="#61a768" d="M13 2h1M18 4h1M14 7h1M11 10h1M4 12h1M6 12h1M15 12h1M6 15h1M12 16h1M28 16h1M9 19h1M25 19h1M23 25h1"/>
<path stroke="#65ad65" d="M15 5h1M3 9h1M13 16h1M6 19h1M31 22h1M21 26h2M28 26h1"/>
<path stroke="#69b261" d="M16 5h1M16 12h1M31 13h1M5 14h1M10 16h1M27 20h1M7 23h1M27 26h1M28 27h2"/>
<path stroke="#70b75d" d="M13 3h1M16 11h1M26 19h2M6 23h1M6 24h1M28 28h1"/>
<path stroke="#76bc57" d="M6 20h1M21 27h1"/>
<path stroke="#7dc152" d="M5 12h1M3 13h1M5 13h2M9 23h1"/>
<path stroke="#84c54d" d="M29 28h1"/>
<path stroke="#8aca48" d="M6 14h1"/>
</g>
<path transform="translate(0,.5)" fill="none" stroke-width="1.08" stroke="#446f7b" d="M28 0h18M45 1h1M22 2h3M47 2h3M18 4h2M52 4h2M14 6h3M56 6h2M14 7h1M57 7h1M12 8h2M58 8h2M59 9h1M10 10h1M8 12h1M60 12h2M8 13h1M61 13h1M61 14h1M61 15h1M6 16h1M62 16h2M4 18h2M65 18h1M4 19h1M66 22h2M67 23h1M2 24h1M67 24h1M2 25h1M33 25h1M42 25h1M2 26h1M68 26h2M2 27h1M31 27h1M69 27h1M2 28h1M44 28h1M69 28h1M2 29h1M29 29h1M44 29h1M69 29h1M2 30h1M69 30h1M2 31h1M69 31h1M2 32h1M69 32h1M2 33h1M69 33h1M2 34h1M69 34h1M2 35h1M69 35h1M2 36h1M28 36h2M69 36h1M2 37h1M29 37h1M69 37h1M2 38h1M29 38h1M44 38h2M69 38h1M2 39h1M44 39h1M68 39h2M2 40h1M31 40h1M42 40h2M2 41h1M42 41h1M2 42h1M32 42h2M40 42h2M2 43h1M33 43h1M40 43h1M67 43h1M67 44h1M66 45h2M4 47h1M65 47h1M4 48h1M4 49h2M63 49h1M6 50h1M63 50h1M6 51h1M63 51h1M63 52h1M8 53h1M62 53h2M61 54h1M10 55h1M60 55h2M59 56h1M12 57h1M58 57h2M57 58h1M14 59h1M56 59h2M16 60h1M55 60h1M16 61h2M54 61h2M53 62h1M20 63h1M53 63h1M22 64h1M22 65h3M48 65h2M28 67h4M43 67h3"/>
</g></svg>
<text x="1713.2" y="341.2" font-size="37.2" class="w" text-anchor="end">0.23</text>
<svg x="941.1" y="390.1" width="229.2" height="228.9" viewBox="0 0 74 74" preserveAspectRatio="none" shape-rendering="crispEdges">
<rect width="74" height="74" fill="#519174"/>
<g filter="url(#hb)"><rect x="-3" y="-3" width="80" height="80" fill="#519174"/>
<g transform="scale(2) translate(0,.5)" fill="none" stroke-width="1">
<path stroke="#310e59" d="M18 10h1M10 20h1"/>
<path stroke="#32145e" d="M19 10h1"/>
<path stroke="#341e66" d="M18 4h1M30 10h1"/>
<path stroke="#352369" d="M27 15h1M11 31h1"/>
<path stroke="#35286c" d="M7 12h1M14 32h1"/>
<path stroke="#362d70" d="M19 9h1M17 10h1M5 12h1"/>
<path stroke="#373371" d="M26 3h1M15 10h1M15 11h1M8 12h2M27 14h1M3 18h1M25 20h1"/>
<path stroke="#383973" d="M24 9h1M7 11h1M3 17h1M3 24h1M3 25h1M25 27h1M12 31h1M13 32h1"/>
<path stroke="#393f75" d="M19 8h1M10 18h1M15 32h1"/>
<path stroke="#3a4576" d="M15 2h1M27 7h1M8 10h1M7 13h1M5 15h1M26 16h1M21 22h1M23 23h1M10 28h1M14 31h1"/>
<path stroke="#3b4b78" d="M14 2h1M5 10h1M18 11h1M10 21h1M4 22h1M9 24h1M11 28h1M21 32h1"/>
<path stroke="#3c5078" d="M29 10h1M5 11h1M13 13h1M25 17h1M9 20h1M21 23h1M2 24h1M29 26h1M22 29h1"/>
<path stroke="#3d5579" d="M18 9h1M6 12h1M10 12h1M12 13h1M23 15h1M28 15h1M13 18h1M15 21h1M6 24h1M19 24h1"/>
<path stroke="#3e5a79" d="M15 5h1M18 5h1M23 5h1M24 8h1M17 9h1M30 9h2M9 10h1M16 10h1M24 10h1M31 10h1M9 11h1M17 11h1M29 11h1M13 14h1M24 17h1M21 20h1M9 21h1M25 21h1M27 22h1M8 23h1M30 24h1M6 26h1M13 31h1M21 33h1"/>
<path stroke="#3e5f7a" d="M16 0h1M19 0h1M25 3h1M9 6h2M18 8h1M20 8h1M27 8h1M6 9h1M23 9h1M8 11h1M14 11h1M13 12h1M23 14h1M1 17h1M13 17h1M9 18h1M4 24h1M26 27h1M23 30h1M11 32h1M16 32h1"/>
<path stroke="#40647a" d="M16 1h1M16 2h1M5 5h1M9 5h1M20 5h1M24 5h1M17 8h1M26 8h1M6 11h1M10 15h1M30 17h1M4 18h1M9 19h2M34 19h1M26 21h1M9 25h1M13 26h1M27 26h1M5 27h1M12 30h1M15 31h1M12 32h1"/>
<path stroke="#426a7b" d="M15 1h1M19 1h1M15 6h1M17 6h1M15 7h1M5 8h1M15 8h1M2 9h1M29 9h1M6 10h1M14 10h1M23 10h1M24 11h1M11 12h1M15 12h1M14 14h1M4 17h1M10 17h1M29 18h1M34 18h1M29 19h1M21 21h1M29 21h1M23 22h1M10 24h1M31 25h1M26 29h1M11 30h1M10 31h1"/>
<path stroke="#446f7b" d="M17 2h1M23 4h1M10 7h2M28 7h2M29 8h1M16 11h1M1 12h2M9 13h1M29 14h1M6 15h1M24 16h1M31 16h1M1 18h2M14 18h1M30 18h1M33 18h1M16 21h1M22 21h1M33 22h1M9 23h1M22 23h1M8 24h1M29 24h1M31 24h1M21 25h2M22 26h1M30 26h2M24 27h1M10 29h1M16 29h1M14 33h1"/>
<path stroke="#46757a" d="M13 2h1M16 6h1M5 7h1M24 7h1M6 8h1M23 8h1M10 14h1M12 14h1M22 14h1M23 16h1M11 17h1M31 17h1M33 17h1M30 20h1M4 21h1M20 21h1M32 21h1M22 22h1M24 22h1M32 22h1M24 23h1M5 24h1M23 24h1M19 25h1M26 26h1M29 27h1M27 28h1M11 29h1"/>
<path stroke="#487c79" d="M14 0h1M21 0h1M13 1h2M26 2h1M24 3h1M10 5h1M27 6h1M18 7h1M25 7h1M12 8h1M26 9h1M3 10h1M7 10h1M10 11h1M19 11h1M33 11h1M8 13h1M6 14h1M29 15h1M1 16h1M11 16h1M25 16h1M28 16h1M2 17h1M9 17h1M14 19h1M6 20h1M29 20h1M11 21h1M20 22h1M2 23h1M29 23h1M32 23h1M22 24h1M25 25h1M14 26h1M27 27h1M30 27h1M23 28h1M12 29h1M25 29h1M22 30h1"/>
<path stroke="#4a8178" d="M20 0h1M12 2h1M19 2h1M18 3h1M6 4h1M15 4h1M19 4h1M5 6h1M20 7h1M26 7h1M27 9h1M30 11h1M1 13h1M5 13h2M10 13h2M5 14h1M26 15h1M5 16h1M8 17h1M32 18h1M13 19h1M7 20h1M15 20h1M14 21h1M33 21h1M3 22h1M26 22h1M3 23h1M10 23h1M19 23h1M30 23h1M7 24h1M20 24h1M13 25h1M21 26h1M14 27h1M23 27h1M25 28h1M10 30h1M14 30h1M25 30h1"/>
<path stroke="#4c8677" d="M27 3h1M22 4h1M8 5h1M21 5h1M4 6h1M25 6h2M4 7h1M6 7h1M12 7h1M4 8h1M28 8h1M31 8h1M32 9h1M2 10h1M2 11h1M13 11h1M21 11h1M12 12h1M14 13h1M7 14h1M9 14h1M11 15h1M4 16h1M33 16h1M5 18h1M25 19h1M33 19h1M26 20h1M27 21h1M16 22h2M18 23h1M28 23h1M18 24h1M6 25h2M12 28h1M19 28h1M21 29h1M16 31h1"/>
<path stroke="#4e8b76" d="M12 1h1M18 2h1M8 3h1M11 4h2M6 5h1M14 5h1M19 7h1M14 8h1M30 8h1M7 9h1M14 9h1M21 12h1M29 13h1M28 14h1M2 15h1M29 16h1M5 17h1M23 17h1M25 18h1M1 19h1M11 20h1M28 20h1M33 20h1M24 21h1M5 22h1M12 22h1M5 23h1M7 23h1M11 23h1M16 23h1M4 25h1M10 25h1M20 25h1M30 25h1M13 29h1M20 31h1M23 32h1M15 33h1"/>
<path stroke="#519174" d="M18 0h1M17 1h1M21 1h1M25 2h1M14 3h2M7 5h1M22 5h1M6 6h1M18 6h1M30 7h1M25 8h1M3 9h1M5 9h1M25 9h1M28 10h1M31 11h1M4 12h1M14 12h1M15 13h1M22 13h1M2 16h1M6 16h1M27 16h1M30 16h1M7 18h1M24 18h1M8 21h1M25 22h1M17 23h1M16 24h1M29 25h1M12 26h1M16 27h1M24 28h1M15 29h1M17 29h1M15 30h1M23 31h1M20 32h1"/>
<path stroke="#549672" d="M7 3h1M19 3h1M8 4h1M13 4h1M19 5h1M13 7h1M13 8h1M4 10h1M12 10h2M27 10h1M11 11h1M28 11h1M3 12h1M24 12h1M29 12h1M33 12h1M4 13h1M27 13h1M4 14h1M1 15h1M26 17h1M6 18h1M8 18h1M11 18h1M14 20h1M10 22h1M15 22h1M4 23h1M6 23h1M12 23h1M26 23h1M31 23h1M21 24h1M23 25h1M26 25h1M5 26h1M6 27h1M9 28h1M26 28h1M29 28h1M23 29h1M28 29h1M25 31h1"/>
<path stroke="#589c6f" d="M18 1h1M14 4h1M17 4h1M16 5h1M25 5h1M27 5h1M13 6h1M21 8h1M4 9h1M20 9h1M28 9h1M20 10h1M25 10h2M27 11h1M16 12h1M11 14h1M24 14h1M32 14h1M29 17h1M34 17h1M31 18h1M7 19h1M30 19h1M13 22h1M19 22h1M25 26h1M22 27h1M13 28h1M19 29h2M13 30h1M21 31h1"/>
<path stroke="#5ca16b" d="M22 0h1M10 2h1M11 3h1M7 4h1M21 4h1M8 6h1M24 6h1M11 8h1M13 9h1M15 9h2M10 10h1M3 11h1M33 13h1M30 14h1M13 15h1M3 16h1M13 16h1M7 17h1M12 17h1M23 18h1M2 19h1M32 19h1M8 20h1M32 20h1M12 21h1M30 21h1M6 22h1M11 22h1M20 23h1M26 24h1M5 25h1M4 26h1M15 27h1M14 28h1M18 28h1M22 28h1M24 31h1"/>
<path stroke="#61a768" d="M17 0h1M22 1h1M10 4h1M24 4h1M26 4h1M13 5h1M17 5h1M29 5h1M19 6h1M23 6h1M9 7h1M16 7h2M16 8h1M21 10h1M22 12h2M26 12h1M30 13h2M1 14h1M33 14h1M4 15h1M12 18h1M24 20h1M11 24h1M17 24h1M25 24h1M28 24h1M10 27h2M17 27h1M16 28h1M18 29h1M27 29h1M20 30h1M22 33h1"/>
<path stroke="#65ad65" d="M21 2h1M23 3h1M29 4h1M7 6h1M20 6h1M28 6h1M14 7h1M12 9h1M22 9h1M11 10h1M32 11h1M25 12h1M24 15h1M34 16h1M28 17h1M27 18h1M3 19h1M22 19h1M2 20h1M22 20h1M27 20h1M23 21h1M28 21h1M31 21h1M8 22h1M18 22h1M13 23h1M25 23h1M12 24h2M17 25h1M24 25h1M28 25h1M11 26h1M15 26h2M13 27h1M21 27h1M17 28h1M21 30h1M22 32h1"/>
<path stroke="#69b261" d="M15 0h1M22 2h1M24 2h1M9 4h1M27 4h1M26 5h1M14 6h1M22 6h1M20 11h1M27 12h1M9 15h1M31 15h1M6 19h1M8 19h1M28 19h1M31 19h1M13 21h1M27 23h1M7 26h1M10 26h1M9 27h1M17 32h1M16 33h1M20 33h1"/>
<path stroke="#70b75d" d="M20 1h1M11 2h1M10 3h1M21 3h2M25 4h1M11 6h1M21 7h1M3 8h1M9 8h1M8 9h2M23 11h1M23 13h1M28 13h1M32 13h1M31 14h1M34 14h1M8 16h1M32 17h1M26 18h1M24 19h1M1 20h1M3 20h1M31 20h1M3 21h1M7 22h1M15 23h1M24 24h1M12 25h1M28 26h1M18 27h1M28 28h1M19 30h1M24 30h1"/>
<path stroke="#76bc57" d="M16 3h1M21 6h1M29 6h1M10 8h1M21 9h1M32 10h1M4 11h1M22 11h1M28 12h1M12 15h1M33 15h1M12 16h1M26 19h1M7 21h1M29 22h1M9 26h1M24 26h1M21 28h1M7 29h1M9 29h1M14 29h1M16 30h1M18 30h1M19 32h1"/>
<path stroke="#7dc152" d="M17 3h1M11 5h1M12 6h1M22 8h1M12 11h1M25 11h1M2 13h1M24 13h1M8 14h1M26 14h1M32 15h1M10 16h1M6 17h1M27 17h1M1 21h1M9 22h1M28 22h1M14 25h1M16 25h1M27 25h1M20 26h1M19 27h1M20 28h1M17 30h1M22 31h1M26 31h1"/>
<path stroke="#84c54d" d="M23 1h1M12 3h2M16 4h1M20 4h1M34 13h1M2 14h1M25 15h1M30 15h1M34 15h1M23 19h1M13 20h1M2 22h1M14 22h1M14 23h1M26 30h1M17 31h1M19 31h1M24 32h1M17 33h2"/>
<path stroke="#8aca48" d="M24 1h1M20 2h1M23 2h1M12 5h1M28 5h1M8 7h1M23 7h1M7 8h1M22 10h1M32 12h1M26 13h1M25 14h1M11 19h1M12 20h1M5 21h1M11 25h1M17 26h1M19 26h1M8 30h1M18 32h1"/>
<path stroke="#93cd43" d="M28 3h1M30 12h1M3 13h1M3 14h1M4 20h1M6 21h1M8 25h1M23 26h1M20 27h1M8 29h1"/>
<path stroke="#9cd03f" d="M20 3h1M22 7h1M32 16h1M28 18h1M4 19h1M12 19h1M27 19h1M23 20h1M18 25h1M12 27h1M24 29h1M27 30h1M18 31h1"/>
<path stroke="#a4d43a" d="M8 8h1M10 9h1M26 11h1M31 12h1M25 13h1M2 21h1M9 30h1M19 33h1"/>
<path stroke="#add735" d="M28 4h1M3 15h1M7 15h1M5 19h1M5 20h1M6 28h1"/>
<path stroke="#b6da32" d="M11 1h1M30 6h1M11 9h1M7 16h1M27 24h1M7 27h1M28 27h1M7 28h1M15 28h1"/>
<path stroke="#c4dd32" d="M8 15h1M30 22h2M8 28h1"/>
<path stroke="#d1df32" d="M9 16h1M14 24h1M15 25h1"/>
<path stroke="#dee232" d="M9 3h1M7 7h1"/>
<path stroke="#eae532" d="M18 26h1M8 27h1"/>
<path stroke="#f0e632" d="M9 2h1M15 24h1M8 26h1"/>
</g>
<path transform="translate(0,.5)" fill="none" stroke-width="1.08" stroke="#519174" d="M28 0h18M45 1h1M22 2h3M47 2h3M18 4h2M52 4h2M14 6h3M56 6h2M14 7h1M57 7h1M12 8h2M58 8h2M59 9h1M10 10h1M8 12h1M60 12h2M8 13h1M61 13h1M61 14h1M61 15h1M6 16h1M62 16h2M4 18h2M65 18h1M4 19h1M66 22h2M67 23h1M2 24h1M67 24h1M2 25h1M33 25h1M42 25h1M2 26h1M68 26h2M2 27h1M31 27h1M69 27h1M2 28h1M44 28h1M69 28h1M2 29h1M29 29h1M44 29h1M69 29h1M2 30h1M69 30h1M2 31h1M69 31h1M2 32h1M69 32h1M2 33h1M69 33h1M2 34h1M69 34h1M2 35h1M69 35h1M2 36h1M28 36h2M69 36h1M2 37h1M29 37h1M69 37h1M2 38h1M29 38h1M44 38h2M69 38h1M2 39h1M44 39h1M68 39h2M2 40h1M31 40h1M42 40h2M2 41h1M42 41h1M2 42h1M32 42h2M40 42h2M2 43h1M33 43h1M40 43h1M67 43h1M67 44h1M66 45h2M4 47h1M65 47h1M4 48h1M4 49h2M63 49h1M6 50h1M63 50h1M6 51h1M63 51h1M63 52h1M8 53h1M62 53h2M61 54h1M10 55h1M60 55h2M59 56h1M12 57h1M58 57h2M57 58h1M14 59h1M56 59h2M16 60h1M55 60h1M16 61h2M54 61h2M53 62h1M20 63h1M53 63h1M22 64h1M22 65h3M48 65h2M28 67h4M43 67h3"/>
</g></svg>
<text x="1154.5" y="610.1" font-size="37.2" text-anchor="end">1.50</text>
<svg x="1241.1" y="388.0" width="229.2" height="229.2" viewBox="0 0 74 74" preserveAspectRatio="none" shape-rendering="crispEdges">
<rect width="74" height="74" fill="#519174"/>
<g filter="url(#hb)"><rect x="-3" y="-3" width="80" height="80" fill="#519174"/>
<g transform="scale(2) translate(0,.5)" fill="none" stroke-width="1">
<path stroke="#393f75" d="M24 9h1"/>
<path stroke="#3b4b78" d="M27 15h1"/>
<path stroke="#3c5078" d="M23 9h1M18 10h1"/>
<path stroke="#3d5579" d="M10 20h1"/>
<path stroke="#3e5a79" d="M24 10h1M30 10h1M7 12h1M9 12h1M27 14h1M3 17h1M13 17h1M3 25h1M14 32h1"/>
<path stroke="#3e5f7a" d="M24 8h1M17 10h1M19 10h1M7 11h3M8 12h1M3 24h1"/>
<path stroke="#40647a" d="M8 10h1M18 11h1M5 12h1M5 15h1M28 15h1M11 17h2M3 18h1M10 18h1M13 18h1M9 20h1M10 21h1M21 22h1M10 28h1M15 32h1"/>
<path stroke="#426a7b" d="M18 4h1M23 8h1M30 9h1M5 10h2M9 10h1M29 10h1M5 11h2M6 12h1M10 12h1M13 13h1M4 17h1M25 20h1M20 21h2M23 23h1M2 24h1M9 24h1M19 24h1M25 27h1M11 31h1M14 31h1"/>
<path stroke="#446f7b" d="M15 2h1M26 3h1M15 5h1M15 6h1M6 9h1M18 9h2M7 10h1M23 10h1M31 10h1M15 11h1M17 11h1M7 13h1M12 13h1M13 14h1M11 16h1M13 16h1M26 16h1M2 17h1M9 18h1M10 19h1M21 20h1M25 21h1M21 23h1M11 28h1M15 31h1M13 32h1"/>
<path stroke="#46757a" d="M31 9h1M10 11h1M28 14h1M26 15h1M4 16h1M12 16h1M1 17h1M10 17h1M24 17h2M2 18h1M9 19h1M9 21h1M15 21h1M26 21h1M20 22h1M22 23h1M4 24h1M30 24h1M26 27h1M10 29h1M12 31h1"/>
<path stroke="#487c79" d="M19 0h1M15 1h2M14 2h1M18 5h1M5 8h1M19 8h1M2 9h1M5 9h1M17 9h1M25 9h1M29 9h1M29 11h1M1 12h1M11 12h1M13 12h1M9 13h1M5 14h1M12 14h1M14 14h1M23 15h1M1 16h2M5 16h1M24 16h2M4 18h1M14 18h1M13 19h1M16 21h1M4 22h1M22 22h2M8 23h1M19 23h1M6 24h1M8 24h1M20 24h1M22 24h1M21 25h2M31 25h1M6 26h1M29 26h3M30 27h1M11 29h1M22 29h1M11 30h1M13 31h1M21 32h1M21 33h1"/>
<path stroke="#4a8178" d="M16 0h1M14 1h1M16 2h1M5 5h1M23 5h1M16 6h1M5 7h1M15 7h1M6 8h1M20 8h1M2 10h1M15 10h2M14 11h1M16 11h1M19 11h1M24 11h1M30 11h1M15 12h1M5 13h2M8 13h1M10 13h2M6 14h1M29 14h1M6 15h1M11 15h1M3 16h1M23 16h1M27 16h1M1 18h1M11 18h2M34 18h1M34 19h1M26 20h1M16 22h2M24 22h1M3 23h1M9 23h1M18 23h1M20 23h1M5 24h1M7 24h1M10 24h1M18 24h1M21 24h1M23 24h1M29 24h1M31 24h1M4 25h1M30 25h1M13 26h1M26 26h1M5 27h1M24 27h1M25 28h1M16 32h1"/>
<path stroke="#4c8677" d="M19 1h1M26 2h1M18 3h1M6 4h1M19 4h1M9 5h1M4 6h2M17 6h1M18 8h1M29 8h2M25 10h1M2 12h1M12 12h1M14 12h1M1 13h1M14 13h1M10 14h1M4 15h1M10 15h1M13 15h1M5 17h1M23 17h1M24 18h1M14 19h1M11 20h1M29 20h1M11 21h1M22 21h1M27 21h1M19 22h1M26 22h2M33 22h1M4 23h1M10 23h1M16 23h2M24 23h1M6 25h1M9 25h1M19 25h2M4 26h1M22 26h1M29 27h1M9 28h1M26 28h1M12 30h1M22 30h2M10 31h1M11 32h2M14 33h2"/>
<path stroke="#4e8b76" d="M14 0h1M20 0h2M13 1h1M17 1h1M17 2h2M7 3h1M25 3h1M6 5h1M14 5h1M19 5h2M24 5h1M4 7h1M4 8h1M17 8h1M25 8h1M3 9h1M7 9h1M3 10h2M10 10h1M14 10h1M2 11h1M4 12h1M27 13h1M4 14h1M11 14h1M26 14h1M1 15h2M12 15h1M29 15h1M28 16h1M9 17h1M23 18h1M25 18h1M25 19h1M29 19h1M33 19h1M15 20h1M28 20h1M14 21h1M24 21h1M29 21h1M32 21h2M3 22h1M15 22h1M25 22h1M32 22h1M2 23h1M5 23h1M7 23h1M29 23h1M32 23h1M29 25h1M5 26h1M14 26h1M21 26h1M25 26h1M27 26h1M27 27h1M23 28h1M27 28h1M29 28h1M12 29h1M21 29h1M23 29h1M25 29h2M10 30h1M14 30h1"/>
<path stroke="#519174" d="M15 0h1M18 0h1M18 1h1M19 2h1M27 3h1M8 4h1M15 4h1M23 4h1M8 5h1M16 5h1M21 5h2M9 6h2M18 6h1M6 7h1M18 7h1M20 7h1M24 7h1M27 7h1M29 7h1M15 8h1M21 8h2M26 8h2M31 8h1M4 9h1M22 9h1M26 9h1M28 10h1M11 11h1M13 11h1M31 11h1M33 11h1M4 13h1M15 13h1M29 13h1M32 13h1M9 14h1M24 15h1M26 17h1M5 18h1M8 18h1M1 19h1M22 19h1M7 20h2M14 20h1M27 20h1M30 20h1M5 22h1M10 22h3M18 22h1M6 23h1M11 23h1M30 23h1M17 24h1M5 25h1M7 25h1M10 25h1M13 25h1M25 25h1M10 27h1M14 27h1M23 27h1M12 28h1M24 28h1M15 30h1M16 31h1"/>
<path stroke="#549672" d="M17 0h1M13 2h1M8 3h1M15 3h1M19 3h1M7 4h1M22 4h1M7 5h1M10 5h1M17 5h1M6 6h1M14 6h1M16 7h2M19 7h1M28 7h1M12 8h1M14 8h1M28 8h1M20 9h1M27 9h2M32 9h1M20 10h1M3 11h2M28 11h1M3 12h1M16 12h1M24 12h1M29 12h1M33 12h1M31 13h1M33 13h1M7 14h1M24 14h1M6 16h1M8 17h1M30 17h1M7 18h1M29 18h2M33 18h1M2 19h1M24 19h1M22 20h1M24 20h1M33 20h1M4 21h1M8 21h1M28 21h1M12 23h1M28 23h1M31 23h1M16 24h1M23 25h1M26 25h1M6 27h1M22 27h1M13 28h1M22 28h1M13 29h1M16 29h1M13 30h1M25 30h1M20 31h2M23 31h1M20 32h1M16 33h1"/>
<path stroke="#589c6f" d="M21 1h1M9 4h2M14 4h1M26 4h1M19 6h2M23 6h3M27 6h1M10 7h5M21 7h1M25 7h2M30 7h1M3 8h1M13 8h1M8 9h2M12 10h2M26 10h2M21 11h1M23 11h1M32 11h1M21 12h1M32 12h1M28 13h1M30 13h1M1 14h1M23 14h1M32 14h1M3 15h1M25 15h1M10 16h1M29 16h1M31 17h1M6 18h1M32 18h1M3 19h1M7 19h2M11 19h2M23 19h1M26 19h1M28 19h1M30 19h1M6 20h1M13 20h1M32 20h1M12 21h1M23 21h1M8 22h2M13 22h1M25 23h2M11 24h1M24 24h1M12 26h1M9 27h1M11 27h1M13 27h1M19 28h1M9 29h1M15 29h1M17 29h1M19 29h2M28 29h1M21 30h1M22 32h1"/>
<path stroke="#5ca16b" d="M22 0h1M12 1h1M20 1h1M25 2h1M14 3h1M11 4h1M17 4h1M21 4h1M24 4h1M25 5h1M21 6h2M26 6h1M23 7h1M16 8h1M13 9h4M21 9h1M11 10h1M21 10h2M32 10h1M12 11h1M20 11h1M25 11h1M27 11h1M25 12h1M27 12h1M2 13h1M26 13h1M22 14h1M25 14h1M30 14h1M33 14h1M31 16h1M7 17h1M26 18h1M31 18h1M32 19h1M1 20h1M12 20h1M13 21h1M30 21h1M6 22h1M28 22h1M13 23h1M27 23h1M12 24h2M25 24h1M28 24h1M12 25h1M24 25h1M7 26h1M10 26h1M20 26h1M28 26h1M21 27h1M14 28h1M28 28h1M14 29h1M18 29h1M27 29h1M16 30h1M20 30h1M24 30h1M22 31h1M24 31h1M23 32h1M20 33h1M22 33h1"/>
<path stroke="#61a768" d="M10 2h1M12 2h1M10 3h1M17 3h1M20 4h1M25 4h1M27 4h1M13 5h1M26 5h2M8 6h1M13 6h1M22 7h1M11 8h1M12 9h1M22 11h1M22 12h2M26 12h1M28 12h1M30 12h2M3 13h1M24 13h1M2 14h2M31 14h1M30 16h1M6 17h1M29 17h1M6 19h1M27 19h1M31 20h1M3 21h1M7 21h1M31 21h1M7 22h1M14 22h1M29 22h1M15 23h1M26 24h1M8 25h1M28 25h1M9 26h1M11 26h1M15 26h1M23 26h2M15 27h1M18 28h1M20 28h2M25 31h1"/>
<path stroke="#65ad65" d="M22 1h1M21 2h1M11 3h1M24 3h1M13 4h1M29 4h1M7 6h1M28 6h1M10 8h1M10 9h1M25 13h1M8 14h1M34 14h1M9 15h1M27 17h1M27 18h1M31 19h1M2 20h1M23 20h1M11 25h1M14 25h1M17 25h2M27 25h1M12 27h1M16 27h1M16 28h2M24 29h1M19 30h1M26 30h1M17 32h1"/>
<path stroke="#69b261" d="M11 2h1M20 2h1M9 3h1M16 3h1M21 3h2M12 4h1M16 4h1M29 5h1M29 6h1M9 7h1M7 8h1M9 8h1M26 11h1M22 13h1M30 15h2M33 15h2M34 16h1M28 17h1M34 17h1M3 20h1M1 21h1M5 21h2M2 22h1M14 23h1M16 25h1M16 26h1M19 26h1M19 27h2M28 27h1M17 30h2M17 31h1M19 31h1M19 32h1M24 32h1M17 33h1"/>
<path stroke="#70b75d" d="M22 2h1M28 3h1M11 5h1M11 6h1M11 9h1M23 13h1M34 13h1M32 15h1M8 16h1M28 18h1M4 19h1M7 27h1M17 27h2M6 28h1M8 28h1M7 29h2M8 30h2M26 31h1"/>
<path stroke="#76bc57" d="M9 2h1M13 3h1M20 3h1M23 3h1M12 5h1M28 5h1M12 6h1M7 15h1M7 16h1M9 16h1M33 16h1M32 17h1M5 19h1M4 20h1M30 22h2M27 24h1M8 27h1M15 28h1M18 31h1M18 32h1M18 33h1"/>
<path stroke="#7dc152" d="M11 1h1M12 3h1M28 4h1M30 6h1M8 8h1M32 16h1M33 17h1M5 20h1M2 21h1M14 24h1M15 25h1M17 26h1M7 28h1M27 30h1M19 33h1"/>
<path stroke="#84c54d" d="M23 1h2M24 2h1M7 7h2M8 15h1M15 24h1M8 26h1"/>
<path stroke="#8aca48" d="M18 26h1"/>
<path stroke="#93cd43" d="M23 2h1"/>
</g>
<path transform="translate(0,.5)" fill="none" stroke-width="1.08" stroke="#519174" d="M28 0h18M45 1h1M22 2h3M47 2h3M18 4h2M52 4h2M14 6h3M56 6h2M14 7h1M57 7h1M12 8h2M58 8h2M59 9h1M10 10h1M8 12h1M60 12h2M8 13h1M61 13h1M61 14h1M61 15h1M6 16h1M62 16h2M4 18h2M65 18h1M4 19h1M66 22h2M67 23h1M2 24h1M67 24h1M2 25h1M33 25h1M42 25h1M2 26h1M68 26h2M2 27h1M31 27h1M69 27h1M2 28h1M44 28h1M69 28h1M2 29h1M29 29h1M44 29h1M69 29h1M2 30h1M69 30h1M2 31h1M69 31h1M2 32h1M69 32h1M2 33h1M69 33h1M2 34h1M69 34h1M2 35h1M69 35h1M2 36h1M28 36h2M69 36h1M2 37h1M29 37h1M69 37h1M2 38h1M29 38h1M44 38h2M69 38h1M2 39h1M44 39h1M68 39h2M2 40h1M31 40h1M42 40h2M2 41h1M42 41h1M2 42h1M32 42h2M40 42h2M2 43h1M33 43h1M40 43h1M67 43h1M67 44h1M66 45h2M4 47h1M65 47h1M4 48h1M4 49h2M63 49h1M6 50h1M63 50h1M6 51h1M63 51h1M63 52h1M8 53h1M62 53h2M61 54h1M10 55h1M60 55h2M59 56h1M12 57h1M58 57h2M57 58h1M14 59h1M56 59h2M16 60h1M55 60h1M16 61h2M54 61h2M53 62h1M20 63h1M53 63h1M22 64h1M22 65h3M48 65h2M28 67h4M43 67h3"/>
</g></svg>
<text x="1457.9" y="611.0" font-size="37.2" class="w" text-anchor="end">1.08</text>
<svg x="1497.3" y="390.1" width="229.3" height="228.9" viewBox="0 0 74 74" preserveAspectRatio="none" shape-rendering="crispEdges">
<rect width="74" height="74" fill="#519174"/>
<g filter="url(#hb)"><rect x="-3" y="-3" width="80" height="80" fill="#519174"/>
<g transform="scale(2) translate(0,.5)" fill="none" stroke-width="1">
<path stroke="#352369" d="M18 10h1"/>
<path stroke="#35286c" d="M10 20h1"/>
<path stroke="#362d70" d="M19 10h1"/>
<path stroke="#373371" d="M7 12h1"/>
<path stroke="#383973" d="M19 9h1M30 10h1M27 15h1M11 31h1M14 32h1"/>
<path stroke="#393f75" d="M18 4h1M17 10h1M8 12h1"/>
<path stroke="#3a4576" d="M15 10h1M7 11h1M15 11h1M5 12h1M9 12h1M3 25h1M12 31h1M13 32h1"/>
<path stroke="#3b4b78" d="M19 8h1M24 9h1M27 14h1M3 17h1M3 18h1M3 24h1M15 32h1"/>
<path stroke="#3c5078" d="M26 3h1M7 13h1M10 18h1M25 20h1M25 27h1M14 31h1"/>
<path stroke="#3d5579" d="M15 2h1M27 7h1M18 9h1M8 10h1M18 11h1M6 12h1M9 20h1M10 21h1M21 22h1M23 23h1M2 24h1M9 24h1M10 28h1"/>
<path stroke="#3e5a79" d="M14 2h1M5 10h1M16 10h1M29 10h1M5 11h1M8 11h1M13 13h1M5 15h1M28 15h1M26 16h1M11 28h1M13 31h1"/>
<path stroke="#3e5f7a" d="M18 8h1M24 8h1M17 9h1M30 9h1M24 10h1M31 10h1M9 11h1M17 11h1M10 12h1M12 13h1M23 15h1M25 17h1M25 21h1M4 22h1M21 23h1M19 24h1M29 26h1M22 29h1M21 32h1"/>
<path stroke="#40647a" d="M15 5h1M18 5h1M23 5h1M27 8h1M31 9h1M6 11h1M14 11h1M13 14h1M24 17h1M9 18h1M13 18h1M10 19h1M21 20h1M9 21h1M15 21h1M21 21h1M8 23h1M4 24h1M6 24h1M30 24h1M26 27h1M12 32h1M21 33h1"/>
<path stroke="#426a7b" d="M19 0h1M16 1h1M25 3h1M9 6h2M20 8h1M26 8h1M6 9h1M23 9h1M6 10h1M9 10h1M16 11h1M29 11h1M13 12h1M1 17h1M13 17h1M9 19h1M26 21h1M11 30h2M15 31h1M11 32h1"/>
<path stroke="#446f7b" d="M16 0h1M15 1h1M16 2h1M5 5h1M9 5h1M15 6h1M28 7h1M5 8h1M17 8h1M2 9h1M29 9h1M14 10h1M11 12h1M15 12h1M9 13h1M14 14h1M23 14h1M4 17h1M10 17h1M30 17h1M2 18h1M4 18h1M34 18h1M34 19h1M20 21h1M22 22h2M27 22h1M22 23h1M31 25h1M6 26h1M13 26h1M5 27h1M23 30h1M10 31h1M16 32h1"/>
<path stroke="#46757a" d="M19 1h1M24 5h1M10 7h1M15 7h1M15 8h1M29 8h1M7 10h1M23 10h1M1 12h1M8 13h1M22 14h1M10 15h1M23 16h2M2 17h1M1 18h1M14 18h1M29 18h2M33 18h1M29 19h1M16 21h1M33 22h1M9 23h1M5 24h1M8 24h1M10 24h1M29 24h1M31 24h1M9 25h1M21 25h2M26 26h2M30 26h2M24 27h1M10 29h2M14 33h1"/>
<path stroke="#487c79" d="M14 1h1M13 2h1M17 2h1M26 2h1M23 4h1M20 5h1M16 6h2M5 7h1M11 7h1M24 7h3M29 7h1M6 8h1M10 11h1M19 11h1M24 11h1M2 12h1M6 13h1M10 13h1M6 14h1M10 14h1M12 14h1M29 14h1M6 15h1M1 16h1M25 16h1M11 17h1M31 17h1M29 20h1M22 21h1M29 21h1M20 22h1M24 22h1M24 23h1M22 24h2M22 26h1M29 27h2M25 28h1M26 29h1"/>
<path stroke="#4a8178" d="M14 0h1M21 0h1M13 1h1M18 3h1M19 4h1M10 5h1M5 6h1M27 6h1M18 7h1M23 8h1M26 9h2M2 10h2M30 11h1M12 12h1M5 13h1M11 13h1M14 13h1M5 14h1M26 15h1M29 15h1M5 16h1M28 16h1M31 16h1M33 17h1M14 19h1M30 20h1M11 21h1M32 21h2M26 22h1M32 22h1M2 23h2M10 23h1M29 23h1M32 23h1M7 24h1M20 24h1M19 25h1M14 26h1M27 27h1M23 28h1M27 28h1M12 29h1M16 29h1M25 29h1M22 30h1"/>
<path stroke="#4c8677" d="M20 0h1M19 2h1M24 3h1M6 4h1M15 4h1M8 5h1M4 6h1M4 7h1M19 7h2M4 8h1M12 8h1M25 8h1M28 8h1M30 8h2M5 9h1M2 11h1M13 11h1M33 11h1M14 12h1M1 13h1M28 14h1M4 16h1M11 16h1M27 16h1M9 17h1M32 18h1M25 19h1M33 19h1M7 20h1M15 20h1M26 20h1M4 21h1M27 21h1M3 22h1M16 22h2M19 23h1M30 23h1M4 25h1M6 25h1M25 25h1M30 25h1M21 26h1M23 27h1M21 29h1M10 30h1M14 30h1M15 33h1"/>
<path stroke="#4e8b76" d="M17 1h1M12 2h1M18 2h1M15 3h1M27 3h1M22 4h1M6 5h1M21 5h1M18 6h1M25 6h2M6 7h1M12 7h1M14 9h1M25 9h1M21 11h1M7 14h1M9 14h1M11 15h1M2 16h1M29 16h2M5 17h1M8 17h1M23 17h1M5 18h1M25 18h1M1 19h1M13 19h1M6 20h1M11 20h1M14 21h1M24 21h1M5 22h1M25 22h1M4 23h2M7 23h1M18 23h1M18 24h1M21 24h1M7 25h1M10 25h1M13 25h1M20 25h1M29 25h1M14 27h1M12 28h1M26 28h1M29 28h1M25 30h1M16 31h1"/>
<path stroke="#519174" d="M18 0h1M25 2h1M7 3h1M14 3h1M11 4h2M7 5h1M14 5h1M19 5h1M22 5h1M6 6h1M14 8h1M3 9h1M7 9h1M15 9h1M20 9h1M32 9h1M4 10h1M13 10h1M28 10h1M31 11h1M4 12h1M21 12h1M15 13h1M22 13h1M29 13h1M11 14h1M33 16h1M26 17h1M7 18h2M11 18h1M24 18h1M28 20h1M33 20h1M8 21h1M10 22h1M12 22h1M6 23h1M11 23h1M16 23h2M28 23h1M5 26h1M25 26h1M19 28h1M24 28h1M13 29h1M23 29h1M13 30h1M15 30h1M20 31h1M23 31h1M20 32h1"/>
<path stroke="#549672" d="M12 1h1M18 1h1M21 1h1M8 3h1M19 3h1M8 4h1M14 4h1M16 5h1M24 6h1M13 7h1M30 7h1M13 8h1M4 9h1M16 9h1M28 9h1M20 10h1M25 10h1M27 10h1M11 11h1M28 11h1M3 12h1M16 12h1M24 12h1M4 13h1M27 13h1M1 15h2M6 16h1M29 17h1M34 17h1M31 18h1M30 19h1M14 20h1M15 22h1M19 22h1M12 23h1M20 23h1M31 23h1M23 25h1M26 25h1M4 26h1M12 26h1M16 27h1M15 29h1M17 29h1M21 31h1M23 32h1"/>
<path stroke="#589c6f" d="M17 0h1M7 4h1M13 4h1M17 4h1M24 4h1M17 5h1M25 5h1M8 6h1M13 6h1M17 7h1M12 10h1M26 10h1M3 11h1M27 11h1M29 12h1M33 12h1M4 14h1M24 14h1M13 15h1M3 16h1M13 16h1M12 17h1M6 18h1M2 19h1M7 19h1M32 19h1M8 20h1M11 22h1M13 22h1M26 23h1M16 24h1M5 25h1M6 27h1M22 27h1M9 28h1M13 28h1M22 28h1M19 29h2M28 29h1M25 31h1"/>
<path stroke="#5ca16b" d="M15 0h1M22 0h1M11 3h1M21 4h1M26 4h1M27 5h1M19 6h2M23 6h1M9 7h1M16 7h1M11 8h1M16 8h1M21 8h1M13 9h1M10 10h1M22 12h1M33 13h1M30 14h1M32 14h1M4 15h1M24 15h1M12 18h1M24 20h1M32 20h1M12 21h1M30 21h1M6 22h1M18 22h1M25 23h1M11 24h1M17 24h1M25 24h1M10 27h2M15 27h1M16 28h1M18 28h1M18 29h1M27 29h1M21 30h1M24 31h1M22 32h1M16 33h1"/>
<path stroke="#61a768" d="M22 1h1M10 2h1M23 3h1M10 4h1M13 5h1M14 6h1M28 6h1M14 7h1M3 8h1M12 9h1M21 10h1M32 11h1M23 12h1M30 13h1M1 14h1M33 14h1M7 17h1M28 17h1M23 18h1M3 19h1M8 19h1M22 20h1M27 20h1M23 21h1M28 21h1M8 22h1M13 23h1M12 24h1M26 24h1M28 24h1M24 25h1M13 27h1M17 27h1M21 27h1M14 28h1M17 28h1M20 30h1M20 33h1M22 33h1"/>
<path stroke="#65ad65" d="M20 1h1M21 2h1M24 2h1M9 4h1M25 4h1M27 4h1M29 4h1M26 5h1M29 5h1M7 6h1M11 6h1M22 9h1M11 10h1M4 11h1M20 11h1M23 11h1M25 12h3M23 13h1M28 13h1M31 13h1M31 15h1M34 16h1M32 17h1M6 19h1M22 19h1M24 19h1M31 19h1M1 20h1M31 20h1M13 21h1M31 21h1M9 22h1M27 23h1M13 24h1M24 24h1M28 25h1M10 26h2M15 26h2M28 26h1M28 28h1M24 30h1"/>
<path stroke="#69b261" d="M11 2h1M22 2h1M16 3h2M21 3h2M21 6h2M8 9h2M21 9h1M32 10h1M12 11h1M28 12h1M31 14h1M9 15h1M12 15h1M10 16h1M12 16h1M6 17h1M27 17h1M26 18h2M28 19h1M2 20h1M3 21h1M7 21h1M7 22h1M28 22h2M12 25h1M17 25h1M7 26h1M24 26h1M9 27h1M21 28h1M14 29h1M16 30h1M19 30h1M17 32h1"/>
<path stroke="#70b75d" d="M10 3h1M12 3h2M16 4h1M20 4h1M11 5h1M12 6h1M29 6h1M21 7h1M9 8h2M22 11h1M25 11h1M2 13h1M32 13h1M8 14h1M26 14h1M34 14h1M25 15h1M30 15h1M33 15h1M11 19h1M26 19h1M3 20h1M14 22h1M15 23h1M27 25h1M9 26h1M20 26h1M18 27h1M20 28h1M9 29h1M18 30h1M22 31h1M19 32h1"/>
<path stroke="#76bc57" d="M23 7h1M22 8h1M22 10h1M24 13h1M32 15h1M34 15h1M8 16h1M13 20h1M1 21h1M2 22h1M14 25h1M16 25h1M23 26h1M19 27h1M17 30h1M26 30h1M17 31h1M19 31h1M26 31h1M24 32h1M17 33h1"/>
<path stroke="#7dc152" d="M23 1h2M20 2h1M12 5h1M28 5h1M30 12h1M32 12h1M3 13h1M2 14h1M32 16h1M5 21h2M8 25h1M11 25h1M12 27h1M7 29h1M24 29h1"/>
<path stroke="#84c54d" d="M23 2h1M28 3h1M8 7h1M7 8h1M26 13h1M34 13h1M25 14h1M28 18h1M23 19h1M4 20h1M12 20h1M14 23h1M18 25h1M17 26h1M19 26h1M20 27h1M8 30h1M18 32h1M18 33h1"/>
<path stroke="#8aca48" d="M20 3h1M22 7h1M26 11h1M31 12h1M3 14h1M3 15h1M4 19h1M12 19h1M27 19h1M23 20h1M28 27h1M15 28h1M8 29h1M9 30h1M18 31h1"/>
<path stroke="#93cd43" d="M28 4h1M8 8h1M10 9h1M25 13h1M7 15h1M7 16h1M5 19h1M2 21h1M27 24h1M6 28h1M27 30h1M19 33h1"/>
<path stroke="#9cd03f" d="M11 1h1M30 6h1M11 9h1M9 16h1M5 20h1M30 22h2"/>
<path stroke="#a4d43a" d="M8 15h1M7 27h1"/>
<path stroke="#add735" d="M9 3h1M7 7h1M14 24h1M15 25h1M7 28h2"/>
<path stroke="#b6da32" d="M18 26h1"/>
<path stroke="#c4dd32" d="M9 2h1M15 24h1"/>
<path stroke="#d1df32" d="M8 27h1"/>
<path stroke="#eae532" d="M8 26h1"/>
</g>
<path transform="translate(0,.5)" fill="none" stroke-width="1.08" stroke="#519174" d="M28 0h18M45 1h1M22 2h3M47 2h3M18 4h2M52 4h2M14 6h3M56 6h2M14 7h1M57 7h1M12 8h2M58 8h2M59 9h1M10 10h1M8 12h1M60 12h2M8 13h1M61 13h1M61 14h1M61 15h1M6 16h1M62 16h2M4 18h2M65 18h1M4 19h1M66 22h2M67 23h1M2 24h1M67 24h1M2 25h1M33 25h1M42 25h1M2 26h1M68 26h2M2 27h1M31 27h1M69 27h1M2 28h1M44 28h1M69 28h1M2 29h1M29 29h1M44 29h1M69 29h1M2 30h1M69 30h1M2 31h1M69 31h1M2 32h1M69 32h1M2 33h1M69 33h1M2 34h1M69 34h1M2 35h1M69 35h1M2 36h1M28 36h2M69 36h1M2 37h1M29 37h1M69 37h1M2 38h1M29 38h1M44 38h2M69 38h1M2 39h1M44 39h1M68 39h2M2 40h1M31 40h1M42 40h2M2 41h1M42 41h1M2 42h1M32 42h2M40 42h2M2 43h1M33 43h1M40 43h1M67 43h1M67 44h1M66 45h2M4 47h1M65 47h1M4 48h1M4 49h2M63 49h1M6 50h1M63 50h1M6 51h1M63 51h1M63 52h1M8 53h1M62 53h2M61 54h1M10 55h1M60 55h2M59 56h1M12 57h1M58 57h2M57 58h1M14 59h1M56 59h2M16 60h1M55 60h1M16 61h2M54 61h2M53 62h1M20 63h1M53 63h1M22 64h1M22 65h3M48 65h2M28 67h4M43 67h3"/>
</g></svg>
<text x="1717.0" y="610.4" font-size="37.2" class="w" text-anchor="end">0.68</text>
<svg x="941.2" y="659.4" width="229.3" height="229.1" viewBox="0 0 74 74" preserveAspectRatio="none" shape-rendering="crispEdges">
<rect width="74" height="74" fill="#4a8079"/>
<g filter="url(#hb)"><rect x="-3" y="-3" width="80" height="80" fill="#4a8079"/>
<g transform="scale(2) translate(0,.5)" fill="none" stroke-width="1">
<path stroke="#2c0049" d="M28 6h1"/>
<path stroke="#2e024d" d="M23 16h1"/>
<path stroke="#2f0852" d="M27 6h1"/>
<path stroke="#310d58" d="M28 5h1"/>
<path stroke="#32135d" d="M27 5h1"/>
<path stroke="#331862" d="M17 23h1"/>
<path stroke="#341d65" d="M12 3h1M18 7h1M23 30h1"/>
<path stroke="#352268" d="M25 2h1M27 4h1M5 13h1M14 13h1M23 17h1M25 27h1M7 28h1M7 29h1"/>
<path stroke="#35276c" d="M26 13h1M8 21h1"/>
<path stroke="#362c6f" d="M27 3h1M16 21h1M25 22h1"/>
<path stroke="#373271" d="M25 6h1M2 11h1M32 12h1M33 20h1M22 21h1M4 22h1M10 26h1M19 26h1M23 27h1M8 28h1M26 28h1M14 29h1"/>
<path stroke="#383873" d="M22 5h1M28 11h1M4 13h1M11 13h1M24 16h1M26 18h1M26 19h1M17 22h1M10 25h1M20 32h1"/>
<path stroke="#393e74" d="M24 2h1M26 4h1M12 9h1M15 12h1M31 12h1M33 12h1M5 14h1M8 18h1M27 18h1M25 19h1M27 19h1M19 22h1M18 23h1M18 26h1M13 28h1M29 28h1M16 31h1M21 32h1"/>
<path stroke="#3a4476" d="M26 2h1M15 3h1M22 3h1M31 8h1M31 9h1M2 10h1M14 11h1M14 12h1M6 13h1M31 13h1M2 14h1M10 14h1M13 19h1M10 21h1M33 21h1M16 22h1M31 24h1M16 27h1M22 27h1M27 28h1M25 30h1M17 31h1M16 32h1"/>
<path stroke="#3b4a78" d="M19 0h2M13 3h1M26 3h1M8 4h1M12 4h1M26 6h1M23 10h1M28 10h1M27 11h1M31 11h1M26 12h1M10 13h1M3 14h1M11 14h1M10 15h1M30 19h1M8 27h1M14 27h1M18 27h2M24 27h1M26 27h1M8 29h1M13 30h1"/>
<path stroke="#3c4f78" d="M18 0h1M22 0h1M11 2h1M22 2h1M22 4h1M17 6h1M16 8h1M20 8h1M2 9h1M17 9h1M22 10h1M27 12h1M27 13h1M4 14h1M8 16h1M12 16h1M10 17h2M24 17h1M9 18h1M5 22h1M24 22h1M26 22h1M30 22h1M18 28h1M16 30h1M15 33h1"/>
<path stroke="#3d5479" d="M11 3h1M21 5h1M29 6h1M22 7h1M12 8h1M11 9h1M16 9h1M8 10h1M4 12h1M21 12h1M24 12h1M7 13h1M31 14h1M31 23h1M6 24h1M17 24h1M17 26h1M30 27h1M11 28h2M26 29h1M11 30h1M21 31h1"/>
<path stroke="#3d5979" d="M18 4h1M24 5h1M17 8h1M11 10h1M25 11h1M32 11h2M2 12h1M22 12h1M1 14h1M5 15h1M7 16h1M13 17h1M7 18h1M7 19h1M2 20h1M7 21h1M9 21h1M11 21h1M7 22h1M22 22h1M18 24h1M17 28h1M22 28h1M28 28h1M19 29h1M22 30h1M24 30h1M11 31h2M25 31h2"/>
<path stroke="#3e5e7a" d="M24 1h1M17 3h1M15 4h1M17 4h1M5 5h1M18 6h1M17 7h1M13 8h1M18 8h1M7 10h1M12 10h2M29 10h1M8 11h1M17 11h1M22 11h3M26 11h1M23 12h1M2 13h1M15 13h1M27 14h1M13 16h1M25 17h1M32 19h1M21 21h1M8 22h1M23 22h1M6 23h1M16 23h1M19 23h1M7 25h1M17 25h1M20 25h1M17 27h1M19 28h1M12 30h1M17 30h1M13 31h1M15 31h1M22 31h1M21 33h1"/>
<path stroke="#3f637a" d="M16 0h1M22 1h1M28 3h1M25 5h1M9 6h1M22 6h1M9 7h1M30 7h1M22 8h1M7 11h1M13 11h1M1 12h1M1 13h1M32 13h1M11 18h1M12 19h1M15 20h1M3 22h1M6 22h1M9 22h1M18 22h1M31 22h1M24 23h1M3 24h1M9 24h1M20 24h1M6 25h1M18 25h1M9 27h1M13 27h1M14 28h1M9 29h1M12 29h2M10 30h1M26 30h1M16 33h1"/>
<path stroke="#41697a" d="M14 0h1M17 0h1M14 1h1M10 2h1M25 3h1M9 4h1M25 4h1M29 5h1M7 6h1M7 7h1M12 7h1M15 7h1M7 8h1M21 8h1M15 11h1M29 11h1M3 12h1M13 12h1M29 12h1M25 13h1M28 14h1M24 15h1M10 16h1M12 17h1M25 18h1M20 22h1M2 23h1M2 24h1M4 25h1M11 25h1M19 25h1M20 26h1M28 27h1M10 28h1M21 28h1M11 29h1M16 29h1M20 29h1M15 30h1M10 31h1"/>
<path stroke="#436e7b" d="M12 2h1M10 3h1M11 4h1M21 4h1M26 5h1M4 6h2M24 6h1M29 7h1M24 8h1M30 8h1M13 9h1M23 9h1M17 10h1M31 10h1M9 12h2M25 12h1M14 14h1M26 14h1M29 14h1M7 17h1M12 18h1M23 18h2M28 18h1M28 19h1M31 19h1M34 19h1M8 20h1M23 20h1M30 20h1M15 21h1M11 22h1M8 23h1M7 24h1M11 24h1M25 26h1M10 27h1M12 27h1M15 27h1M29 27h1M9 28h1M25 28h1M10 29h1M23 29h1M20 30h1M18 31h1M20 31h1M13 32h3M20 33h1"/>
<path stroke="#45747a" d="M11 1h1M13 2h1M6 4h1M24 4h1M6 6h1M21 6h1M16 7h1M19 7h3M27 7h1M18 9h1M30 9h1M32 9h1M3 10h1M10 10h1M32 10h1M21 11h1M6 12h1M12 13h1M28 13h3M6 14h1M12 14h1M30 14h1M30 15h1M5 16h1M11 16h1M28 17h1M13 18h1M8 19h1M12 20h2M20 21h1M23 21h1M15 22h1M27 22h1M4 24h1M25 24h1M9 25h1M24 25h2M11 26h2M30 26h1M11 27h1M20 27h1M15 29h1M17 29h2M18 30h1M23 31h1M17 32h1"/>
<path stroke="#487b7a" d="M21 0h1M23 1h1M23 2h1M9 3h1M7 4h1M28 4h1M8 5h1M13 6h1M10 7h2M23 7h2M11 8h1M15 8h1M19 8h1M25 10h1M12 11h1M8 12h1M28 12h1M33 13h1M7 14h1M9 14h1M22 14h1M1 15h2M6 15h1M9 15h1M32 16h1M32 17h1M10 18h1M14 19h1M24 19h1M1 20h1M11 20h1M14 20h1M24 20h1M31 20h1M24 21h1M29 22h1M4 23h1M30 24h1M15 26h2M23 26h1M21 27h1M18 32h2"/>
<path stroke="#4a8079" d="M9 2h1M21 3h1M29 4h1M8 6h1M15 6h2M5 7h1M8 8h1M22 9h1M24 9h1M6 11h1M5 12h1M7 12h1M16 12h1M30 12h1M13 14h1M3 15h2M23 15h1M31 15h1M6 16h1M25 16h1M5 17h1M9 19h1M29 19h1M33 19h1M10 20h1M29 20h1M2 21h1M25 21h2M12 22h1M21 22h1M9 23h1M12 23h1M10 24h1M26 26h1M22 29h1M14 30h1"/>
<path stroke="#4c8577" d="M8 3h1M14 3h1M16 3h1M13 4h1M13 5h1M15 5h1M14 8h1M29 8h1M21 10h1M24 10h1M30 10h1M11 12h1M3 13h1M25 14h1M32 14h1M11 15h1M29 15h1M33 16h1M6 17h1M8 17h1M14 18h1M26 20h1M12 21h1M5 23h1M7 23h1M20 23h1M32 23h1M24 24h1M21 25h1M8 26h2M8 30h2M19 30h1M14 31h1M24 31h1M22 32h1M14 33h1M17 33h2"/>
<path stroke="#4e8a76" d="M15 1h1M18 3h2M16 4h1M9 5h1M28 7h1M23 8h1M27 8h2M7 9h1M10 9h1M20 9h1M26 10h1M13 13h1M34 14h1M8 15h1M9 16h1M26 17h2M33 17h1M27 20h1M5 21h1M30 21h1M28 22h1M25 23h1M19 24h1M14 26h1M24 26h1M29 26h1M31 26h1M23 28h1M27 29h1"/>
<path stroke="#519074" d="M15 0h1M23 4h1M23 5h1M10 6h1M6 7h1M8 7h1M4 9h1M21 9h1M25 9h1M27 10h1M3 11h1M20 11h1M30 11h1M9 13h1M24 13h1M8 14h1M33 14h1M7 15h1M25 15h1M9 17h1M31 18h1M11 19h1M22 20h1M25 20h1M4 21h1M31 21h1M10 22h1M8 24h1M7 27h1M20 28h1"/>
<path stroke="#549572" d="M15 2h1M7 3h1M17 5h1M20 6h1M26 7h1M6 8h1M8 9h1M26 9h1M9 10h1M20 10h1M10 11h1M12 12h1M8 13h1M28 15h1M32 15h2M34 18h1M2 19h1M10 19h1M21 20h1M32 20h1M27 21h1M32 21h1M2 22h1M33 22h1M3 23h1M28 23h2M5 24h1M16 24h1M23 25h1M7 26h1M21 26h1M21 30h1"/>
<path stroke="#579b6f" d="M13 1h1M16 1h2M19 1h1M16 2h1M21 2h1M20 4h1M25 7h1M3 9h1M19 9h1M29 9h1M24 14h1M34 15h1M32 18h1M1 19h1M7 20h1M32 22h1M28 24h1M3 25h1M22 25h1M5 26h1M22 26h1M27 27h1M16 28h1M21 29h1M27 30h1M19 31h1M12 32h1"/>
<path stroke="#5ca06c" d="M20 1h1M14 2h1M19 4h1M6 5h2M18 5h1M23 6h1M30 6h1M4 7h1M3 8h1M10 8h1M16 11h1M12 15h1M1 16h1M1 17h1M29 17h2M1 18h1M4 18h1M6 21h1M28 21h1M11 23h1M30 23h1M29 24h1M5 25h1M6 26h1M6 28h1M19 33h1"/>
<path stroke="#60a669" d="M18 1h1M17 2h1M20 3h1M24 3h1M19 6h1M25 8h1M15 9h1M27 9h1M6 10h1M14 10h1M16 10h1M18 10h1M4 11h1M18 11h1M22 13h1M23 14h1M13 15h1M4 16h1M29 16h1M9 20h1M3 21h1M13 23h1M8 25h1M16 25h1M27 25h1M24 28h1"/>
<path stroke="#64ac65" d="M18 2h1M20 2h1M23 3h1M12 5h1M11 6h1M14 6h1M13 7h1M4 10h1M19 10h1M11 11h1M23 13h1M3 17h1M3 18h1M30 18h1M13 21h1M29 21h1M15 23h1M23 23h1M26 24h1M26 25h1M30 25h1M4 26h1M27 26h1M11 32h1M22 33h1"/>
<path stroke="#69b162" d="M21 1h1M10 4h1M11 5h1M16 5h1M14 7h1M5 8h1M2 16h1M30 16h1M31 17h1M5 18h2M28 20h1M27 23h1M15 24h1M27 24h1M15 25h1M13 26h1M28 26h1M23 32h2"/>
<path stroke="#6fb65d" d="M10 5h1M28 9h1M19 11h1M3 16h1M31 16h1M22 19h1M12 25h1M5 27h1"/>
<path stroke="#75bb58" d="M19 2h1M14 4h1M14 9h1M15 10h1M26 16h1M28 16h1M4 17h1M22 23h1M12 24h1M21 24h2M14 25h1M28 25h2M31 25h1"/>
<path stroke="#7cc053" d="M14 5h1M20 5h1M12 6h1M4 8h1M9 8h1M26 8h1M9 11h1M23 19h1M3 20h1M13 22h1M25 29h1"/>
<path stroke="#83c54e" d="M12 1h1M6 9h1M5 11h1M34 13h1M34 16h1M1 21h1M14 23h1"/>
<path stroke="#89c949" d="M5 9h1M2 17h1M34 17h1M2 18h1M33 18h1M14 21h1M26 23h1M23 24h1M15 28h1"/>
<path stroke="#92cd44" d="M9 9h1M26 15h2M6 19h1M21 23h1M24 29h1"/>
<path stroke="#9ad03f" d="M6 27h1"/>
<path stroke="#a3d33b" d="M29 18h1M10 23h1M28 29h1"/>
<path stroke="#abd636" d="M19 5h1M27 16h1"/>
<path stroke="#b4d932" d="M13 25h1"/>
<path stroke="#cfdf32" d="M5 10h1M3 19h1M6 20h1M14 22h1"/>
<path stroke="#dce232" d="M14 24h1"/>
<path stroke="#f0e632" d="M4 19h2M4 20h2M13 24h1"/>
</g>
<path transform="translate(0,.5)" fill="none" stroke-width="1.08" stroke="#4a8079" d="M28 0h18M45 1h1M22 2h3M47 2h3M18 4h2M52 4h2M14 6h3M56 6h2M14 7h1M57 7h1M12 8h2M58 8h2M59 9h1M10 10h1M8 12h1M60 12h2M8 13h1M61 13h1M61 14h1M61 15h1M6 16h1M62 16h2M4 18h2M65 18h1M4 19h1M66 22h2M67 23h1M2 24h1M67 24h1M2 25h1M33 25h1M42 25h1M2 26h1M68 26h2M2 27h1M31 27h1M69 27h1M2 28h1M44 28h1M69 28h1M2 29h1M29 29h1M44 29h1M69 29h1M2 30h1M69 30h1M2 31h1M69 31h1M2 32h1M69 32h1M2 33h1M69 33h1M2 34h1M69 34h1M2 35h1M69 35h1M2 36h1M28 36h2M69 36h1M2 37h1M29 37h1M69 37h1M2 38h1M29 38h1M44 38h2M69 38h1M2 39h1M44 39h1M68 39h2M2 40h1M31 40h1M42 40h2M2 41h1M42 41h1M2 42h1M32 42h2M40 42h2M2 43h1M33 43h1M40 43h1M67 43h1M67 44h1M66 45h2M4 47h1M65 47h1M4 48h1M4 49h2M63 49h1M6 50h1M63 50h1M6 51h1M63 51h1M63 52h1M8 53h1M62 53h2M61 54h1M10 55h1M60 55h2M59 56h1M12 57h1M58 57h2M57 58h1M14 59h1M56 59h2M16 60h1M55 60h1M16 61h2M54 61h2M53 62h1M20 63h1M53 63h1M22 64h1M22 65h3M48 65h2M28 67h4M43 67h3"/>
</g></svg>
<text x="1154.5" y="879.0" font-size="37.2" text-anchor="end">3.00</text>
<svg x="1239.1" y="659.4" width="229.1" height="229.1" viewBox="0 0 74 74" preserveAspectRatio="none" shape-rendering="crispEdges">
<rect width="74" height="74" fill="#4a8079"/>
<g filter="url(#hb)"><rect x="-3" y="-3" width="80" height="80" fill="#4a8079"/>
<g transform="scale(2) translate(0,.5)" fill="none" stroke-width="1">
<path stroke="#383873" d="M7 19h1M30 23h1"/>
<path stroke="#393e74" d="M6 18h1M30 22h1"/>
<path stroke="#3a4476" d="M7 18h2"/>
<path stroke="#3b4a78" d="M12 8h1M2 10h2M32 11h1M5 18h1M6 19h1M6 20h2M31 22h1"/>
<path stroke="#3c4f78" d="M16 0h1M24 2h1M13 4h1M11 6h1M11 9h1M32 10h1M1 13h1M1 14h1M6 17h1M27 17h2M8 19h1M20 21h1M29 22h1M8 23h1M20 31h2"/>
<path stroke="#3d5479" d="M23 2h1M14 4h1M11 5h1M10 6h1M11 7h2M11 8h1M11 10h1M31 11h1M11 13h2M1 15h1M8 15h1M8 16h1M5 17h1M7 17h2M9 18h2M28 18h1M32 20h1M29 21h2M22 22h1M22 23h1M29 23h1M8 24h1M21 26h1M21 27h1M13 29h2M21 30h1"/>
<path stroke="#3d5979" d="M15 0h1M10 2h1M13 3h1M16 7h1M12 9h1M23 9h1M28 9h1M5 10h1M17 10h1M31 10h1M5 11h1M11 12h3M2 15h1M9 15h1M13 15h1M25 15h1M7 16h1M9 16h1M11 17h1M11 18h1M27 18h1M21 21h1M31 21h2M9 23h1M23 23h1M31 23h1M9 24h1M20 26h1M22 27h1M13 28h1M13 30h1M18 30h2"/>
<path stroke="#3e5e7a" d="M17 0h1M23 1h1M25 2h1M14 3h1M10 5h1M12 5h1M27 5h1M12 6h1M27 7h1M27 8h1M2 9h2M5 9h1M27 9h1M4 10h1M23 10h1M3 11h2M1 12h1M21 12h1M2 13h1M13 13h1M2 14h1M4 14h1M13 14h2M25 14h1M4 15h1M13 16h1M9 17h1M12 17h1M31 17h1M26 18h1M29 18h1M34 18h1M5 20h1M21 20h1M33 20h1M21 22h1M23 22h1M21 23h1M30 24h1M22 26h2M13 27h1M20 27h1M14 28h1M22 28h1M15 29h1M24 29h1M9 30h1M20 30h1M19 31h1M22 33h1"/>
<path stroke="#3f637a" d="M15 1h1M22 2h1M24 3h2M11 4h1M23 4h1M26 4h2M13 5h2M23 5h1M29 5h1M4 6h1M10 7h1M25 7h1M13 8h1M25 8h1M28 8h1M4 9h1M24 9h1M32 9h1M18 10h1M11 11h1M13 11h1M30 11h1M5 12h1M28 13h2M3 15h1M7 15h1M10 15h1M24 15h1M26 15h1M1 16h1M6 16h1M27 16h1M1 17h1M4 17h1M10 17h1M1 18h2M4 18h1M2 19h1M5 19h1M10 19h1M25 19h1M8 20h1M31 20h1M6 21h2M22 21h1M20 22h1M27 24h1M8 25h1M20 25h1M23 25h1M23 27h1M6 28h1M21 28h1M7 29h1M18 29h2M21 29h1M12 30h1M14 30h1M24 30h1M16 32h1M22 32h1M16 33h1"/>
<path stroke="#41697a" d="M14 0h1M16 1h1M24 1h1M11 2h1M15 3h1M23 3h1M6 4h1M10 4h1M12 4h1M15 4h1M22 4h1M5 5h1M18 5h1M22 5h1M26 5h1M28 5h1M27 6h2M30 6h1M9 7h1M24 7h1M28 7h1M8 8h1M23 8h2M29 8h2M8 9h3M17 9h1M22 9h1M29 9h1M31 9h1M12 10h1M16 10h1M19 10h1M24 10h1M2 11h1M6 11h1M12 11h1M20 11h1M23 11h1M10 12h1M22 12h1M29 12h1M32 12h1M5 13h1M15 13h1M3 14h1M5 14h1M8 14h1M24 14h1M26 14h1M28 14h2M5 15h1M23 15h1M2 16h1M4 16h1M10 16h1M12 16h1M25 16h2M28 16h1M30 16h2M26 17h1M29 17h2M31 18h1M1 19h1M9 19h1M11 19h1M24 19h1M26 19h2M29 19h1M32 19h2M1 20h1M4 20h1M22 20h1M25 20h2M1 21h1M16 21h1M28 21h1M33 21h1M2 22h1M8 22h1M32 22h1M2 23h1M28 23h1M31 24h1M27 25h1M5 26h1M28 26h1M12 27h1M28 27h1M30 27h1M12 28h1M20 28h1M26 28h1M29 28h1M12 29h1M22 29h1M26 29h1M8 30h1M10 30h1M15 30h1M22 30h1M10 31h3M16 31h2M12 32h1M21 32h1M17 33h1"/>
<path stroke="#436e7b" d="M22 0h1M14 1h1M9 2h1M14 2h2M10 3h1M22 3h1M9 4h1M25 4h1M28 4h1M15 5h1M19 5h1M5 6h1M9 6h1M14 6h4M23 6h1M8 7h1M15 7h1M17 7h1M26 7h1M30 7h1M5 8h1M9 8h1M22 8h1M26 8h1M18 9h2M21 9h1M25 9h1M30 9h1M6 10h1M8 10h1M15 10h1M20 10h1M17 11h1M22 11h1M29 11h1M33 11h1M4 12h1M6 12h1M9 13h2M34 13h1M9 14h3M27 14h1M27 15h3M3 16h1M29 16h1M2 17h1M13 17h1M34 17h1M12 18h1M25 18h1M30 18h1M28 19h1M30 19h1M34 19h1M27 20h1M30 20h1M5 21h1M24 22h1M24 23h1M26 23h2M26 24h1M28 24h1M5 25h1M21 25h1M4 26h1M11 26h2M29 26h2M29 27h1M7 28h1M23 28h3M27 28h1M16 29h1M20 29h1M23 29h1M25 29h1M27 29h1M16 30h2M23 30h1M17 32h1M18 33h2"/>
<path stroke="#45747a" d="M11 1h2M17 1h1M22 1h1M9 3h1M11 3h2M7 4h1M19 4h1M29 4h1M7 5h1M9 5h1M13 6h1M18 6h1M21 6h1M24 6h1M4 7h1M13 7h1M20 7h1M23 7h1M10 8h1M16 8h1M31 8h1M6 9h1M26 9h1M7 10h1M9 10h2M13 10h2M27 10h2M9 11h2M15 11h2M24 11h1M2 12h2M23 12h1M30 12h2M33 12h1M3 13h2M6 13h1M14 13h1M22 13h1M27 13h1M23 14h1M30 14h1M5 16h1M11 16h1M23 16h1M3 17h1M25 17h1M32 17h1M3 18h1M24 18h1M33 18h1M22 19h2M31 19h1M2 20h1M10 20h2M13 20h1M23 20h1M29 20h1M2 21h3M11 21h1M23 21h1M3 22h1M7 22h1M16 22h4M28 22h1M33 22h1M3 23h1M7 23h1M10 23h1M13 23h1M20 23h1M25 23h1M3 24h1M10 24h1M21 24h3M29 24h1M3 25h2M9 25h1M22 25h1M24 25h1M31 25h1M13 26h1M24 26h1M11 27h1M14 27h1M16 27h1M27 27h1M11 28h1M15 28h1M18 28h2M17 29h1M11 30h1M27 30h1M18 31h1M22 31h1M11 32h1M19 32h1"/>
<path stroke="#487b7a" d="M13 1h1M12 2h2M21 3h1M8 4h1M6 5h1M8 5h1M19 6h2M22 6h1M25 6h2M29 6h1M14 7h1M29 7h1M4 8h1M14 8h1M21 8h1M7 9h1M13 9h1M20 9h1M22 10h1M30 10h1M14 11h1M18 11h2M21 11h1M9 12h1M14 12h2M8 13h1M23 13h2M30 13h1M32 13h2M7 14h1M22 14h1M6 15h1M30 15h1M24 16h1M32 18h1M3 19h2M12 19h1M14 20h1M24 20h1M28 20h1M8 21h1M25 21h2M6 22h1M9 22h1M11 22h1M13 22h1M25 22h1M11 23h2M14 23h1M17 23h2M2 24h1M17 24h2M20 24h1M19 25h1M28 25h1M30 25h1M27 26h1M31 26h1M15 27h1M17 27h1M11 29h1M26 30h1M13 31h1M26 31h1M13 32h1M20 32h1M23 32h1"/>
<path stroke="#4a8079" d="M21 2h1M7 3h1M26 3h1M18 4h1M24 4h1M17 5h1M24 5h2M8 6h1M5 7h1M19 7h1M21 7h1M3 8h1M7 8h1M14 9h1M16 9h1M21 10h1M25 10h2M29 10h1M8 11h1M24 12h1M25 13h1M31 13h1M12 14h1M23 17h2M14 18h1M23 18h1M13 19h2M3 20h1M9 20h1M12 20h1M12 21h4M24 21h1M27 21h1M5 22h1M12 22h1M14 22h1M26 22h2M19 24h1M25 24h1M26 25h1M6 26h1M8 26h1M6 27h2M24 27h1M16 28h2M28 28h1M10 29h1M25 30h1M25 31h1M24 32h1M15 33h1"/>
<path stroke="#4c8577" d="M18 0h1M21 0h1M20 2h1M26 2h1M19 3h2M27 3h2M20 4h2M21 5h1M18 7h1M22 7h1M6 8h1M15 8h1M17 8h1M19 8h2M7 11h1M28 12h1M26 13h1M6 14h1M34 14h1M11 15h2M33 17h1M13 18h1M15 20h1M10 21h1M4 22h1M10 22h1M15 22h1M15 23h1M19 23h1M32 23h1M14 24h1M24 24h1M17 25h2M25 25h1M17 26h1M18 27h2M26 27h1M10 28h1M8 29h1M18 32h1M14 33h1M21 33h1"/>
<path stroke="#4e8a76" d="M19 0h2M16 2h2M8 3h1M16 3h3M16 5h1M20 5h1M7 6h1M7 7h1M15 9h1M16 12h1M7 13h1M31 14h2M31 15h1M7 24h1M11 24h1M13 24h1M15 24h1M7 25h1M10 25h4M29 25h1M7 26h1M10 26h1M19 26h1M5 27h1M9 29h1M28 29h1M15 31h1M23 31h1"/>
<path stroke="#519074" d="M21 1h1M16 4h2M25 11h2M28 11h1M25 12h2M33 14h1M32 16h1M6 23h1M16 23h1M12 24h1M14 26h1M18 26h1M25 26h2M8 27h1M10 27h1M25 27h1M8 28h1M14 31h1M24 31h1"/>
<path stroke="#549572" d="M20 1h1M18 2h2M6 6h1M18 8h1M8 12h1M9 21h1M4 23h1M4 24h1M16 24h1M6 25h1M14 25h1M9 26h1M15 32h1"/>
<path stroke="#579b6f" d="M18 1h2M7 12h1M27 12h1M32 15h1M5 23h1M5 24h1M16 26h1M9 28h1M14 32h1"/>
<path stroke="#5ca06c" d="M6 7h1M27 11h1M34 15h1M9 27h1"/>
<path stroke="#60a669" d="M34 16h1M15 25h1M15 26h1M20 33h1"/>
<path stroke="#64ac65" d="M6 24h1M16 25h1"/>
<path stroke="#75bb58" d="M33 15h1"/>
<path stroke="#89c949" d="M33 16h1"/>
</g>
<path transform="translate(0,.5)" fill="none" stroke-width="1.08" stroke="#4a8079" d="M28 0h18M45 1h1M22 2h3M47 2h3M18 4h2M52 4h2M14 6h3M56 6h2M14 7h1M57 7h1M12 8h2M58 8h2M59 9h1M10 10h1M8 12h1M60 12h2M8 13h1M61 13h1M61 14h1M61 15h1M6 16h1M62 16h2M4 18h2M65 18h1M4 19h1M66 22h2M67 23h1M2 24h1M67 24h1M2 25h1M33 25h1M42 25h1M2 26h1M68 26h2M2 27h1M31 27h1M69 27h1M2 28h1M44 28h1M69 28h1M2 29h1M29 29h1M44 29h1M69 29h1M2 30h1M69 30h1M2 31h1M69 31h1M2 32h1M69 32h1M2 33h1M69 33h1M2 34h1M69 34h1M2 35h1M69 35h1M2 36h1M28 36h2M69 36h1M2 37h1M29 37h1M69 37h1M2 38h1M29 38h1M44 38h2M69 38h1M2 39h1M44 39h1M68 39h2M2 40h1M31 40h1M42 40h2M2 41h1M42 41h1M2 42h1M32 42h2M40 42h2M2 43h1M33 43h1M40 43h1M67 43h1M67 44h1M66 45h2M4 47h1M65 47h1M4 48h1M4 49h2M63 49h1M6 50h1M63 50h1M6 51h1M63 51h1M63 52h1M8 53h1M62 53h2M61 54h1M10 55h1M60 55h2M59 56h1M12 57h1M58 57h2M57 58h1M14 59h1M56 59h2M16 60h1M55 60h1M16 61h2M54 61h2M53 62h1M20 63h1M53 63h1M22 64h1M22 65h3M48 65h2M28 67h4M43 67h3"/>
</g></svg>
<text x="1462.3" y="879.2" font-size="37.2" class="w" text-anchor="end">2.71</text>
<svg x="1497.5" y="658.4" width="228.8" height="229.1" viewBox="0 0 74 74" preserveAspectRatio="none" shape-rendering="crispEdges">
<rect width="74" height="74" fill="#4a8079"/>
<g filter="url(#hb)"><rect x="-3" y="-3" width="80" height="80" fill="#4a8079"/>
<g transform="scale(2) translate(0,.5)" fill="none" stroke-width="1">
<path stroke="#331862" d="M28 6h1"/>
<path stroke="#35276c" d="M27 6h1M23 16h1"/>
<path stroke="#362c6f" d="M27 5h2"/>
<path stroke="#373271" d="M17 23h1"/>
<path stroke="#383873" d="M27 4h1"/>
<path stroke="#393e74" d="M25 2h1M12 3h1M27 3h1M18 7h1M5 13h1M23 17h1M7 28h1M7 29h1"/>
<path stroke="#3a4476" d="M14 13h1M26 13h1M8 21h1M16 21h1M25 27h1M8 28h1M23 30h1"/>
<path stroke="#3b4a78" d="M32 12h1M4 13h1M24 16h1M17 22h1M18 23h1M19 26h1M26 28h1"/>
<path stroke="#3c4f78" d="M26 2h1M26 3h1M26 4h1M25 6h1M2 10h1M2 11h1M28 11h1M14 12h1M31 12h1M11 13h1M5 14h1M26 18h1M26 19h1M33 20h1M22 21h1M4 22h1M25 22h1M10 25h1M10 26h1M18 26h1M23 27h1M14 29h1M16 31h1M20 32h1"/>
<path stroke="#3d5479" d="M24 2h1M22 5h1M12 9h1M15 12h1M26 12h1M33 12h1M6 13h1M31 13h1M2 14h1M10 14h1M24 17h1M8 18h1M27 18h1M27 19h1M16 22h1M19 22h1M18 27h1M13 28h1M8 29h1M16 32h1M21 32h1"/>
<path stroke="#3d5979" d="M13 3h1M22 3h1M26 6h1M16 8h1M31 8h1M2 9h1M31 9h1M23 10h1M14 11h1M27 11h1M31 11h1M27 12h1M10 13h1M27 13h1M3 14h2M11 14h1M10 15h1M13 19h1M25 19h1M10 21h1M33 21h1M5 22h1M8 27h1M16 27h1M19 27h1M22 27h1M24 27h1M26 27h1M18 28h1M27 28h1M29 28h1M13 30h1M16 30h1M25 30h1M17 31h1"/>
<path stroke="#3e5e7a" d="M19 0h1M22 0h1M11 2h1M22 2h1M11 3h1M15 3h1M8 4h1M12 4h1M22 4h1M17 6h1M29 6h1M17 7h1M22 7h1M12 8h1M17 8h1M11 9h1M17 9h1M22 10h1M28 10h1M32 11h1M15 13h1M10 17h2M9 18h1M30 19h1M24 22h1M17 24h2M31 24h1M17 26h1M14 27h1M12 28h1M11 30h1M21 31h1"/>
<path stroke="#3f637a" d="M18 0h1M20 0h1M21 5h1M18 8h1M20 8h1M16 9h1M8 10h1M12 10h1M22 11h5M33 11h1M2 12h1M4 12h1M21 12h2M24 12h1M2 13h1M7 13h1M1 14h1M31 14h1M7 16h2M12 16h1M13 17h1M9 21h1M11 21h1M7 22h2M18 22h1M26 22h1M30 22h1M19 23h1M31 23h1M6 24h1M17 27h1M30 27h1M11 28h1M17 28h1M22 28h1M28 28h1M13 29h1M26 29h1M12 30h1M17 30h1M22 30h1M24 30h1M11 31h3M25 31h2M15 33h1"/>
<path stroke="#41697a" d="M22 1h1M24 1h1M17 4h2M24 5h3M18 6h1M22 8h1M7 10h1M11 10h1M13 10h1M29 10h1M8 11h1M13 11h1M1 12h1M23 12h1M1 13h1M32 13h1M5 15h1M13 16h1M25 17h1M7 18h1M25 18h1M15 20h1M7 21h1M21 21h1M6 22h1M22 22h2M6 23h1M16 23h1M17 25h4M9 27h1M13 27h1M14 28h1M19 28h1M9 29h1M11 29h2M19 29h1M10 30h1M26 30h1M15 31h1M22 31h1M16 33h1"/>
<path stroke="#436e7b" d="M10 2h1M12 2h1M17 3h1M25 3h1M28 3h1M25 4h1M28 4h1M5 5h1M29 5h1M9 6h1M22 6h1M15 7h2M30 7h1M13 8h1M21 8h1M30 8h1M7 11h1M17 11h1M29 11h1M3 12h1M13 12h1M25 12h1M29 12h1M25 13h1M14 14h1M27 14h1M10 16h1M12 17h1M11 18h1M24 18h1M7 19h1M12 19h1M32 19h1M9 22h1M20 22h1M31 22h1M24 23h1M2 24h1M9 24h1M6 25h2M11 25h1M20 26h1M10 27h1M12 27h1M29 27h1M9 28h2M10 29h1M16 29h1M15 30h1M20 31h1M15 32h1M21 33h1"/>
<path stroke="#45747a" d="M14 0h1M16 0h2M14 1h1M10 3h1M9 4h1M15 4h1M21 4h1M7 6h1M21 6h1M24 6h1M7 7h1M9 7h1M12 7h1M19 7h1M21 7h1M27 7h1M29 7h1M7 8h1M13 9h1M23 9h1M32 9h1M31 10h2M15 11h1M6 12h1M10 12h1M28 12h1M12 13h1M28 13h3M6 14h1M26 14h1M28 14h2M24 15h1M11 16h1M7 17h1M12 18h2M23 18h1M8 19h1M28 19h1M31 19h1M34 19h1M2 20h1M8 20h1M12 20h1M30 20h1M15 21h1M20 21h1M23 21h1M3 22h1M11 22h1M2 23h1M8 23h1M3 24h1M7 24h1M20 24h1M11 26h1M25 26h1M11 27h1M15 27h1M28 27h1M21 28h1M25 28h1M17 29h2M20 29h1M23 29h1M14 30h1M20 30h1M18 31h1M23 31h1M14 32h1M17 32h1M20 33h1"/>
<path stroke="#487b7a" d="M21 0h1M23 1h1M13 2h1M23 2h1M9 3h1M6 4h2M11 4h1M24 4h1M8 5h1M4 6h2M20 7h1M23 7h1M11 8h1M15 8h1M19 8h1M24 8h1M18 9h1M22 9h1M30 9h1M3 10h1M17 10h1M21 11h1M5 12h1M7 12h3M16 12h1M30 12h1M3 13h1M9 14h1M12 14h1M22 14h1M30 14h1M1 15h1M6 15h1M9 15h1M23 15h1M5 16h1M25 16h1M8 17h1M10 18h1M28 18h1M14 19h1M11 20h1M13 20h1M23 20h2M24 21h2M4 23h1M4 24h1M11 24h1M25 24h1M4 25h1M9 25h1M24 25h2M16 26h1M23 26h1M30 26h1M20 27h2M15 29h1M22 29h1M18 30h1M10 31h1M13 32h1M18 32h2"/>
<path stroke="#4a8079" d="M11 1h1M9 2h1M8 3h1M21 3h1M13 4h1M29 4h1M6 6h1M8 6h1M16 6h1M10 7h2M24 7h1M28 7h1M24 9h1M10 10h1M24 10h2M30 10h1M12 11h1M13 13h1M33 13h1M7 14h1M13 14h1M32 14h1M2 15h3M11 15h1M30 15h1M6 16h1M28 17h1M32 17h1M14 18h1M9 19h1M24 19h1M33 19h1M1 20h1M10 20h1M14 20h1M31 20h1M26 21h1M15 22h1M21 22h1M27 22h1M29 22h1M5 23h1M7 23h1M9 23h1M10 24h1M19 24h1M30 24h1M9 26h1M12 26h1M14 31h1"/>
<path stroke="#4c8577" d="M14 3h1M16 3h1M18 3h1M23 5h1M13 6h1M15 6h1M8 8h1M23 8h1M29 8h1M21 10h1M26 10h1M3 11h1M6 11h1M30 11h1M11 12h1M9 13h1M25 14h1M7 15h2M29 15h1M31 15h1M9 16h1M32 16h1M5 17h2M9 17h1M26 17h1M29 19h1M26 20h1M29 20h1M12 21h1M30 21h1M12 22h1M20 23h1M25 23h1M32 23h1M24 24h1M8 26h1M15 26h1M24 26h1M26 26h1M7 27h1M20 28h1M23 28h1M8 30h2M19 30h1M24 31h1M22 32h1M14 33h1M17 33h1"/>
<path stroke="#4e8a76" d="M15 0h1M15 1h1M7 3h1M16 4h1M23 4h1M9 5h1M13 5h1M15 5h1M17 5h1M5 7h2M8 7h1M14 8h1M27 8h2M7 9h1M10 9h1M20 9h2M25 9h1M27 10h1M12 12h1M8 13h1M8 14h1M33 14h1M33 16h1M27 17h1M11 19h1M22 20h1M25 20h1M27 20h1M32 20h1M2 21h1M31 21h2M10 22h1M28 22h1M33 22h1M3 23h1M12 23h1M8 24h1M21 25h1M29 26h1M31 26h1M27 27h1M27 29h1M21 30h1M18 33h1"/>
<path stroke="#519074" d="M13 1h1M15 2h1M19 3h1M10 6h1M20 6h1M30 6h1M25 7h2M3 9h1M8 9h1M20 11h1M22 13h1M24 13h1M34 14h1M25 15h1M32 15h2M33 17h1M31 18h1M10 19h1M7 20h1M21 20h1M4 21h2M27 21h1M2 22h1M29 23h2M5 24h1M16 24h1M3 25h1M23 25h1M7 26h1M14 26h1M21 26h2M16 28h1M21 29h1M27 30h1M19 31h1"/>
<path stroke="#549572" d="M16 1h2M19 1h1M14 2h1M16 2h1M21 2h1M24 3h1M6 5h2M18 5h1M23 6h1M6 8h1M10 8h1M4 9h1M19 9h1M26 9h1M29 9h1M9 10h1M20 10h1M10 11h1M16 11h1M12 15h2M28 15h1M32 18h1M34 18h1M1 19h2M9 20h1M6 21h1M32 22h1M28 23h1M5 25h1M8 25h1M6 28h1M12 32h1M19 33h1"/>
<path stroke="#579b6f" d="M20 1h1M17 2h1M20 3h1M23 3h1M19 4h2M19 6h1M4 7h1M13 7h1M3 8h1M15 9h1M14 10h1M16 10h1M18 10h1M4 11h1M11 11h1M18 11h1M23 14h2M34 15h1M1 16h1M4 16h1M1 17h1M29 17h2M3 21h1M28 21h2M11 23h1M28 24h2M16 25h1M22 25h1M5 26h2M24 28h1M22 33h1"/>
<path stroke="#5ca06c" d="M18 1h1M21 1h1M10 4h1M12 5h1M11 6h1M14 6h1M14 7h1M25 8h1M27 9h1M6 10h1M23 13h1M29 16h1M31 17h1M1 18h1M30 18h1M28 20h1M13 21h1M15 23h1M23 23h1M26 24h1M26 25h1M30 25h1M13 26h1M27 26h2M11 32h1"/>
<path stroke="#60a669" d="M18 2h1M20 2h1M14 4h1M10 5h2M16 5h1M5 8h1M28 9h1M4 10h1M19 10h1M2 16h2M30 16h1M3 17h1M4 18h1M6 18h1M22 19h1M13 23h1M27 23h1M27 24h1M12 25h1M27 25h1M31 25h1M4 26h1M25 29h1M23 32h2"/>
<path stroke="#64ac65" d="M12 1h1M20 5h1M12 6h1M9 8h1M26 8h1M14 9h1M15 10h1M9 11h1M19 11h1M28 16h1M31 16h1M4 17h1M3 18h1M23 19h1M15 24h1M15 25h1M28 25h2M15 28h1"/>
<path stroke="#69b162" d="M19 2h1M14 5h1M4 8h1M26 16h1M5 18h1M33 18h1M1 21h1M13 22h1M22 23h1M26 23h1M12 24h1M21 24h1M5 27h1M24 29h1"/>
<path stroke="#6fb65d" d="M6 9h1M5 11h1M34 13h1M34 16h1M2 17h1M2 18h1M3 20h1M14 21h1M22 24h2M28 29h1"/>
<path stroke="#75bb58" d="M5 9h1M9 9h1M26 15h2M34 17h1M29 18h1M10 23h1M14 23h1M21 23h1M14 25h1M6 27h1"/>
<path stroke="#7cc053" d="M6 19h1"/>
<path stroke="#83c54e" d="M19 5h1M27 16h1"/>
<path stroke="#92cd44" d="M5 10h1M3 19h1M14 22h1M13 25h1"/>
<path stroke="#9ad03f" d="M6 20h1"/>
<path stroke="#a3d33b" d="M14 24h1"/>
<path stroke="#abd636" d="M13 24h1"/>
<path stroke="#b4d932" d="M5 19h1"/>
<path stroke="#cfdf32" d="M4 19h1M4 20h1"/>
<path stroke="#dce232" d="M5 20h1"/>
</g>
<path transform="translate(0,.5)" fill="none" stroke-width="1.08" stroke="#4a8079" d="M28 0h18M45 1h1M22 2h3M47 2h3M18 4h2M52 4h2M14 6h3M56 6h2M14 7h1M57 7h1M12 8h2M58 8h2M59 9h1M10 10h1M8 12h1M60 12h2M8 13h1M61 13h1M61 14h1M61 15h1M6 16h1M62 16h2M4 18h2M65 18h1M4 19h1M66 22h2M67 23h1M2 24h1M67 24h1M2 25h1M33 25h1M42 25h1M2 26h1M68 26h2M2 27h1M31 27h1M69 27h1M2 28h1M44 28h1M69 28h1M2 29h1M29 29h1M44 29h1M69 29h1M2 30h1M69 30h1M2 31h1M69 31h1M2 32h1M69 32h1M2 33h1M69 33h1M2 34h1M69 34h1M2 35h1M69 35h1M2 36h1M28 36h2M69 36h1M2 37h1M29 37h1M69 37h1M2 38h1M29 38h1M44 38h2M69 38h1M2 39h1M44 39h1M68 39h2M2 40h1M31 40h1M42 40h2M2 41h1M42 41h1M2 42h1M32 42h2M40 42h2M2 43h1M33 43h1M40 43h1M67 43h1M67 44h1M66 45h2M4 47h1M65 47h1M4 48h1M4 49h2M63 49h1M6 50h1M63 50h1M6 51h1M63 51h1M63 52h1M8 53h1M62 53h2M61 54h1M10 55h1M60 55h2M59 56h1M12 57h1M58 57h2M57 58h1M14 59h1M56 59h2M16 60h1M55 60h1M16 61h2M54 61h2M53 62h1M20 63h1M53 63h1M22 64h1M22 65h3M48 65h2M28 67h4M43 67h3"/>
</g></svg>
<text x="1722.0" y="876.4" font-size="37.2" class="w" text-anchor="end">1.81</text>
<linearGradient id="g807_119" x1="0" y1="0" x2="0" y2="1"><stop offset="0.000" stop-color="#f0e632"/><stop offset="0.020" stop-color="#e6e432"/><stop offset="0.100" stop-color="#b3d932"/><stop offset="0.200" stop-color="#8aca48"/><stop offset="0.300" stop-color="#6ab361"/><stop offset="0.400" stop-color="#559871"/><stop offset="0.450" stop-color="#4e8b76"/><stop offset="0.500" stop-color="#497f79"/><stop offset="0.550" stop-color="#44707b"/><stop offset="0.600" stop-color="#3f637a"/><stop offset="0.700" stop-color="#3b4b78"/><stop offset="0.800" stop-color="#362e70"/><stop offset="0.900" stop-color="#331660"/><stop offset="0.980" stop-color="#2d004b"/><stop offset="1.000" stop-color="#2c0048"/></linearGradient>
<rect x="808.5999999999999" y="115.80000000000001" width="22.7" height="4" fill="#f2e535"/>
<rect x="808.4" y="120.0" width="23.1" height="229.0" fill="url(#g807_119)" stroke="#000" stroke-width="1.3"/>
<rect x="809.0999999999999" y="347.0" width="21.7" height="1.4" fill="#ececee"/>
<linearGradient id="g809_393" x1="0" y1="0" x2="0" y2="1"><stop offset="0.000" stop-color="#f0e632"/><stop offset="0.020" stop-color="#e6e432"/><stop offset="0.100" stop-color="#b3d932"/><stop offset="0.200" stop-color="#8aca48"/><stop offset="0.300" stop-color="#6ab361"/><stop offset="0.400" stop-color="#559871"/><stop offset="0.450" stop-color="#4e8b76"/><stop offset="0.500" stop-color="#497f79"/><stop offset="0.550" stop-color="#44707b"/><stop offset="0.600" stop-color="#3f637a"/><stop offset="0.700" stop-color="#3b4b78"/><stop offset="0.800" stop-color="#362e70"/><stop offset="0.900" stop-color="#331660"/><stop offset="0.980" stop-color="#2d004b"/><stop offset="1.000" stop-color="#2c0048"/></linearGradient>
<rect x="810.6999999999999" y="389.4" width="22.8" height="4" fill="#f2e535"/>
<rect x="810.5" y="393.6" width="23.2" height="228.7" fill="url(#g809_393)" stroke="#000" stroke-width="1.3"/>
<rect x="811.1999999999999" y="620.3" width="21.8" height="1.4" fill="#ececee"/>
<linearGradient id="g809_658" x1="0" y1="0" x2="0" y2="1"><stop offset="0.000" stop-color="#f0e632"/><stop offset="0.020" stop-color="#e6e432"/><stop offset="0.100" stop-color="#b3d932"/><stop offset="0.200" stop-color="#8aca48"/><stop offset="0.300" stop-color="#6ab361"/><stop offset="0.400" stop-color="#559871"/><stop offset="0.450" stop-color="#4e8b76"/><stop offset="0.500" stop-color="#497f79"/><stop offset="0.550" stop-color="#44707b"/><stop offset="0.600" stop-color="#3f637a"/><stop offset="0.700" stop-color="#3b4b78"/><stop offset="0.800" stop-color="#362e70"/><stop offset="0.900" stop-color="#331660"/><stop offset="0.980" stop-color="#2d004b"/><stop offset="1.000" stop-color="#2c0048"/></linearGradient>
<rect x="810.6999999999999" y="654.4" width="22.8" height="4" fill="#f2e535"/>
<rect x="810.5" y="658.6" width="23.2" height="228.7" fill="url(#g809_658)" stroke="#000" stroke-width="1.3"/>
<rect x="811.1999999999999" y="885.3" width="21.8" height="1.4" fill="#ececee"/>
<linearGradient id="g1739_119" x1="0" y1="0" x2="0" y2="1"><stop offset="0.000" stop-color="#f0e632"/><stop offset="0.020" stop-color="#e6e432"/><stop offset="0.100" stop-color="#b3d932"/><stop offset="0.200" stop-color="#8aca48"/><stop offset="0.300" stop-color="#6ab361"/><stop offset="0.400" stop-color="#559871"/><stop offset="0.450" stop-color="#4e8b76"/><stop offset="0.500" stop-color="#497f79"/><stop offset="0.550" stop-color="#44707b"/><stop offset="0.600" stop-color="#3f637a"/><stop offset="0.700" stop-color="#3b4b78"/><stop offset="0.800" stop-color="#362e70"/><stop offset="0.900" stop-color="#331660"/><stop offset="0.980" stop-color="#2d004b"/><stop offset="1.000" stop-color="#2c0048"/></linearGradient>
<rect x="1740.1" y="120.19999999999999" width="23.1" height="228.9" fill="url(#g1739_119)" stroke="#000" stroke-width="1.3"/>
<rect x="1740.8" y="347.1" width="21.7" height="1.4" fill="#ececee"/>
<linearGradient id="g1740_389" x1="0" y1="0" x2="0" y2="1"><stop offset="0.000" stop-color="#f0e632"/><stop offset="0.020" stop-color="#e6e432"/><stop offset="0.100" stop-color="#b3d932"/><stop offset="0.200" stop-color="#8aca48"/><stop offset="0.300" stop-color="#6ab361"/><stop offset="0.400" stop-color="#559871"/><stop offset="0.450" stop-color="#4e8b76"/><stop offset="0.500" stop-color="#497f79"/><stop offset="0.550" stop-color="#44707b"/><stop offset="0.600" stop-color="#3f637a"/><stop offset="0.700" stop-color="#3b4b78"/><stop offset="0.800" stop-color="#362e70"/><stop offset="0.900" stop-color="#331660"/><stop offset="0.980" stop-color="#2d004b"/><stop offset="1.000" stop-color="#2c0048"/></linearGradient>
<rect x="1741.5" y="390.0" width="23.0" height="229.0" fill="url(#g1740_389)" stroke="#000" stroke-width="1.3"/>
<rect x="1742.2" y="617.0" width="21.6" height="1.4" fill="#ececee"/>
<linearGradient id="g1740_658" x1="0" y1="0" x2="0" y2="1"><stop offset="0.000" stop-color="#f0e632"/><stop offset="0.020" stop-color="#e6e432"/><stop offset="0.100" stop-color="#b3d932"/><stop offset="0.200" stop-color="#8aca48"/><stop offset="0.300" stop-color="#6ab361"/><stop offset="0.400" stop-color="#559871"/><stop offset="0.450" stop-color="#4e8b76"/><stop offset="0.500" stop-color="#497f79"/><stop offset="0.550" stop-color="#44707b"/><stop offset="0.600" stop-color="#3f637a"/><stop offset="0.700" stop-color="#3b4b78"/><stop offset="0.800" stop-color="#362e70"/><stop offset="0.900" stop-color="#331660"/><stop offset="0.980" stop-color="#2d004b"/><stop offset="1.000" stop-color="#2c0048"/></linearGradient>
<rect x="1741.5" y="658.8000000000001" width="23.0" height="228.3" fill="url(#g1740_658)" stroke="#000" stroke-width="1.3"/>
<rect x="1742.2" y="885.1" width="21.6" height="1.4" fill="#ececee"/>
<text x="815.2" y="113" font-size="30.6">10</text>
<text x="851.8" y="94.6" font-size="23.5">-1</text>
<text x="814.6" y="383.9" font-size="30.6">10</text>
<text x="850.6" y="365.3" font-size="23.5">-1</text>
<text x="814.6" y="648.1" font-size="30.6">10</text>
<text x="850.6" y="629.9" font-size="23.5">-1</text>
<text x="1746.6" y="113" font-size="30.6">10</text>
<text x="1782.8" y="94.8" font-size="23.5">-1</text>
<text x="1746.6" y="382.4" font-size="30.6">10</text>
<text x="1782.4" y="364.3" font-size="23.5">-1</text>
<rect x="832.1" y="157.05" width="10.5" height="1.3" fill="#000"/>
<text x="857.2" y="168.7" font-size="30.6">1</text>
<rect x="832.1" y="233.05" width="10.5" height="1.3" fill="#000"/>
<text x="856.8" y="244.7" font-size="30.6">0</text>
<rect x="832.1" y="309.85" width="10.5" height="1.3" fill="#000"/>
<text x="851.4" y="321.5" font-size="30.6" textLength="18.2" lengthAdjust="spacingAndGlyphs">−</text>
<text x="874.6" y="321.5" font-size="30.6">1</text>
<rect x="834.3" y="437.65" width="10.5" height="1.3" fill="#000"/>
<text x="858.0" y="449.3" font-size="30.6">2.5</text>
<rect x="834.3" y="506.05" width="10.5" height="1.3" fill="#000"/>
<text x="858.8" y="517.7" font-size="30.6">0.0</text>
<rect x="834.3" y="574.95" width="10.5" height="1.3" fill="#000"/>
<text x="851.4" y="586.6" font-size="30.6" textLength="18.2" lengthAdjust="spacingAndGlyphs">−</text>
<text x="875.0" y="586.6" font-size="30.6">2.5</text>
<rect x="834.3" y="708.65" width="10.5" height="1.3" fill="#000"/>
<text x="858.6" y="720.3" font-size="30.6">5</text>
<rect x="834.3" y="770.65" width="10.5" height="1.3" fill="#000"/>
<text x="858.6" y="782.3" font-size="30.6">0</text>
<rect x="834.3" y="832.35" width="10.5" height="1.3" fill="#000"/>
<text x="853.4" y="844.0" font-size="30.6" textLength="18.2" lengthAdjust="spacingAndGlyphs">−</text>
<text x="876.0" y="844.0" font-size="30.6">5</text>
<rect x="1763.8" y="127.65" width="10.5" height="1.3" fill="#000"/>
<text x="1787.6" y="139.3" font-size="30.6">2</text>
<rect x="1763.8" y="245.45" width="10.5" height="1.3" fill="#000"/>
<text x="1787.6" y="257.1" font-size="30.6">0</text>
<rect x="1765.1" y="487.15" width="10.5" height="1.3" fill="#000"/>
<text x="1788.9" y="498.8" font-size="30.6">0</text>
<rect x="1765.1" y="590.55" width="10.5" height="1.3" fill="#000"/>
<text x="1788.4" y="602.2" font-size="30.6" textLength="18.2" lengthAdjust="spacingAndGlyphs">−</text>
<text x="1806.6" y="602.2" font-size="30.6">5</text>
<rect x="1765.1" y="660.85" width="10.5" height="1.3" fill="#000"/>
<text x="1789.6" y="672.5" font-size="30.6">1</text>
<rect x="1765.1" y="768.75" width="10.5" height="1.3" fill="#000"/>
<text x="1788.9" y="780.4" font-size="30.6">0</text>
<rect x="1765.1" y="875.55" width="10.5" height="1.3" fill="#000"/>
<text x="1788.4" y="887.2" font-size="30.6" textLength="18.2" lengthAdjust="spacingAndGlyphs">−</text>
<text x="1806.6" y="887.2" font-size="30.6">1</text>
<text x="344.8" y="958.2" font-size="37.5" textLength="45.8" lengthAdjust="spacingAndGlyphs">(a)</text>
<text x="405.0" y="958.2" font-size="37.5" class="i" textLength="25.5" lengthAdjust="spacingAndGlyphs">L</text>
<text x="428.6" y="963.8000000000001" font-size="29.5">0</text>
<text x="456.4" y="958.2" font-size="37.5" textLength="29.8" lengthAdjust="spacingAndGlyphs">=</text>
<text x="496.5" y="958.2" font-size="37.5">20</text>
<text x="539.7" y="958.2" font-size="37.5" textLength="30.8" lengthAdjust="spacingAndGlyphs">m</text>
<text x="1274.8" y="958.2" font-size="37.5" textLength="47.5" lengthAdjust="spacingAndGlyphs">(b)</text>
<text x="1337.0" y="958.2" font-size="37.5" class="i" textLength="25.5" lengthAdjust="spacingAndGlyphs">L</text>
<text x="1360.6" y="963.8000000000001" font-size="29.5">0</text>
<text x="1388.4" y="958.2" font-size="37.5" textLength="29.8" lengthAdjust="spacingAndGlyphs">=</text>
<text x="1427" y="958.2" font-size="37.5">1</text>
<text x="1453.7" y="958.2" font-size="37.5" textLength="30.8" lengthAdjust="spacingAndGlyphs">m</text>
</svg></body></html>
